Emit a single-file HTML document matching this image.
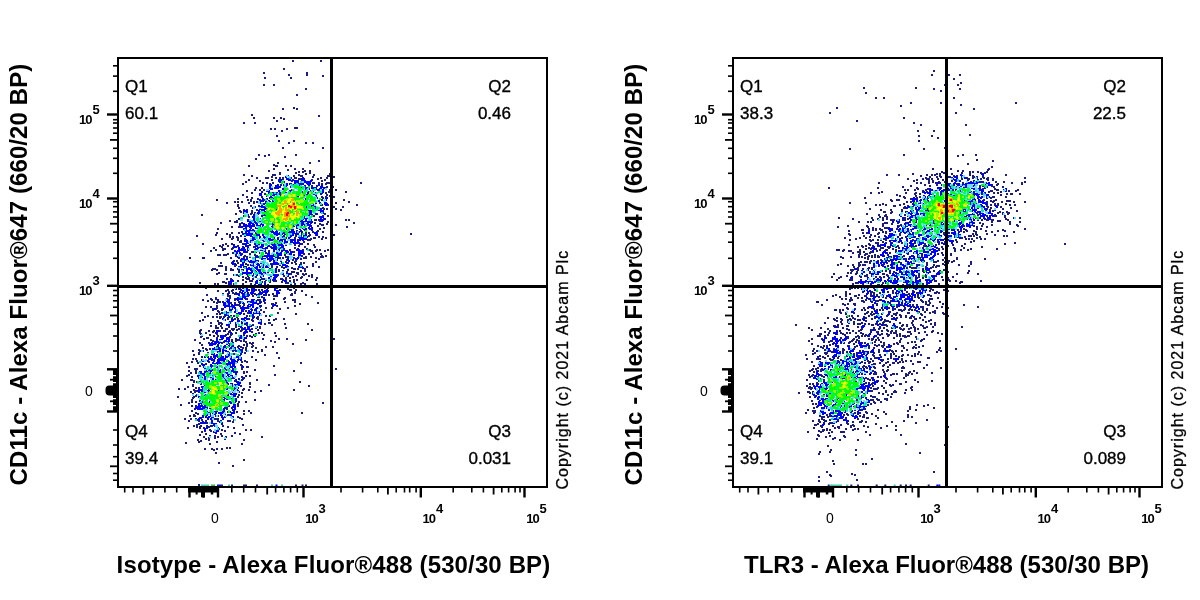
<!DOCTYPE html>
<html><head><meta charset="utf-8"><title>Flow cytometry</title>
<style>html,body{margin:0;padding:0;background:#fff;}svg{display:block;filter:blur(0.35px);}</style></head>
<body><svg width="1200" height="600" viewBox="0 0 1200 600">
<rect width="1200" height="600" fill="#fff"/>
<path fill="#1c1c7a" d="M292 60h2v2h-2zM320 60h2v2h-2zM283 68h2v2h-2zM263 72h2v2h-2zM306 72h2v2h-2zM288 74h2v2h-2zM306 74h2v2h-2zM322 75h2v2h-2zM264 77h2v2h-2zM290 77h2v2h-2zM263 84h2v2h-2zM273 84h2v2h-2zM305 88h2v2h-2zM296 94h2v2h-2zM293 107h2v2h-2zM282 108h2v2h-2zM296 108h2v2h-2zM251 114h2v2h-2zM318 115h2v2h-2zM253 117h2v2h-2zM273 117h2v2h-2zM280 117h2v2h-2zM283 118h2v2h-2zM276 120h2v2h-2zM243 122h2v2h-2zM254 122h2v2h-2zM294 127h2v2h-2zM296 127h2v2h-2zM270 128h2v2h-2zM274 128h2v2h-2zM286 128h2v2h-2zM281 130h2v2h-2zM276 135h2v2h-2zM278 140h2v2h-2zM293 140h2v2h-2zM288 142h2v2h-2zM305 142h2v2h-2zM312 142h2v2h-2zM282 147h2v2h-2zM322 147h2v2h-2zM258 154h2v2h-2zM268 154h2v2h-2zM295 154h2v2h-2zM264 155h2v2h-2zM284 156h2v2h-2zM255 158h2v2h-2zM318 160h2v2h-2zM277 162h2v2h-2zM309 162h2v2h-2zM273 164h2v2h-2zM248 165h2v2h-2zM275 165h2v2h-2zM276 165h2v2h-2zM285 165h2v2h-2zM290 165h2v2h-2zM273 168h2v2h-2zM294 168h2v2h-2zM302 168h2v2h-2zM287 169h2v2h-2zM268 170h2v2h-2zM304 170h2v2h-2zM309 170h2v2h-2zM298 171h2v2h-2zM302 171h2v2h-2zM279 172h2v2h-2zM295 172h2v2h-2zM309 172h2v2h-2zM279 173h2v2h-2zM305 173h2v2h-2zM329 173h2v2h-2zM331 173h2v2h-2zM243 174h2v2h-2zM272 174h2v2h-2zM274 174h2v2h-2zM298 174h2v2h-2zM313 174h2v2h-2zM251 175h2v2h-2zM293 175h2v2h-2zM300 175h2v2h-2zM301 175h2v2h-2zM327 175h2v2h-2zM329 175h2v2h-2zM271 176h2v2h-2zM312 176h2v2h-2zM333 176h2v2h-2zM256 177h2v2h-2zM265 177h2v2h-2zM267 177h2v2h-2zM275 177h2v2h-2zM279 177h2v2h-2zM282 177h2v2h-2zM294 177h2v2h-2zM295 177h2v2h-2zM320 177h2v2h-2zM326 177h2v2h-2zM282 178h2v2h-2zM298 178h2v2h-2zM300 178h2v2h-2zM317 178h2v2h-2zM248 179h2v2h-2zM271 179h2v2h-2zM311 179h2v2h-2zM324 179h2v2h-2zM259 180h2v2h-2zM278 180h2v2h-2zM291 180h2v2h-2zM321 180h2v2h-2zM245 181h2v2h-2zM262 182h2v2h-2zM266 182h2v2h-2zM272 182h2v2h-2zM312 182h2v2h-2zM313 182h2v2h-2zM318 182h2v2h-2zM326 182h2v2h-2zM328 182h2v2h-2zM360 182h2v2h-2zM242 183h2v2h-2zM269 183h2v2h-2zM318 183h2v2h-2zM321 183h2v2h-2zM325 183h2v2h-2zM331 183h2v2h-2zM280 184h2v2h-2zM311 185h2v2h-2zM316 185h2v2h-2zM326 186h2v2h-2zM332 186h2v2h-2zM255 187h2v2h-2zM261 187h2v2h-2zM274 187h2v2h-2zM325 187h2v2h-2zM254 189h2v2h-2zM259 189h2v2h-2zM263 189h2v2h-2zM329 189h2v2h-2zM335 189h2v2h-2zM246 190h2v2h-2zM329 190h2v2h-2zM328 191h2v2h-2zM345 191h2v2h-2zM251 192h2v2h-2zM321 192h2v2h-2zM325 192h2v2h-2zM331 192h2v2h-2zM264 193h2v2h-2zM242 194h2v2h-2zM326 194h2v2h-2zM329 195h2v2h-2zM246 196h2v2h-2zM261 196h2v2h-2zM321 196h2v2h-2zM325 196h2v2h-2zM333 196h2v2h-2zM251 197h2v2h-2zM322 197h2v2h-2zM330 197h2v2h-2zM237 198h2v2h-2zM257 198h2v2h-2zM266 198h2v2h-2zM216 199h2v2h-2zM247 199h2v2h-2zM250 199h2v2h-2zM321 199h2v2h-2zM343 199h2v2h-2zM250 200h2v2h-2zM262 200h2v2h-2zM234 201h2v2h-2zM237 201h2v2h-2zM241 201h2v2h-2zM253 201h2v2h-2zM256 201h2v2h-2zM348 201h2v2h-2zM226 202h2v2h-2zM248 202h2v2h-2zM253 202h2v2h-2zM331 202h2v2h-2zM335 202h2v2h-2zM262 203h2v2h-2zM237 204h2v2h-2zM320 204h2v2h-2zM321 204h2v2h-2zM327 204h2v2h-2zM356 204h2v2h-2zM237 205h2v2h-2zM250 205h2v2h-2zM258 205h2v2h-2zM254 206h2v2h-2zM330 206h2v2h-2zM333 206h2v2h-2zM342 206h2v2h-2zM238 207h2v2h-2zM322 207h2v2h-2zM323 208h2v2h-2zM326 208h2v2h-2zM331 208h2v2h-2zM335 208h2v2h-2zM243 209h2v2h-2zM246 209h2v2h-2zM256 209h2v2h-2zM340 209h2v2h-2zM239 210h2v2h-2zM251 210h2v2h-2zM240 211h2v2h-2zM251 212h2v2h-2zM254 212h2v2h-2zM235 213h2v2h-2zM250 213h2v2h-2zM316 213h2v2h-2zM324 213h2v2h-2zM201 214h2v2h-2zM331 214h2v2h-2zM313 215h2v2h-2zM322 215h2v2h-2zM327 215h2v2h-2zM248 216h2v2h-2zM319 216h2v2h-2zM238 218h2v2h-2zM324 218h2v2h-2zM314 219h2v2h-2zM315 219h2v2h-2zM318 219h2v2h-2zM345 219h2v2h-2zM348 219h2v2h-2zM229 220h2v2h-2zM236 220h2v2h-2zM319 220h2v2h-2zM234 221h2v2h-2zM236 221h2v2h-2zM327 221h2v2h-2zM220 222h2v2h-2zM241 222h2v2h-2zM310 222h2v2h-2zM314 222h2v2h-2zM353 222h2v2h-2zM239 223h2v2h-2zM319 223h2v2h-2zM326 223h2v2h-2zM321 224h2v2h-2zM322 224h2v2h-2zM335 224h2v2h-2zM317 225h2v2h-2zM231 226h2v2h-2zM238 226h2v2h-2zM239 226h2v2h-2zM346 226h2v2h-2zM296 227h2v2h-2zM323 227h2v2h-2zM217 228h2v2h-2zM319 228h2v2h-2zM296 230h2v2h-2zM300 230h2v2h-2zM317 230h2v2h-2zM241 231h2v2h-2zM312 231h2v2h-2zM316 231h2v2h-2zM322 231h2v2h-2zM216 232h2v2h-2zM231 232h2v2h-2zM238 232h2v2h-2zM305 232h2v2h-2zM308 232h2v2h-2zM226 233h2v2h-2zM410 233h2v2h-2zM215 234h2v2h-2zM229 234h2v2h-2zM309 234h2v2h-2zM315 234h2v2h-2zM333 234h2v2h-2zM196 235h2v2h-2zM240 235h2v2h-2zM295 235h2v2h-2zM308 235h2v2h-2zM229 236h2v2h-2zM232 236h2v2h-2zM236 236h2v2h-2zM318 236h2v2h-2zM322 236h2v2h-2zM232 237h2v2h-2zM237 237h2v2h-2zM277 237h2v2h-2zM294 237h2v2h-2zM313 237h2v2h-2zM314 237h2v2h-2zM325 237h2v2h-2zM221 238h2v2h-2zM231 238h2v2h-2zM244 238h2v2h-2zM294 238h2v2h-2zM310 238h2v2h-2zM321 238h2v2h-2zM237 239h2v2h-2zM297 239h2v2h-2zM307 239h2v2h-2zM309 239h2v2h-2zM240 240h2v2h-2zM239 241h2v2h-2zM240 241h2v2h-2zM303 241h2v2h-2zM298 242h2v2h-2zM202 243h2v2h-2zM225 243h2v2h-2zM231 243h2v2h-2zM242 243h2v2h-2zM301 243h2v2h-2zM307 243h2v2h-2zM222 244h2v2h-2zM249 244h2v2h-2zM285 244h2v2h-2zM294 244h2v2h-2zM313 244h2v2h-2zM219 245h2v2h-2zM227 245h2v2h-2zM237 245h2v2h-2zM298 245h2v2h-2zM221 246h2v2h-2zM242 246h2v2h-2zM253 246h2v2h-2zM254 246h2v2h-2zM270 246h2v2h-2zM304 246h2v2h-2zM314 246h2v2h-2zM213 247h2v2h-2zM232 247h2v2h-2zM294 247h2v2h-2zM222 248h2v2h-2zM224 248h2v2h-2zM231 248h2v2h-2zM297 248h2v2h-2zM306 248h2v2h-2zM215 249h2v2h-2zM222 249h2v2h-2zM289 249h2v2h-2zM302 249h2v2h-2zM309 249h2v2h-2zM316 249h2v2h-2zM319 249h2v2h-2zM327 249h2v2h-2zM210 250h2v2h-2zM268 250h2v2h-2zM310 250h2v2h-2zM311 250h2v2h-2zM315 250h2v2h-2zM324 250h2v2h-2zM246 251h2v2h-2zM251 251h2v2h-2zM293 251h2v2h-2zM232 252h2v2h-2zM265 252h2v2h-2zM312 252h2v2h-2zM227 253h2v2h-2zM241 253h2v2h-2zM249 253h2v2h-2zM303 253h2v2h-2zM308 253h2v2h-2zM320 253h2v2h-2zM217 254h2v2h-2zM219 254h2v2h-2zM223 254h2v2h-2zM225 254h2v2h-2zM249 254h2v2h-2zM254 254h2v2h-2zM284 254h2v2h-2zM293 254h2v2h-2zM235 255h2v2h-2zM244 255h2v2h-2zM256 255h2v2h-2zM321 255h2v2h-2zM325 255h2v2h-2zM243 256h2v2h-2zM246 256h2v2h-2zM249 256h2v2h-2zM285 256h2v2h-2zM287 256h2v2h-2zM305 256h2v2h-2zM310 256h2v2h-2zM320 256h2v2h-2zM322 256h2v2h-2zM189 257h2v2h-2zM202 257h2v2h-2zM203 257h2v2h-2zM230 257h2v2h-2zM238 257h2v2h-2zM279 257h2v2h-2zM282 257h2v2h-2zM293 257h2v2h-2zM303 257h2v2h-2zM305 257h2v2h-2zM315 257h2v2h-2zM296 258h2v2h-2zM300 258h2v2h-2zM318 258h2v2h-2zM286 259h2v2h-2zM292 259h2v2h-2zM233 260h2v2h-2zM236 260h2v2h-2zM257 260h2v2h-2zM269 260h2v2h-2zM280 260h2v2h-2zM295 260h2v2h-2zM285 261h2v2h-2zM294 261h2v2h-2zM315 261h2v2h-2zM220 262h2v2h-2zM231 262h2v2h-2zM237 262h2v2h-2zM287 262h2v2h-2zM291 262h2v2h-2zM300 262h2v2h-2zM303 262h2v2h-2zM245 263h2v2h-2zM270 263h2v2h-2zM295 263h2v2h-2zM300 263h2v2h-2zM312 263h2v2h-2zM235 264h2v2h-2zM247 264h2v2h-2zM218 265h2v2h-2zM220 265h2v2h-2zM221 265h2v2h-2zM234 265h2v2h-2zM312 265h2v2h-2zM225 266h2v2h-2zM243 266h2v2h-2zM271 266h2v2h-2zM276 266h2v2h-2zM281 266h2v2h-2zM306 266h2v2h-2zM318 266h2v2h-2zM225 267h2v2h-2zM283 267h2v2h-2zM291 267h2v2h-2zM212 268h2v2h-2zM214 268h2v2h-2zM230 268h2v2h-2zM237 268h2v2h-2zM293 268h2v2h-2zM294 268h2v2h-2zM297 268h2v2h-2zM304 268h2v2h-2zM211 269h2v2h-2zM216 269h2v2h-2zM225 269h2v2h-2zM230 269h2v2h-2zM232 269h2v2h-2zM238 269h2v2h-2zM241 269h2v2h-2zM242 269h2v2h-2zM278 269h2v2h-2zM287 269h2v2h-2zM278 270h2v2h-2zM282 270h2v2h-2zM300 270h2v2h-2zM304 270h2v2h-2zM238 271h2v2h-2zM286 271h2v2h-2zM291 271h2v2h-2zM293 271h2v2h-2zM218 272h2v2h-2zM296 272h2v2h-2zM297 272h2v2h-2zM216 273h2v2h-2zM224 273h2v2h-2zM225 273h2v2h-2zM290 273h2v2h-2zM297 273h2v2h-2zM302 273h2v2h-2zM305 273h2v2h-2zM233 274h2v2h-2zM236 274h2v2h-2zM277 274h2v2h-2zM303 274h2v2h-2zM311 274h2v2h-2zM238 275h2v2h-2zM283 275h2v2h-2zM295 275h2v2h-2zM308 275h2v2h-2zM242 276h2v2h-2zM255 276h2v2h-2zM292 276h2v2h-2zM301 276h2v2h-2zM311 276h2v2h-2zM245 277h2v2h-2zM248 277h2v2h-2zM285 277h2v2h-2zM289 277h2v2h-2zM300 277h2v2h-2zM316 277h2v2h-2zM226 278h2v2h-2zM230 278h2v2h-2zM246 278h2v2h-2zM248 278h2v2h-2zM252 278h2v2h-2zM261 278h2v2h-2zM262 278h2v2h-2zM264 278h2v2h-2zM280 278h2v2h-2zM281 278h2v2h-2zM231 279h2v2h-2zM242 279h2v2h-2zM265 279h2v2h-2zM285 279h2v2h-2zM293 279h2v2h-2zM296 279h2v2h-2zM306 279h2v2h-2zM315 279h2v2h-2zM237 280h2v2h-2zM249 280h2v2h-2zM251 280h2v2h-2zM273 280h2v2h-2zM275 280h2v2h-2zM289 280h2v2h-2zM222 281h2v2h-2zM223 281h2v2h-2zM228 281h2v2h-2zM245 281h2v2h-2zM255 281h2v2h-2zM264 281h2v2h-2zM269 281h2v2h-2zM281 281h2v2h-2zM293 281h2v2h-2zM199 282h2v2h-2zM225 282h2v2h-2zM285 282h2v2h-2zM287 282h2v2h-2zM302 282h2v2h-2zM214 283h2v2h-2zM217 283h2v2h-2zM242 283h2v2h-2zM250 283h2v2h-2zM290 283h2v2h-2zM294 283h2v2h-2zM300 283h2v2h-2zM304 283h2v2h-2zM316 283h2v2h-2zM230 284h2v2h-2zM264 284h2v2h-2zM267 284h2v2h-2zM316 284h2v2h-2zM216 285h2v2h-2zM227 285h2v2h-2zM247 285h2v2h-2zM272 285h2v2h-2zM279 285h2v2h-2zM289 285h2v2h-2zM293 285h2v2h-2zM308 285h2v2h-2zM313 285h2v2h-2zM220 286h2v2h-2zM243 286h2v2h-2zM270 286h2v2h-2zM289 286h2v2h-2zM205 287h2v2h-2zM264 287h2v2h-2zM267 287h2v2h-2zM293 287h2v2h-2zM235 288h2v2h-2zM238 288h2v2h-2zM239 288h2v2h-2zM287 288h2v2h-2zM227 289h2v2h-2zM232 289h2v2h-2zM248 289h2v2h-2zM255 289h2v2h-2zM258 289h2v2h-2zM261 289h2v2h-2zM279 289h2v2h-2zM289 289h2v2h-2zM290 289h2v2h-2zM295 289h2v2h-2zM217 290h2v2h-2zM225 290h2v2h-2zM231 290h2v2h-2zM267 290h2v2h-2zM301 290h2v2h-2zM228 291h2v2h-2zM239 291h2v2h-2zM294 291h2v2h-2zM228 292h2v2h-2zM232 292h2v2h-2zM235 292h2v2h-2zM294 292h2v2h-2zM222 293h2v2h-2zM234 293h2v2h-2zM238 293h2v2h-2zM254 293h2v2h-2zM272 293h2v2h-2zM291 293h2v2h-2zM206 294h2v2h-2zM265 294h2v2h-2zM268 294h2v2h-2zM290 294h2v2h-2zM291 294h2v2h-2zM305 294h2v2h-2zM227 295h2v2h-2zM229 295h2v2h-2zM252 295h2v2h-2zM273 295h2v2h-2zM275 295h2v2h-2zM276 295h2v2h-2zM261 296h2v2h-2zM311 296h2v2h-2zM215 297h2v2h-2zM229 297h2v2h-2zM284 297h2v2h-2zM210 298h2v2h-2zM215 298h2v2h-2zM226 298h2v2h-2zM234 298h2v2h-2zM245 298h2v2h-2zM246 298h2v2h-2zM273 298h2v2h-2zM283 298h2v2h-2zM202 299h2v2h-2zM211 299h2v2h-2zM234 299h2v2h-2zM257 299h2v2h-2zM259 299h2v2h-2zM292 299h2v2h-2zM294 299h2v2h-2zM207 300h2v2h-2zM213 301h2v2h-2zM217 301h2v2h-2zM219 301h2v2h-2zM222 301h2v2h-2zM238 301h2v2h-2zM260 301h2v2h-2zM284 301h2v2h-2zM294 301h2v2h-2zM216 302h2v2h-2zM230 302h2v2h-2zM234 302h2v2h-2zM259 302h2v2h-2zM264 302h2v2h-2zM275 302h2v2h-2zM317 302h2v2h-2zM243 303h2v2h-2zM271 303h2v2h-2zM272 303h2v2h-2zM299 303h2v2h-2zM236 304h2v2h-2zM238 304h2v2h-2zM243 304h2v2h-2zM216 305h2v2h-2zM239 305h2v2h-2zM260 305h2v2h-2zM276 305h2v2h-2zM294 305h2v2h-2zM205 306h2v2h-2zM210 306h2v2h-2zM259 306h2v2h-2zM216 307h2v2h-2zM265 307h2v2h-2zM271 307h2v2h-2zM287 307h2v2h-2zM212 308h2v2h-2zM215 308h2v2h-2zM221 308h2v2h-2zM222 308h2v2h-2zM255 308h2v2h-2zM279 308h2v2h-2zM212 309h2v2h-2zM221 309h2v2h-2zM251 309h2v2h-2zM260 309h2v2h-2zM217 310h2v2h-2zM245 310h2v2h-2zM218 311h2v2h-2zM263 311h2v2h-2zM201 312h2v2h-2zM221 312h2v2h-2zM247 312h2v2h-2zM277 312h2v2h-2zM216 313h2v2h-2zM219 313h2v2h-2zM243 313h2v2h-2zM295 313h2v2h-2zM207 315h2v2h-2zM224 315h2v2h-2zM230 315h2v2h-2zM233 315h2v2h-2zM246 315h2v2h-2zM249 315h2v2h-2zM265 315h2v2h-2zM269 315h2v2h-2zM204 316h2v2h-2zM212 316h2v2h-2zM216 316h2v2h-2zM219 316h2v2h-2zM220 316h2v2h-2zM223 316h2v2h-2zM253 316h2v2h-2zM257 316h2v2h-2zM219 317h2v2h-2zM227 317h2v2h-2zM256 317h2v2h-2zM227 318h2v2h-2zM234 318h2v2h-2zM237 318h2v2h-2zM248 318h2v2h-2zM257 318h2v2h-2zM275 318h2v2h-2zM283 318h2v2h-2zM202 319h2v2h-2zM224 319h2v2h-2zM251 319h2v2h-2zM260 319h2v2h-2zM268 319h2v2h-2zM273 319h2v2h-2zM199 320h2v2h-2zM217 320h2v2h-2zM252 320h2v2h-2zM210 322h2v2h-2zM218 322h2v2h-2zM220 322h2v2h-2zM268 322h2v2h-2zM269 322h2v2h-2zM218 323h2v2h-2zM221 323h2v2h-2zM241 323h2v2h-2zM244 323h2v2h-2zM260 323h2v2h-2zM264 323h2v2h-2zM284 323h2v2h-2zM307 323h2v2h-2zM246 324h2v2h-2zM252 324h2v2h-2zM271 324h2v2h-2zM210 325h2v2h-2zM215 325h2v2h-2zM220 325h2v2h-2zM228 325h2v2h-2zM235 325h2v2h-2zM238 325h2v2h-2zM228 326h2v2h-2zM235 326h2v2h-2zM256 326h2v2h-2zM259 326h2v2h-2zM215 327h2v2h-2zM217 327h2v2h-2zM221 327h2v2h-2zM241 327h2v2h-2zM244 327h2v2h-2zM255 327h2v2h-2zM259 327h2v2h-2zM285 327h2v2h-2zM225 328h2v2h-2zM226 328h2v2h-2zM231 328h2v2h-2zM233 328h2v2h-2zM238 328h2v2h-2zM251 328h2v2h-2zM200 329h2v2h-2zM232 329h2v2h-2zM236 329h2v2h-2zM241 329h2v2h-2zM257 329h2v2h-2zM311 329h2v2h-2zM199 330h2v2h-2zM208 330h2v2h-2zM213 330h2v2h-2zM216 330h2v2h-2zM219 330h2v2h-2zM223 330h2v2h-2zM224 330h2v2h-2zM229 330h2v2h-2zM240 330h2v2h-2zM212 331h2v2h-2zM228 331h2v2h-2zM251 331h2v2h-2zM199 332h2v2h-2zM205 332h2v2h-2zM235 332h2v2h-2zM258 332h2v2h-2zM261 332h2v2h-2zM274 332h2v2h-2zM200 333h2v2h-2zM216 333h2v2h-2zM227 333h2v2h-2zM231 333h2v2h-2zM209 334h2v2h-2zM225 334h2v2h-2zM230 334h2v2h-2zM243 334h2v2h-2zM263 334h2v2h-2zM201 335h2v2h-2zM213 335h2v2h-2zM217 335h2v2h-2zM246 335h2v2h-2zM249 335h2v2h-2zM275 335h2v2h-2zM200 336h2v2h-2zM229 336h2v2h-2zM251 336h2v2h-2zM206 337h2v2h-2zM207 337h2v2h-2zM216 337h2v2h-2zM203 338h2v2h-2zM216 338h2v2h-2zM235 338h2v2h-2zM262 338h2v2h-2zM278 338h2v2h-2zM286 338h2v2h-2zM333 338h2v2h-2zM194 339h2v2h-2zM210 339h2v2h-2zM231 339h2v2h-2zM236 339h2v2h-2zM238 339h2v2h-2zM305 339h2v2h-2zM212 340h2v2h-2zM235 340h2v2h-2zM240 340h2v2h-2zM243 340h2v2h-2zM270 340h2v2h-2zM223 341h2v2h-2zM245 341h2v2h-2zM274 341h2v2h-2zM199 342h2v2h-2zM208 342h2v2h-2zM221 342h2v2h-2zM249 342h2v2h-2zM252 342h2v2h-2zM246 343h2v2h-2zM251 343h2v2h-2zM292 343h2v2h-2zM201 344h2v2h-2zM243 344h2v2h-2zM238 345h2v2h-2zM246 345h2v2h-2zM252 345h2v2h-2zM237 346h2v2h-2zM240 346h2v2h-2zM251 346h2v2h-2zM265 346h2v2h-2zM272 346h2v2h-2zM202 347h2v2h-2zM242 347h2v2h-2zM245 347h2v2h-2zM255 347h2v2h-2zM205 348h2v2h-2zM209 348h2v2h-2zM198 349h2v2h-2zM206 349h2v2h-2zM245 349h2v2h-2zM261 349h2v2h-2zM192 350h2v2h-2zM199 350h2v2h-2zM202 350h2v2h-2zM232 350h2v2h-2zM246 350h2v2h-2zM252 350h2v2h-2zM261 350h2v2h-2zM257 351h2v2h-2zM198 352h2v2h-2zM207 352h2v2h-2zM222 352h2v2h-2zM244 352h2v2h-2zM276 352h2v2h-2zM198 353h2v2h-2zM233 353h2v2h-2zM234 353h2v2h-2zM193 354h2v2h-2zM264 354h2v2h-2zM225 355h2v2h-2zM201 356h2v2h-2zM210 356h2v2h-2zM251 356h2v2h-2zM278 357h2v2h-2zM192 358h2v2h-2zM195 358h2v2h-2zM237 359h2v2h-2zM255 359h2v2h-2zM196 360h2v2h-2zM227 360h2v2h-2zM244 360h2v2h-2zM191 361h2v2h-2zM208 361h2v2h-2zM241 361h2v2h-2zM246 361h2v2h-2zM186 362h2v2h-2zM197 362h2v2h-2zM300 362h2v2h-2zM205 363h2v2h-2zM240 364h2v2h-2zM199 365h2v2h-2zM241 365h2v2h-2zM273 365h2v2h-2zM188 366h2v2h-2zM246 366h2v2h-2zM247 366h2v2h-2zM241 367h2v2h-2zM194 368h2v2h-2zM196 368h2v2h-2zM241 368h2v2h-2zM335 368h2v2h-2zM195 369h2v2h-2zM254 369h2v2h-2zM188 370h2v2h-2zM293 370h2v2h-2zM195 371h2v2h-2zM236 371h2v2h-2zM243 371h2v2h-2zM246 371h2v2h-2zM190 372h2v2h-2zM195 372h2v2h-2zM243 372h2v2h-2zM188 374h2v2h-2zM274 374h2v2h-2zM186 375h2v2h-2zM245 375h2v2h-2zM249 375h2v2h-2zM191 376h2v2h-2zM241 376h2v2h-2zM238 378h2v2h-2zM242 378h2v2h-2zM181 379h2v2h-2zM190 379h2v2h-2zM191 379h2v2h-2zM241 379h2v2h-2zM256 379h2v2h-2zM193 380h2v2h-2zM234 380h2v2h-2zM193 381h2v2h-2zM196 381h2v2h-2zM299 381h2v2h-2zM249 382h2v2h-2zM230 383h2v2h-2zM249 383h2v2h-2zM192 384h2v2h-2zM268 384h2v2h-2zM192 385h2v2h-2zM240 385h2v2h-2zM308 385h2v2h-2zM187 386h2v2h-2zM249 386h2v2h-2zM195 387h2v2h-2zM198 387h2v2h-2zM178 388h2v2h-2zM184 388h2v2h-2zM243 388h2v2h-2zM193 389h2v2h-2zM242 389h2v2h-2zM248 389h2v2h-2zM293 389h2v2h-2zM195 390h2v2h-2zM197 390h2v2h-2zM260 390h2v2h-2zM190 391h2v2h-2zM194 391h2v2h-2zM238 391h2v2h-2zM254 391h2v2h-2zM241 392h2v2h-2zM192 393h2v2h-2zM196 394h2v2h-2zM238 394h2v2h-2zM195 395h2v2h-2zM177 396h2v2h-2zM193 396h2v2h-2zM237 396h2v2h-2zM241 396h2v2h-2zM192 397h2v2h-2zM191 399h2v2h-2zM254 399h2v2h-2zM191 401h2v2h-2zM195 401h2v2h-2zM238 401h2v2h-2zM245 401h2v2h-2zM188 402h2v2h-2zM322 402h2v2h-2zM237 403h2v2h-2zM180 404h2v2h-2zM191 405h2v2h-2zM195 405h2v2h-2zM237 405h2v2h-2zM231 407h2v2h-2zM194 408h2v2h-2zM226 408h2v2h-2zM191 410h2v2h-2zM243 410h2v2h-2zM248 410h2v2h-2zM227 411h2v2h-2zM236 411h2v2h-2zM195 412h2v2h-2zM250 412h2v2h-2zM301 412h2v2h-2zM197 413h2v2h-2zM243 413h2v2h-2zM193 414h2v2h-2zM227 414h2v2h-2zM228 414h2v2h-2zM189 415h2v2h-2zM193 415h2v2h-2zM194 415h2v2h-2zM215 415h2v2h-2zM217 415h2v2h-2zM202 416h2v2h-2zM224 416h2v2h-2zM237 416h2v2h-2zM199 417h2v2h-2zM207 417h2v2h-2zM239 417h2v2h-2zM184 418h2v2h-2zM190 418h2v2h-2zM195 418h2v2h-2zM214 418h2v2h-2zM216 418h2v2h-2zM217 418h2v2h-2zM241 418h2v2h-2zM201 419h2v2h-2zM233 419h2v2h-2zM188 420h2v2h-2zM198 420h2v2h-2zM205 420h2v2h-2zM217 420h2v2h-2zM227 420h2v2h-2zM229 420h2v2h-2zM232 421h2v2h-2zM202 422h2v2h-2zM206 422h2v2h-2zM198 423h2v2h-2zM196 424h2v2h-2zM242 424h2v2h-2zM193 425h2v2h-2zM200 425h2v2h-2zM206 425h2v2h-2zM210 425h2v2h-2zM211 425h2v2h-2zM222 425h2v2h-2zM196 426h2v2h-2zM199 426h2v2h-2zM208 426h2v2h-2zM227 426h2v2h-2zM187 427h2v2h-2zM199 427h2v2h-2zM203 427h2v2h-2zM233 427h2v2h-2zM209 429h2v2h-2zM221 429h2v2h-2zM245 429h2v2h-2zM250 429h2v2h-2zM204 430h2v2h-2zM210 430h2v2h-2zM224 430h2v2h-2zM201 431h2v2h-2zM234 432h2v2h-2zM205 433h2v2h-2zM220 433h2v2h-2zM239 433h2v2h-2zM199 434h2v2h-2zM209 435h2v2h-2zM214 435h2v2h-2zM221 435h2v2h-2zM231 435h2v2h-2zM203 436h2v2h-2zM217 436h2v2h-2zM225 436h2v2h-2zM261 436h2v2h-2zM208 437h2v2h-2zM214 437h2v2h-2zM205 438h2v2h-2zM224 438h2v2h-2zM197 439h2v2h-2zM208 439h2v2h-2zM243 439h2v2h-2zM200 440h2v2h-2zM198 441h2v2h-2zM216 441h2v2h-2zM185 442h2v2h-2zM209 443h2v2h-2zM241 443h2v2h-2zM226 447h2v2h-2zM229 447h2v2h-2zM204 448h2v2h-2zM211 448h2v2h-2zM216 448h2v2h-2zM221 448h2v2h-2zM213 449h2v2h-2zM215 452h2v2h-2zM243 459h2v2h-2zM218 462h2v2h-2zM232 465h2v2h-2zM198 484h2v2h-2zM933 70h2v2h-2zM931 74h2v2h-2zM948 74h2v2h-2zM959 74h2v2h-2zM953 78h2v2h-2zM960 82h2v2h-2zM944 84h2v2h-2zM957 84h2v2h-2zM863 87h2v2h-2zM915 87h2v2h-2zM933 88h2v2h-2zM959 88h2v2h-2zM940 90h2v2h-2zM865 92h2v2h-2zM875 97h2v2h-2zM883 97h2v2h-2zM953 97h2v2h-2zM910 102h2v2h-2zM940 102h2v2h-2zM1015 102h2v2h-2zM960 104h2v2h-2zM900 105h2v2h-2zM836 107h2v2h-2zM973 108h2v2h-2zM829 112h2v2h-2zM955 112h2v2h-2zM903 117h2v2h-2zM856 120h2v2h-2zM913 122h2v2h-2zM920 124h2v2h-2zM965 124h2v2h-2zM917 130h2v2h-2zM933 130h2v2h-2zM969 134h2v2h-2zM918 135h2v2h-2zM931 135h2v2h-2zM937 137h2v2h-2zM918 140h2v2h-2zM944 147h2v2h-2zM849 148h2v2h-2zM923 148h2v2h-2zM903 154h2v2h-2zM962 154h2v2h-2zM975 154h2v2h-2zM957 155h2v2h-2zM976 159h2v2h-2zM992 160h2v2h-2zM967 163h2v2h-2zM991 166h2v2h-2zM932 168h2v2h-2zM950 168h2v2h-2zM988 168h2v2h-2zM987 169h2v2h-2zM957 170h2v2h-2zM962 170h2v2h-2zM941 171h2v2h-2zM969 171h2v2h-2zM972 171h2v2h-2zM977 171h2v2h-2zM986 171h2v2h-2zM943 172h2v2h-2zM961 172h2v2h-2zM980 172h2v2h-2zM984 172h2v2h-2zM912 173h2v2h-2zM936 173h2v2h-2zM939 173h2v2h-2zM951 173h2v2h-2zM969 173h2v2h-2zM981 173h2v2h-2zM886 174h2v2h-2zM898 174h2v2h-2zM926 174h2v2h-2zM931 174h2v2h-2zM934 174h2v2h-2zM969 174h2v2h-2zM1005 174h2v2h-2zM920 175h2v2h-2zM939 175h2v2h-2zM953 175h2v2h-2zM956 175h2v2h-2zM972 175h2v2h-2zM929 176h2v2h-2zM936 176h2v2h-2zM940 176h2v2h-2zM948 176h2v2h-2zM949 176h2v2h-2zM973 176h2v2h-2zM976 176h2v2h-2zM982 176h2v2h-2zM925 177h2v2h-2zM966 177h2v2h-2zM972 177h2v2h-2zM976 177h2v2h-2zM983 177h2v2h-2zM987 177h2v2h-2zM1024 177h2v2h-2zM907 178h2v2h-2zM922 178h2v2h-2zM926 178h2v2h-2zM928 178h2v2h-2zM931 178h2v2h-2zM937 178h2v2h-2zM961 178h2v2h-2zM968 178h2v2h-2zM980 178h2v2h-2zM986 178h2v2h-2zM992 178h2v2h-2zM916 179h2v2h-2zM942 179h2v2h-2zM967 179h2v2h-2zM987 179h2v2h-2zM992 179h2v2h-2zM913 180h2v2h-2zM928 180h2v2h-2zM932 180h2v2h-2zM951 180h2v2h-2zM932 181h2v2h-2zM938 181h2v2h-2zM944 181h2v2h-2zM970 181h2v2h-2zM981 181h2v2h-2zM982 181h2v2h-2zM995 181h2v2h-2zM1003 181h2v2h-2zM1024 181h2v2h-2zM878 182h2v2h-2zM916 182h2v2h-2zM920 182h2v2h-2zM928 182h2v2h-2zM935 182h2v2h-2zM939 182h2v2h-2zM962 182h2v2h-2zM1011 182h2v2h-2zM1021 182h2v2h-2zM956 183h2v2h-2zM997 183h2v2h-2zM1021 183h2v2h-2zM924 184h2v2h-2zM936 184h2v2h-2zM991 184h2v2h-2zM996 184h2v2h-2zM910 185h2v2h-2zM929 185h2v2h-2zM979 185h2v2h-2zM991 185h2v2h-2zM902 186h2v2h-2zM993 186h2v2h-2zM1002 186h2v2h-2zM828 187h2v2h-2zM877 187h2v2h-2zM916 187h2v2h-2zM940 187h2v2h-2zM917 188h2v2h-2zM927 188h2v2h-2zM982 188h2v2h-2zM994 188h2v2h-2zM904 189h2v2h-2zM907 189h2v2h-2zM914 189h2v2h-2zM925 189h2v2h-2zM930 189h2v2h-2zM996 189h2v2h-2zM997 189h2v2h-2zM1017 189h2v2h-2zM922 190h2v2h-2zM990 190h2v2h-2zM991 190h2v2h-2zM1008 190h2v2h-2zM1015 190h2v2h-2zM881 191h2v2h-2zM922 191h2v2h-2zM926 191h2v2h-2zM988 191h2v2h-2zM1000 191h2v2h-2zM870 192h2v2h-2zM878 192h2v2h-2zM905 192h2v2h-2zM915 192h2v2h-2zM993 192h2v2h-2zM997 192h2v2h-2zM914 193h2v2h-2zM919 193h2v2h-2zM1006 193h2v2h-2zM1010 193h2v2h-2zM1011 193h2v2h-2zM1019 193h2v2h-2zM896 194h2v2h-2zM1000 194h2v2h-2zM899 195h2v2h-2zM915 195h2v2h-2zM903 196h2v2h-2zM919 196h2v2h-2zM992 196h2v2h-2zM993 196h2v2h-2zM1005 196h2v2h-2zM864 197h2v2h-2zM904 197h2v2h-2zM916 197h2v2h-2zM977 197h2v2h-2zM986 197h2v2h-2zM990 197h2v2h-2zM910 198h2v2h-2zM890 199h2v2h-2zM896 199h2v2h-2zM898 199h2v2h-2zM983 199h2v2h-2zM995 199h2v2h-2zM891 200h2v2h-2zM979 200h2v2h-2zM990 200h2v2h-2zM993 200h2v2h-2zM1006 200h2v2h-2zM1007 200h2v2h-2zM1009 200h2v2h-2zM906 201h2v2h-2zM910 201h2v2h-2zM986 201h2v2h-2zM992 201h2v2h-2zM1001 201h2v2h-2zM1013 201h2v2h-2zM1024 201h2v2h-2zM849 202h2v2h-2zM865 202h2v2h-2zM882 203h2v2h-2zM903 203h2v2h-2zM994 203h2v2h-2zM997 203h2v2h-2zM1005 203h2v2h-2zM875 204h2v2h-2zM879 204h2v2h-2zM885 204h2v2h-2zM899 204h2v2h-2zM990 204h2v2h-2zM994 204h2v2h-2zM997 204h2v2h-2zM1009 204h2v2h-2zM1014 204h2v2h-2zM893 205h2v2h-2zM894 205h2v2h-2zM907 205h2v2h-2zM986 205h2v2h-2zM904 206h2v2h-2zM987 206h2v2h-2zM1000 206h2v2h-2zM903 207h2v2h-2zM904 207h2v2h-2zM990 207h2v2h-2zM1010 207h2v2h-2zM869 208h2v2h-2zM915 208h2v2h-2zM986 208h2v2h-2zM1002 208h2v2h-2zM880 209h2v2h-2zM890 209h2v2h-2zM901 209h2v2h-2zM989 209h2v2h-2zM994 209h2v2h-2zM992 210h2v2h-2zM1016 210h2v2h-2zM883 211h2v2h-2zM884 211h2v2h-2zM891 211h2v2h-2zM901 211h2v2h-2zM905 211h2v2h-2zM906 211h2v2h-2zM999 211h2v2h-2zM1006 211h2v2h-2zM890 212h2v2h-2zM976 212h2v2h-2zM997 212h2v2h-2zM1002 212h2v2h-2zM1008 212h2v2h-2zM866 213h2v2h-2zM1002 213h2v2h-2zM1007 213h2v2h-2zM878 214h2v2h-2zM885 214h2v2h-2zM904 214h2v2h-2zM977 214h2v2h-2zM994 214h2v2h-2zM884 215h2v2h-2zM907 215h2v2h-2zM986 215h2v2h-2zM994 215h2v2h-2zM995 215h2v2h-2zM1004 215h2v2h-2zM879 216h2v2h-2zM886 216h2v2h-2zM1004 216h2v2h-2zM838 217h2v2h-2zM871 217h2v2h-2zM882 217h2v2h-2zM904 217h2v2h-2zM1013 217h2v2h-2zM1019 217h2v2h-2zM852 218h2v2h-2zM877 218h2v2h-2zM886 218h2v2h-2zM907 218h2v2h-2zM984 218h2v2h-2zM1005 218h2v2h-2zM872 219h2v2h-2zM882 219h2v2h-2zM890 219h2v2h-2zM892 219h2v2h-2zM893 219h2v2h-2zM898 219h2v2h-2zM902 219h2v2h-2zM904 219h2v2h-2zM981 219h2v2h-2zM986 219h2v2h-2zM987 219h2v2h-2zM991 219h2v2h-2zM992 219h2v2h-2zM1007 219h2v2h-2zM997 220h2v2h-2zM999 220h2v2h-2zM858 221h2v2h-2zM867 221h2v2h-2zM870 221h2v2h-2zM909 221h2v2h-2zM991 221h2v2h-2zM1009 221h2v2h-2zM1019 221h2v2h-2zM884 222h2v2h-2zM886 222h2v2h-2zM897 222h2v2h-2zM905 222h2v2h-2zM973 222h2v2h-2zM979 222h2v2h-2zM882 223h2v2h-2zM891 223h2v2h-2zM982 223h2v2h-2zM1009 223h2v2h-2zM882 224h2v2h-2zM900 224h2v2h-2zM991 224h2v2h-2zM1016 224h2v2h-2zM847 225h2v2h-2zM866 225h2v2h-2zM882 225h2v2h-2zM897 225h2v2h-2zM898 225h2v2h-2zM963 225h2v2h-2zM973 225h2v2h-2zM981 225h2v2h-2zM1017 225h2v2h-2zM837 226h2v2h-2zM867 226h2v2h-2zM976 226h2v2h-2zM986 226h2v2h-2zM872 227h2v2h-2zM884 227h2v2h-2zM886 227h2v2h-2zM888 227h2v2h-2zM868 228h2v2h-2zM875 228h2v2h-2zM879 228h2v2h-2zM891 228h2v2h-2zM896 228h2v2h-2zM963 228h2v2h-2zM976 228h2v2h-2zM980 228h2v2h-2zM1024 228h2v2h-2zM861 229h2v2h-2zM862 229h2v2h-2zM872 229h2v2h-2zM875 229h2v2h-2zM880 229h2v2h-2zM881 229h2v2h-2zM910 229h2v2h-2zM957 229h2v2h-2zM965 229h2v2h-2zM1002 229h2v2h-2zM848 230h2v2h-2zM960 230h2v2h-2zM966 230h2v2h-2zM973 230h2v2h-2zM985 230h2v2h-2zM997 230h2v2h-2zM1004 230h2v2h-2zM868 231h2v2h-2zM882 231h2v2h-2zM885 231h2v2h-2zM894 231h2v2h-2zM963 231h2v2h-2zM975 231h2v2h-2zM991 231h2v2h-2zM1013 231h2v2h-2zM862 232h2v2h-2zM866 232h2v2h-2zM878 232h2v2h-2zM885 232h2v2h-2zM904 232h2v2h-2zM943 232h2v2h-2zM948 232h2v2h-2zM951 232h2v2h-2zM848 233h2v2h-2zM877 233h2v2h-2zM899 233h2v2h-2zM943 233h2v2h-2zM972 233h2v2h-2zM975 233h2v2h-2zM986 233h2v2h-2zM849 234h2v2h-2zM870 234h2v2h-2zM899 234h2v2h-2zM976 234h2v2h-2zM994 234h2v2h-2zM863 235h2v2h-2zM874 235h2v2h-2zM884 235h2v2h-2zM918 235h2v2h-2zM968 235h2v2h-2zM970 235h2v2h-2zM973 235h2v2h-2zM1003 235h2v2h-2zM1006 235h2v2h-2zM869 236h2v2h-2zM878 236h2v2h-2zM905 236h2v2h-2zM914 236h2v2h-2zM964 236h2v2h-2zM979 236h2v2h-2zM844 237h2v2h-2zM859 237h2v2h-2zM865 237h2v2h-2zM901 237h2v2h-2zM961 237h2v2h-2zM976 237h2v2h-2zM855 238h2v2h-2zM883 238h2v2h-2zM944 238h2v2h-2zM965 238h2v2h-2zM968 238h2v2h-2zM971 238h2v2h-2zM980 238h2v2h-2zM984 238h2v2h-2zM849 239h2v2h-2zM869 239h2v2h-2zM872 239h2v2h-2zM877 239h2v2h-2zM880 239h2v2h-2zM885 239h2v2h-2zM912 239h2v2h-2zM955 239h2v2h-2zM870 240h2v2h-2zM952 240h2v2h-2zM973 240h2v2h-2zM882 241h2v2h-2zM898 241h2v2h-2zM937 241h2v2h-2zM944 241h2v2h-2zM956 241h2v2h-2zM970 241h2v2h-2zM875 242h2v2h-2zM877 242h2v2h-2zM885 242h2v2h-2zM890 242h2v2h-2zM901 242h2v2h-2zM914 242h2v2h-2zM941 242h2v2h-2zM944 242h2v2h-2zM1014 242h2v2h-2zM868 243h2v2h-2zM924 243h2v2h-2zM938 243h2v2h-2zM964 243h2v2h-2zM1004 243h2v2h-2zM1064 243h2v2h-2zM848 244h2v2h-2zM869 244h2v2h-2zM880 244h2v2h-2zM935 244h2v2h-2zM952 244h2v2h-2zM861 245h2v2h-2zM865 245h2v2h-2zM872 245h2v2h-2zM877 245h2v2h-2zM897 245h2v2h-2zM909 245h2v2h-2zM915 245h2v2h-2zM923 245h2v2h-2zM947 245h2v2h-2zM961 245h2v2h-2zM857 246h2v2h-2zM862 246h2v2h-2zM887 246h2v2h-2zM889 246h2v2h-2zM941 246h2v2h-2zM945 246h2v2h-2zM981 246h2v2h-2zM868 247h2v2h-2zM880 247h2v2h-2zM882 247h2v2h-2zM888 247h2v2h-2zM898 247h2v2h-2zM922 247h2v2h-2zM953 247h2v2h-2zM963 247h2v2h-2zM865 248h2v2h-2zM870 248h2v2h-2zM875 248h2v2h-2zM892 248h2v2h-2zM938 248h2v2h-2zM942 248h2v2h-2zM946 248h2v2h-2zM954 248h2v2h-2zM970 248h2v2h-2zM996 248h2v2h-2zM836 249h2v2h-2zM838 249h2v2h-2zM843 249h2v2h-2zM859 249h2v2h-2zM879 249h2v2h-2zM885 249h2v2h-2zM886 249h2v2h-2zM895 249h2v2h-2zM938 249h2v2h-2zM945 249h2v2h-2zM960 249h2v2h-2zM967 249h2v2h-2zM842 250h2v2h-2zM848 250h2v2h-2zM850 250h2v2h-2zM876 250h2v2h-2zM954 250h2v2h-2zM857 251h2v2h-2zM859 251h2v2h-2zM863 251h2v2h-2zM870 251h2v2h-2zM872 251h2v2h-2zM895 251h2v2h-2zM852 252h2v2h-2zM869 252h2v2h-2zM886 252h2v2h-2zM889 252h2v2h-2zM906 252h2v2h-2zM913 252h2v2h-2zM941 252h2v2h-2zM859 253h2v2h-2zM865 253h2v2h-2zM866 253h2v2h-2zM907 253h2v2h-2zM937 253h2v2h-2zM950 253h2v2h-2zM858 254h2v2h-2zM864 254h2v2h-2zM874 254h2v2h-2zM921 254h2v2h-2zM942 254h2v2h-2zM950 254h2v2h-2zM868 255h2v2h-2zM871 255h2v2h-2zM877 255h2v2h-2zM883 255h2v2h-2zM893 255h2v2h-2zM903 255h2v2h-2zM912 255h2v2h-2zM840 256h2v2h-2zM850 256h2v2h-2zM858 256h2v2h-2zM861 256h2v2h-2zM867 256h2v2h-2zM871 256h2v2h-2zM874 256h2v2h-2zM877 256h2v2h-2zM878 256h2v2h-2zM890 256h2v2h-2zM921 256h2v2h-2zM842 257h2v2h-2zM864 257h2v2h-2zM944 257h2v2h-2zM946 257h2v2h-2zM956 257h2v2h-2zM867 258h2v2h-2zM904 258h2v2h-2zM905 258h2v2h-2zM908 258h2v2h-2zM945 258h2v2h-2zM956 258h2v2h-2zM984 258h2v2h-2zM880 259h2v2h-2zM942 259h2v2h-2zM870 260h2v2h-2zM873 260h2v2h-2zM877 260h2v2h-2zM888 260h2v2h-2zM923 260h2v2h-2zM937 260h2v2h-2zM948 260h2v2h-2zM953 260h2v2h-2zM860 261h2v2h-2zM864 261h2v2h-2zM866 261h2v2h-2zM869 261h2v2h-2zM898 261h2v2h-2zM933 261h2v2h-2zM935 261h2v2h-2zM944 261h2v2h-2zM951 261h2v2h-2zM970 261h2v2h-2zM858 262h2v2h-2zM869 262h2v2h-2zM886 262h2v2h-2zM900 262h2v2h-2zM926 262h2v2h-2zM947 262h2v2h-2zM840 263h2v2h-2zM942 263h2v2h-2zM970 263h2v2h-2zM837 264h2v2h-2zM852 264h2v2h-2zM858 264h2v2h-2zM859 264h2v2h-2zM862 264h2v2h-2zM864 264h2v2h-2zM890 264h2v2h-2zM916 264h2v2h-2zM918 264h2v2h-2zM926 264h2v2h-2zM933 264h2v2h-2zM944 264h2v2h-2zM946 264h2v2h-2zM958 264h2v2h-2zM847 265h2v2h-2zM858 265h2v2h-2zM874 265h2v2h-2zM878 265h2v2h-2zM882 265h2v2h-2zM887 265h2v2h-2zM936 265h2v2h-2zM938 265h2v2h-2zM946 265h2v2h-2zM968 265h2v2h-2zM853 266h2v2h-2zM909 266h2v2h-2zM925 266h2v2h-2zM932 266h2v2h-2zM935 266h2v2h-2zM857 267h2v2h-2zM868 267h2v2h-2zM871 267h2v2h-2zM893 267h2v2h-2zM906 267h2v2h-2zM911 267h2v2h-2zM913 267h2v2h-2zM915 267h2v2h-2zM930 267h2v2h-2zM854 268h2v2h-2zM862 268h2v2h-2zM867 268h2v2h-2zM871 268h2v2h-2zM922 268h2v2h-2zM850 269h2v2h-2zM852 269h2v2h-2zM857 269h2v2h-2zM943 269h2v2h-2zM851 270h2v2h-2zM881 270h2v2h-2zM885 270h2v2h-2zM922 270h2v2h-2zM933 270h2v2h-2zM968 270h2v2h-2zM856 271h2v2h-2zM869 271h2v2h-2zM889 271h2v2h-2zM893 271h2v2h-2zM923 271h2v2h-2zM929 271h2v2h-2zM947 271h2v2h-2zM847 272h2v2h-2zM850 272h2v2h-2zM856 272h2v2h-2zM869 272h2v2h-2zM889 272h2v2h-2zM967 272h2v2h-2zM833 273h2v2h-2zM855 273h2v2h-2zM882 273h2v2h-2zM883 273h2v2h-2zM918 273h2v2h-2zM956 273h2v2h-2zM977 273h2v2h-2zM866 274h2v2h-2zM886 274h2v2h-2zM918 274h2v2h-2zM846 275h2v2h-2zM859 275h2v2h-2zM864 275h2v2h-2zM866 275h2v2h-2zM871 275h2v2h-2zM887 275h2v2h-2zM915 275h2v2h-2zM935 275h2v2h-2zM831 276h2v2h-2zM840 276h2v2h-2zM851 276h2v2h-2zM860 276h2v2h-2zM875 276h2v2h-2zM879 276h2v2h-2zM883 276h2v2h-2zM900 276h2v2h-2zM918 276h2v2h-2zM925 276h2v2h-2zM941 276h2v2h-2zM952 276h2v2h-2zM838 277h2v2h-2zM880 277h2v2h-2zM922 277h2v2h-2zM947 277h2v2h-2zM873 278h2v2h-2zM894 278h2v2h-2zM836 279h2v2h-2zM849 279h2v2h-2zM851 279h2v2h-2zM860 279h2v2h-2zM887 279h2v2h-2zM919 279h2v2h-2zM925 279h2v2h-2zM942 279h2v2h-2zM948 279h2v2h-2zM934 280h2v2h-2zM935 280h2v2h-2zM949 280h2v2h-2zM955 280h2v2h-2zM980 280h2v2h-2zM903 281h2v2h-2zM960 281h2v2h-2zM961 281h2v2h-2zM855 282h2v2h-2zM857 282h2v2h-2zM882 282h2v2h-2zM926 282h2v2h-2zM959 282h2v2h-2zM852 283h2v2h-2zM922 283h2v2h-2zM938 283h2v2h-2zM862 284h2v2h-2zM877 284h2v2h-2zM878 284h2v2h-2zM881 284h2v2h-2zM902 284h2v2h-2zM947 284h2v2h-2zM847 285h2v2h-2zM864 285h2v2h-2zM867 285h2v2h-2zM870 285h2v2h-2zM874 285h2v2h-2zM880 285h2v2h-2zM839 286h2v2h-2zM843 286h2v2h-2zM854 286h2v2h-2zM857 286h2v2h-2zM943 286h2v2h-2zM851 287h2v2h-2zM854 287h2v2h-2zM857 287h2v2h-2zM873 287h2v2h-2zM890 287h2v2h-2zM906 287h2v2h-2zM909 287h2v2h-2zM929 287h2v2h-2zM849 288h2v2h-2zM930 288h2v2h-2zM904 289h2v2h-2zM932 289h2v2h-2zM943 289h2v2h-2zM892 290h2v2h-2zM912 290h2v2h-2zM929 290h2v2h-2zM947 290h2v2h-2zM845 291h2v2h-2zM862 291h2v2h-2zM871 291h2v2h-2zM887 291h2v2h-2zM906 291h2v2h-2zM913 291h2v2h-2zM936 291h2v2h-2zM867 292h2v2h-2zM870 292h2v2h-2zM873 292h2v2h-2zM879 292h2v2h-2zM892 292h2v2h-2zM916 292h2v2h-2zM934 292h2v2h-2zM935 292h2v2h-2zM938 292h2v2h-2zM845 293h2v2h-2zM849 293h2v2h-2zM908 293h2v2h-2zM835 294h2v2h-2zM858 294h2v2h-2zM870 294h2v2h-2zM873 294h2v2h-2zM876 294h2v2h-2zM889 294h2v2h-2zM906 294h2v2h-2zM917 294h2v2h-2zM927 294h2v2h-2zM928 294h2v2h-2zM832 295h2v2h-2zM845 295h2v2h-2zM854 295h2v2h-2zM855 295h2v2h-2zM864 295h2v2h-2zM865 295h2v2h-2zM870 295h2v2h-2zM876 295h2v2h-2zM886 295h2v2h-2zM923 295h2v2h-2zM930 295h2v2h-2zM839 296h2v2h-2zM878 296h2v2h-2zM882 296h2v2h-2zM893 296h2v2h-2zM914 296h2v2h-2zM917 296h2v2h-2zM850 297h2v2h-2zM857 297h2v2h-2zM861 297h2v2h-2zM885 297h2v2h-2zM890 297h2v2h-2zM918 297h2v2h-2zM937 297h2v2h-2zM841 298h2v2h-2zM845 298h2v2h-2zM868 298h2v2h-2zM869 298h2v2h-2zM929 298h2v2h-2zM931 298h2v2h-2zM945 298h2v2h-2zM826 299h2v2h-2zM849 299h2v2h-2zM851 299h2v2h-2zM865 299h2v2h-2zM879 299h2v2h-2zM880 299h2v2h-2zM904 299h2v2h-2zM920 299h2v2h-2zM849 300h2v2h-2zM861 300h2v2h-2zM862 300h2v2h-2zM875 300h2v2h-2zM877 300h2v2h-2zM890 300h2v2h-2zM913 300h2v2h-2zM921 300h2v2h-2zM928 300h2v2h-2zM816 301h2v2h-2zM817 301h2v2h-2zM863 301h2v2h-2zM871 301h2v2h-2zM887 301h2v2h-2zM898 301h2v2h-2zM901 301h2v2h-2zM922 301h2v2h-2zM925 301h2v2h-2zM939 301h2v2h-2zM929 302h2v2h-2zM842 303h2v2h-2zM847 303h2v2h-2zM853 303h2v2h-2zM854 303h2v2h-2zM876 303h2v2h-2zM925 303h2v2h-2zM942 303h2v2h-2zM821 304h2v2h-2zM844 304h2v2h-2zM854 304h2v2h-2zM872 304h2v2h-2zM876 304h2v2h-2zM890 304h2v2h-2zM896 304h2v2h-2zM901 304h2v2h-2zM904 304h2v2h-2zM912 304h2v2h-2zM916 304h2v2h-2zM927 304h2v2h-2zM928 304h2v2h-2zM945 304h2v2h-2zM963 304h2v2h-2zM907 305h2v2h-2zM912 305h2v2h-2zM932 305h2v2h-2zM868 306h2v2h-2zM896 306h2v2h-2zM913 306h2v2h-2zM920 306h2v2h-2zM922 306h2v2h-2zM941 306h2v2h-2zM977 306h2v2h-2zM846 307h2v2h-2zM863 307h2v2h-2zM867 307h2v2h-2zM871 307h2v2h-2zM888 307h2v2h-2zM904 307h2v2h-2zM936 307h2v2h-2zM947 307h2v2h-2zM847 308h2v2h-2zM854 308h2v2h-2zM873 308h2v2h-2zM894 308h2v2h-2zM904 308h2v2h-2zM909 308h2v2h-2zM922 308h2v2h-2zM926 308h2v2h-2zM834 309h2v2h-2zM835 309h2v2h-2zM839 309h2v2h-2zM842 309h2v2h-2zM861 309h2v2h-2zM864 309h2v2h-2zM876 309h2v2h-2zM879 309h2v2h-2zM882 309h2v2h-2zM892 309h2v2h-2zM898 309h2v2h-2zM900 309h2v2h-2zM903 309h2v2h-2zM908 309h2v2h-2zM911 309h2v2h-2zM914 309h2v2h-2zM922 309h2v2h-2zM926 309h2v2h-2zM901 310h2v2h-2zM934 310h2v2h-2zM839 311h2v2h-2zM867 311h2v2h-2zM871 311h2v2h-2zM888 311h2v2h-2zM889 311h2v2h-2zM918 311h2v2h-2zM924 311h2v2h-2zM932 311h2v2h-2zM840 312h2v2h-2zM845 312h2v2h-2zM853 312h2v2h-2zM866 312h2v2h-2zM896 312h2v2h-2zM907 312h2v2h-2zM908 312h2v2h-2zM929 312h2v2h-2zM934 312h2v2h-2zM942 312h2v2h-2zM845 313h2v2h-2zM864 313h2v2h-2zM870 313h2v2h-2zM873 313h2v2h-2zM881 313h2v2h-2zM893 313h2v2h-2zM894 313h2v2h-2zM920 313h2v2h-2zM943 313h2v2h-2zM871 314h2v2h-2zM887 314h2v2h-2zM895 314h2v2h-2zM899 314h2v2h-2zM921 314h2v2h-2zM848 315h2v2h-2zM851 315h2v2h-2zM857 315h2v2h-2zM868 315h2v2h-2zM886 315h2v2h-2zM891 315h2v2h-2zM900 315h2v2h-2zM905 315h2v2h-2zM947 315h2v2h-2zM846 316h2v2h-2zM863 316h2v2h-2zM874 316h2v2h-2zM900 316h2v2h-2zM905 316h2v2h-2zM910 316h2v2h-2zM913 316h2v2h-2zM924 316h2v2h-2zM827 317h2v2h-2zM836 317h2v2h-2zM852 317h2v2h-2zM865 317h2v2h-2zM874 317h2v2h-2zM896 317h2v2h-2zM909 317h2v2h-2zM910 317h2v2h-2zM919 317h2v2h-2zM833 318h2v2h-2zM840 318h2v2h-2zM849 318h2v2h-2zM854 318h2v2h-2zM862 318h2v2h-2zM871 318h2v2h-2zM881 318h2v2h-2zM891 318h2v2h-2zM892 318h2v2h-2zM914 318h2v2h-2zM915 318h2v2h-2zM834 319h2v2h-2zM841 319h2v2h-2zM847 319h2v2h-2zM850 319h2v2h-2zM857 319h2v2h-2zM858 319h2v2h-2zM859 319h2v2h-2zM884 319h2v2h-2zM895 319h2v2h-2zM922 319h2v2h-2zM930 319h2v2h-2zM836 320h2v2h-2zM865 320h2v2h-2zM885 320h2v2h-2zM887 320h2v2h-2zM912 320h2v2h-2zM928 320h2v2h-2zM840 321h2v2h-2zM847 321h2v2h-2zM853 321h2v2h-2zM883 321h2v2h-2zM889 321h2v2h-2zM925 321h2v2h-2zM824 322h2v2h-2zM848 322h2v2h-2zM861 322h2v2h-2zM882 322h2v2h-2zM899 322h2v2h-2zM911 322h2v2h-2zM934 322h2v2h-2zM841 323h2v2h-2zM853 323h2v2h-2zM857 323h2v2h-2zM859 323h2v2h-2zM864 323h2v2h-2zM868 323h2v2h-2zM875 323h2v2h-2zM876 323h2v2h-2zM879 323h2v2h-2zM893 323h2v2h-2zM930 323h2v2h-2zM795 324h2v2h-2zM837 324h2v2h-2zM871 324h2v2h-2zM872 324h2v2h-2zM883 324h2v2h-2zM885 324h2v2h-2zM902 324h2v2h-2zM906 324h2v2h-2zM912 324h2v2h-2zM920 324h2v2h-2zM934 324h2v2h-2zM833 325h2v2h-2zM834 325h2v2h-2zM846 325h2v2h-2zM847 325h2v2h-2zM886 325h2v2h-2zM901 325h2v2h-2zM906 325h2v2h-2zM922 325h2v2h-2zM834 326h2v2h-2zM837 326h2v2h-2zM857 326h2v2h-2zM896 326h2v2h-2zM913 326h2v2h-2zM926 326h2v2h-2zM932 326h2v2h-2zM961 326h2v2h-2zM808 327h2v2h-2zM820 327h2v2h-2zM842 327h2v2h-2zM873 327h2v2h-2zM879 327h2v2h-2zM883 327h2v2h-2zM891 327h2v2h-2zM899 327h2v2h-2zM910 327h2v2h-2zM914 327h2v2h-2zM923 327h2v2h-2zM924 327h2v2h-2zM827 328h2v2h-2zM846 328h2v2h-2zM861 328h2v2h-2zM878 328h2v2h-2zM900 328h2v2h-2zM903 328h2v2h-2zM908 328h2v2h-2zM914 328h2v2h-2zM917 328h2v2h-2zM811 329h2v2h-2zM848 329h2v2h-2zM860 329h2v2h-2zM870 329h2v2h-2zM874 329h2v2h-2zM886 329h2v2h-2zM902 329h2v2h-2zM829 330h2v2h-2zM836 330h2v2h-2zM839 330h2v2h-2zM852 330h2v2h-2zM858 330h2v2h-2zM881 330h2v2h-2zM887 330h2v2h-2zM891 330h2v2h-2zM895 330h2v2h-2zM914 330h2v2h-2zM932 330h2v2h-2zM824 331h2v2h-2zM870 331h2v2h-2zM876 331h2v2h-2zM877 331h2v2h-2zM890 331h2v2h-2zM907 331h2v2h-2zM909 331h2v2h-2zM924 331h2v2h-2zM931 331h2v2h-2zM828 332h2v2h-2zM833 332h2v2h-2zM840 332h2v2h-2zM846 332h2v2h-2zM849 332h2v2h-2zM855 332h2v2h-2zM860 332h2v2h-2zM890 332h2v2h-2zM893 332h2v2h-2zM895 332h2v2h-2zM918 332h2v2h-2zM937 332h2v2h-2zM819 333h2v2h-2zM820 333h2v2h-2zM836 333h2v2h-2zM842 333h2v2h-2zM862 333h2v2h-2zM881 333h2v2h-2zM886 333h2v2h-2zM899 333h2v2h-2zM910 333h2v2h-2zM941 333h2v2h-2zM827 334h2v2h-2zM844 334h2v2h-2zM865 334h2v2h-2zM868 334h2v2h-2zM879 334h2v2h-2zM888 334h2v2h-2zM896 334h2v2h-2zM926 334h2v2h-2zM817 335h2v2h-2zM819 335h2v2h-2zM824 335h2v2h-2zM857 335h2v2h-2zM861 335h2v2h-2zM864 335h2v2h-2zM868 335h2v2h-2zM874 335h2v2h-2zM887 335h2v2h-2zM896 335h2v2h-2zM899 335h2v2h-2zM902 335h2v2h-2zM904 335h2v2h-2zM907 335h2v2h-2zM908 335h2v2h-2zM847 336h2v2h-2zM855 336h2v2h-2zM858 336h2v2h-2zM904 336h2v2h-2zM905 336h2v2h-2zM915 336h2v2h-2zM945 336h2v2h-2zM825 337h2v2h-2zM832 337h2v2h-2zM840 337h2v2h-2zM847 337h2v2h-2zM858 337h2v2h-2zM877 337h2v2h-2zM882 337h2v2h-2zM893 337h2v2h-2zM811 338h2v2h-2zM821 338h2v2h-2zM853 338h2v2h-2zM868 338h2v2h-2zM871 338h2v2h-2zM872 338h2v2h-2zM900 338h2v2h-2zM916 338h2v2h-2zM923 338h2v2h-2zM852 339h2v2h-2zM856 339h2v2h-2zM871 339h2v2h-2zM875 339h2v2h-2zM878 339h2v2h-2zM921 339h2v2h-2zM808 340h2v2h-2zM830 340h2v2h-2zM831 340h2v2h-2zM851 340h2v2h-2zM858 340h2v2h-2zM899 340h2v2h-2zM920 340h2v2h-2zM939 340h2v2h-2zM823 341h2v2h-2zM828 341h2v2h-2zM849 341h2v2h-2zM855 341h2v2h-2zM874 341h2v2h-2zM880 341h2v2h-2zM899 341h2v2h-2zM911 341h2v2h-2zM914 341h2v2h-2zM840 342h2v2h-2zM843 342h2v2h-2zM848 342h2v2h-2zM861 342h2v2h-2zM864 342h2v2h-2zM871 342h2v2h-2zM883 342h2v2h-2zM896 342h2v2h-2zM907 342h2v2h-2zM811 343h2v2h-2zM832 343h2v2h-2zM853 343h2v2h-2zM867 343h2v2h-2zM893 343h2v2h-2zM897 343h2v2h-2zM829 344h2v2h-2zM874 344h2v2h-2zM878 344h2v2h-2zM883 344h2v2h-2zM915 344h2v2h-2zM817 345h2v2h-2zM823 345h2v2h-2zM826 345h2v2h-2zM847 345h2v2h-2zM848 345h2v2h-2zM856 345h2v2h-2zM868 345h2v2h-2zM876 345h2v2h-2zM881 345h2v2h-2zM890 345h2v2h-2zM901 345h2v2h-2zM902 345h2v2h-2zM922 345h2v2h-2zM820 346h2v2h-2zM854 346h2v2h-2zM882 346h2v2h-2zM886 346h2v2h-2zM889 346h2v2h-2zM913 346h2v2h-2zM918 346h2v2h-2zM822 347h2v2h-2zM868 347h2v2h-2zM873 347h2v2h-2zM903 347h2v2h-2zM912 347h2v2h-2zM915 347h2v2h-2zM939 347h2v2h-2zM813 348h2v2h-2zM833 348h2v2h-2zM842 348h2v2h-2zM853 348h2v2h-2zM955 348h2v2h-2zM824 349h2v2h-2zM843 349h2v2h-2zM878 349h2v2h-2zM889 349h2v2h-2zM906 349h2v2h-2zM938 349h2v2h-2zM812 350h2v2h-2zM816 350h2v2h-2zM829 350h2v2h-2zM842 350h2v2h-2zM859 350h2v2h-2zM862 350h2v2h-2zM883 350h2v2h-2zM888 350h2v2h-2zM891 350h2v2h-2zM895 350h2v2h-2zM901 350h2v2h-2zM940 350h2v2h-2zM831 351h2v2h-2zM839 351h2v2h-2zM846 351h2v2h-2zM870 351h2v2h-2zM878 351h2v2h-2zM892 351h2v2h-2zM918 351h2v2h-2zM936 351h2v2h-2zM814 352h2v2h-2zM824 352h2v2h-2zM826 352h2v2h-2zM842 352h2v2h-2zM856 352h2v2h-2zM873 352h2v2h-2zM812 353h2v2h-2zM825 353h2v2h-2zM853 353h2v2h-2zM890 353h2v2h-2zM893 353h2v2h-2zM914 353h2v2h-2zM917 353h2v2h-2zM805 354h2v2h-2zM872 354h2v2h-2zM879 354h2v2h-2zM884 354h2v2h-2zM902 354h2v2h-2zM907 354h2v2h-2zM920 354h2v2h-2zM819 355h2v2h-2zM827 355h2v2h-2zM838 355h2v2h-2zM856 355h2v2h-2zM873 355h2v2h-2zM890 355h2v2h-2zM895 355h2v2h-2zM901 355h2v2h-2zM911 355h2v2h-2zM914 355h2v2h-2zM822 356h2v2h-2zM832 356h2v2h-2zM880 356h2v2h-2zM898 356h2v2h-2zM824 357h2v2h-2zM837 357h2v2h-2zM874 357h2v2h-2zM876 357h2v2h-2zM890 357h2v2h-2zM927 357h2v2h-2zM928 357h2v2h-2zM806 358h2v2h-2zM816 358h2v2h-2zM817 358h2v2h-2zM819 358h2v2h-2zM829 358h2v2h-2zM857 358h2v2h-2zM870 358h2v2h-2zM887 358h2v2h-2zM893 358h2v2h-2zM901 358h2v2h-2zM830 359h2v2h-2zM840 359h2v2h-2zM882 359h2v2h-2zM901 359h2v2h-2zM867 360h2v2h-2zM872 360h2v2h-2zM881 360h2v2h-2zM905 360h2v2h-2zM910 360h2v2h-2zM811 361h2v2h-2zM861 361h2v2h-2zM869 361h2v2h-2zM887 361h2v2h-2zM899 361h2v2h-2zM902 361h2v2h-2zM917 361h2v2h-2zM919 361h2v2h-2zM864 362h2v2h-2zM868 362h2v2h-2zM879 362h2v2h-2zM885 362h2v2h-2zM892 362h2v2h-2zM893 362h2v2h-2zM897 362h2v2h-2zM873 363h2v2h-2zM874 363h2v2h-2zM912 363h2v2h-2zM883 364h2v2h-2zM889 364h2v2h-2zM926 364h2v2h-2zM813 365h2v2h-2zM824 365h2v2h-2zM863 365h2v2h-2zM882 365h2v2h-2zM862 366h2v2h-2zM865 366h2v2h-2zM873 366h2v2h-2zM887 366h2v2h-2zM902 366h2v2h-2zM817 367h2v2h-2zM866 367h2v2h-2zM874 367h2v2h-2zM901 367h2v2h-2zM903 367h2v2h-2zM923 367h2v2h-2zM940 367h2v2h-2zM812 368h2v2h-2zM815 368h2v2h-2zM821 368h2v2h-2zM811 369h2v2h-2zM820 369h2v2h-2zM882 369h2v2h-2zM887 369h2v2h-2zM809 370h2v2h-2zM816 370h2v2h-2zM817 370h2v2h-2zM820 370h2v2h-2zM872 370h2v2h-2zM886 370h2v2h-2zM901 370h2v2h-2zM913 370h2v2h-2zM813 371h2v2h-2zM883 371h2v2h-2zM909 371h2v2h-2zM875 372h2v2h-2zM908 372h2v2h-2zM916 372h2v2h-2zM931 372h2v2h-2zM861 373h2v2h-2zM869 373h2v2h-2zM873 373h2v2h-2zM875 373h2v2h-2zM884 373h2v2h-2zM892 373h2v2h-2zM893 373h2v2h-2zM896 373h2v2h-2zM905 373h2v2h-2zM911 373h2v2h-2zM808 374h2v2h-2zM812 374h2v2h-2zM820 374h2v2h-2zM884 374h2v2h-2zM890 374h2v2h-2zM907 374h2v2h-2zM811 375h2v2h-2zM821 375h2v2h-2zM905 375h2v2h-2zM809 376h2v2h-2zM823 376h2v2h-2zM877 376h2v2h-2zM880 376h2v2h-2zM865 377h2v2h-2zM872 377h2v2h-2zM885 377h2v2h-2zM903 377h2v2h-2zM867 378h2v2h-2zM886 378h2v2h-2zM806 379h2v2h-2zM823 379h2v2h-2zM869 379h2v2h-2zM914 379h2v2h-2zM876 380h2v2h-2zM877 380h2v2h-2zM883 380h2v2h-2zM895 380h2v2h-2zM931 380h2v2h-2zM905 381h2v2h-2zM917 381h2v2h-2zM816 382h2v2h-2zM865 382h2v2h-2zM868 382h2v2h-2zM872 382h2v2h-2zM885 382h2v2h-2zM809 383h2v2h-2zM812 383h2v2h-2zM817 383h2v2h-2zM871 383h2v2h-2zM899 383h2v2h-2zM900 383h2v2h-2zM889 384h2v2h-2zM892 384h2v2h-2zM806 385h2v2h-2zM872 385h2v2h-2zM881 385h2v2h-2zM890 385h2v2h-2zM809 386h2v2h-2zM911 386h2v2h-2zM808 387h2v2h-2zM811 387h2v2h-2zM870 387h2v2h-2zM877 387h2v2h-2zM883 387h2v2h-2zM910 387h2v2h-2zM810 388h2v2h-2zM873 388h2v2h-2zM875 388h2v2h-2zM876 388h2v2h-2zM905 389h2v2h-2zM911 389h2v2h-2zM870 390h2v2h-2zM871 390h2v2h-2zM885 390h2v2h-2zM894 390h2v2h-2zM807 391h2v2h-2zM808 391h2v2h-2zM812 391h2v2h-2zM885 391h2v2h-2zM893 391h2v2h-2zM895 391h2v2h-2zM798 392h2v2h-2zM809 392h2v2h-2zM816 392h2v2h-2zM878 392h2v2h-2zM904 392h2v2h-2zM812 393h2v2h-2zM882 393h2v2h-2zM891 393h2v2h-2zM887 394h2v2h-2zM870 395h2v2h-2zM809 396h2v2h-2zM814 396h2v2h-2zM872 396h2v2h-2zM874 396h2v2h-2zM890 396h2v2h-2zM876 398h2v2h-2zM884 398h2v2h-2zM886 398h2v2h-2zM870 399h2v2h-2zM872 399h2v2h-2zM877 399h2v2h-2zM878 399h2v2h-2zM886 399h2v2h-2zM811 400h2v2h-2zM873 401h2v2h-2zM880 401h2v2h-2zM874 402h2v2h-2zM812 403h2v2h-2zM815 403h2v2h-2zM870 403h2v2h-2zM867 404h2v2h-2zM916 404h2v2h-2zM927 404h2v2h-2zM923 405h2v2h-2zM816 406h2v2h-2zM909 406h2v2h-2zM813 407h2v2h-2zM933 407h2v2h-2zM864 408h2v2h-2zM909 408h2v2h-2zM807 409h2v2h-2zM854 409h2v2h-2zM861 409h2v2h-2zM877 409h2v2h-2zM915 409h2v2h-2zM812 410h2v2h-2zM814 410h2v2h-2zM907 410h2v2h-2zM814 411h2v2h-2zM865 411h2v2h-2zM883 411h2v2h-2zM805 412h2v2h-2zM813 412h2v2h-2zM823 412h2v2h-2zM854 412h2v2h-2zM859 412h2v2h-2zM866 412h2v2h-2zM846 413h2v2h-2zM871 413h2v2h-2zM885 413h2v2h-2zM826 414h2v2h-2zM843 414h2v2h-2zM847 414h2v2h-2zM863 414h2v2h-2zM907 414h2v2h-2zM819 415h2v2h-2zM829 415h2v2h-2zM859 415h2v2h-2zM875 415h2v2h-2zM821 416h2v2h-2zM823 416h2v2h-2zM827 416h2v2h-2zM862 416h2v2h-2zM863 416h2v2h-2zM907 416h2v2h-2zM911 416h2v2h-2zM845 417h2v2h-2zM866 417h2v2h-2zM867 417h2v2h-2zM877 417h2v2h-2zM821 418h2v2h-2zM857 418h2v2h-2zM818 419h2v2h-2zM823 419h2v2h-2zM829 419h2v2h-2zM926 419h2v2h-2zM812 420h2v2h-2zM818 420h2v2h-2zM824 420h2v2h-2zM825 420h2v2h-2zM837 420h2v2h-2zM847 420h2v2h-2zM861 420h2v2h-2zM903 420h2v2h-2zM819 421h2v2h-2zM852 421h2v2h-2zM859 421h2v2h-2zM860 421h2v2h-2zM865 421h2v2h-2zM891 421h2v2h-2zM829 422h2v2h-2zM831 422h2v2h-2zM846 422h2v2h-2zM915 422h2v2h-2zM817 423h2v2h-2zM823 423h2v2h-2zM828 423h2v2h-2zM847 423h2v2h-2zM875 423h2v2h-2zM814 424h2v2h-2zM815 424h2v2h-2zM840 424h2v2h-2zM852 424h2v2h-2zM820 425h2v2h-2zM832 425h2v2h-2zM850 425h2v2h-2zM853 425h2v2h-2zM863 425h2v2h-2zM886 425h2v2h-2zM895 425h2v2h-2zM821 426h2v2h-2zM837 426h2v2h-2zM838 426h2v2h-2zM850 426h2v2h-2zM867 426h2v2h-2zM947 426h2v2h-2zM813 427h2v2h-2zM834 427h2v2h-2zM838 427h2v2h-2zM880 427h2v2h-2zM826 428h2v2h-2zM845 428h2v2h-2zM854 428h2v2h-2zM857 428h2v2h-2zM822 429h2v2h-2zM823 429h2v2h-2zM826 429h2v2h-2zM829 429h2v2h-2zM852 429h2v2h-2zM895 429h2v2h-2zM818 430h2v2h-2zM822 430h2v2h-2zM807 431h2v2h-2zM820 431h2v2h-2zM831 431h2v2h-2zM840 431h2v2h-2zM841 431h2v2h-2zM843 431h2v2h-2zM865 431h2v2h-2zM828 432h2v2h-2zM817 434h2v2h-2zM869 434h2v2h-2zM900 434h2v2h-2zM818 435h2v2h-2zM829 435h2v2h-2zM843 435h2v2h-2zM825 436h2v2h-2zM844 436h2v2h-2zM834 437h2v2h-2zM816 438h2v2h-2zM832 438h2v2h-2zM839 439h2v2h-2zM857 439h2v2h-2zM905 443h2v2h-2zM944 444h2v2h-2zM827 445h2v2h-2zM830 449h2v2h-2zM855 449h2v2h-2zM819 451h2v2h-2zM829 451h2v2h-2zM919 452h2v2h-2zM818 453h2v2h-2zM855 454h2v2h-2zM871 458h2v2h-2zM832 460h2v2h-2zM833 463h2v2h-2zM862 463h2v2h-2zM865 463h2v2h-2zM826 471h2v2h-2zM933 471h2v2h-2zM851 473h2v2h-2zM829 474h2v2h-2zM854 474h2v2h-2zM830 475h2v2h-2zM818 476h2v2h-2zM856 479h2v2h-2zM818 480h2v2h-2z"/>
<path fill="#0000ff" d="M287 175h2v2h-2zM285 176h2v2h-2zM290 177h2v2h-2zM302 177h2v2h-2zM286 178h2v2h-2zM287 178h2v2h-2zM303 178h2v2h-2zM278 179h2v2h-2zM280 179h2v2h-2zM288 179h2v2h-2zM289 179h2v2h-2zM292 179h2v2h-2zM301 179h2v2h-2zM303 179h2v2h-2zM294 180h2v2h-2zM295 180h2v2h-2zM297 180h2v2h-2zM304 180h2v2h-2zM310 180h2v2h-2zM279 181h2v2h-2zM283 181h2v2h-2zM296 181h2v2h-2zM297 181h2v2h-2zM301 181h2v2h-2zM304 181h2v2h-2zM306 181h2v2h-2zM308 181h2v2h-2zM294 182h2v2h-2zM297 182h2v2h-2zM300 182h2v2h-2zM306 182h2v2h-2zM309 182h2v2h-2zM286 183h2v2h-2zM289 183h2v2h-2zM290 183h2v2h-2zM295 183h2v2h-2zM298 183h2v2h-2zM302 183h2v2h-2zM307 183h2v2h-2zM309 183h2v2h-2zM270 184h2v2h-2zM277 184h2v2h-2zM283 184h2v2h-2zM286 184h2v2h-2zM292 184h2v2h-2zM298 184h2v2h-2zM300 184h2v2h-2zM308 184h2v2h-2zM318 184h2v2h-2zM269 185h2v2h-2zM275 185h2v2h-2zM276 185h2v2h-2zM304 185h2v2h-2zM321 185h2v2h-2zM270 186h2v2h-2zM277 186h2v2h-2zM279 186h2v2h-2zM285 186h2v2h-2zM290 186h2v2h-2zM304 186h2v2h-2zM320 186h2v2h-2zM321 186h2v2h-2zM269 187h2v2h-2zM275 187h2v2h-2zM277 187h2v2h-2zM300 187h2v2h-2zM306 187h2v2h-2zM311 187h2v2h-2zM313 187h2v2h-2zM315 187h2v2h-2zM320 187h2v2h-2zM323 187h2v2h-2zM270 188h2v2h-2zM271 188h2v2h-2zM282 188h2v2h-2zM305 188h2v2h-2zM308 188h2v2h-2zM312 188h2v2h-2zM315 188h2v2h-2zM319 188h2v2h-2zM291 189h2v2h-2zM317 189h2v2h-2zM319 189h2v2h-2zM322 189h2v2h-2zM266 190h2v2h-2zM268 190h2v2h-2zM278 190h2v2h-2zM279 190h2v2h-2zM289 190h2v2h-2zM310 190h2v2h-2zM261 191h2v2h-2zM290 191h2v2h-2zM301 191h2v2h-2zM307 191h2v2h-2zM312 191h2v2h-2zM322 191h2v2h-2zM268 192h2v2h-2zM272 192h2v2h-2zM276 192h2v2h-2zM279 192h2v2h-2zM285 192h2v2h-2zM315 192h2v2h-2zM259 193h2v2h-2zM260 193h2v2h-2zM273 193h2v2h-2zM275 193h2v2h-2zM286 193h2v2h-2zM307 193h2v2h-2zM313 193h2v2h-2zM320 193h2v2h-2zM259 194h2v2h-2zM260 194h2v2h-2zM272 194h2v2h-2zM277 194h2v2h-2zM279 194h2v2h-2zM305 194h2v2h-2zM315 194h2v2h-2zM266 195h2v2h-2zM270 195h2v2h-2zM273 195h2v2h-2zM297 195h2v2h-2zM303 195h2v2h-2zM315 195h2v2h-2zM270 196h2v2h-2zM269 197h2v2h-2zM272 197h2v2h-2zM316 197h2v2h-2zM326 197h2v2h-2zM262 198h2v2h-2zM305 198h2v2h-2zM325 198h2v2h-2zM259 199h2v2h-2zM263 199h2v2h-2zM325 199h2v2h-2zM260 200h2v2h-2zM265 200h2v2h-2zM268 200h2v2h-2zM272 200h2v2h-2zM317 200h2v2h-2zM318 200h2v2h-2zM257 201h2v2h-2zM266 201h2v2h-2zM269 201h2v2h-2zM324 201h2v2h-2zM259 202h2v2h-2zM265 202h2v2h-2zM315 202h2v2h-2zM319 202h2v2h-2zM325 202h2v2h-2zM263 203h2v2h-2zM324 203h2v2h-2zM326 203h2v2h-2zM311 204h2v2h-2zM313 204h2v2h-2zM325 204h2v2h-2zM261 205h2v2h-2zM311 205h2v2h-2zM314 205h2v2h-2zM259 206h2v2h-2zM261 206h2v2h-2zM263 206h2v2h-2zM264 206h2v2h-2zM305 206h2v2h-2zM313 206h2v2h-2zM252 207h2v2h-2zM306 207h2v2h-2zM315 207h2v2h-2zM259 208h2v2h-2zM264 208h2v2h-2zM265 208h2v2h-2zM275 208h2v2h-2zM320 208h2v2h-2zM261 209h2v2h-2zM263 209h2v2h-2zM307 209h2v2h-2zM318 209h2v2h-2zM320 209h2v2h-2zM243 210h2v2h-2zM245 210h2v2h-2zM258 210h2v2h-2zM309 210h2v2h-2zM311 210h2v2h-2zM322 210h2v2h-2zM246 211h2v2h-2zM264 211h2v2h-2zM309 211h2v2h-2zM320 211h2v2h-2zM243 212h2v2h-2zM257 212h2v2h-2zM258 212h2v2h-2zM310 212h2v2h-2zM322 212h2v2h-2zM257 213h2v2h-2zM263 213h2v2h-2zM309 213h2v2h-2zM315 213h2v2h-2zM247 214h2v2h-2zM253 214h2v2h-2zM262 214h2v2h-2zM264 214h2v2h-2zM308 214h2v2h-2zM311 214h2v2h-2zM243 215h2v2h-2zM245 215h2v2h-2zM253 215h2v2h-2zM261 215h2v2h-2zM303 215h2v2h-2zM252 216h2v2h-2zM320 216h2v2h-2zM322 216h2v2h-2zM253 217h2v2h-2zM303 217h2v2h-2zM306 217h2v2h-2zM253 218h2v2h-2zM259 218h2v2h-2zM302 218h2v2h-2zM305 218h2v2h-2zM320 218h2v2h-2zM323 218h2v2h-2zM247 219h2v2h-2zM253 219h2v2h-2zM310 219h2v2h-2zM322 219h2v2h-2zM247 220h2v2h-2zM249 220h2v2h-2zM250 220h2v2h-2zM254 220h2v2h-2zM260 220h2v2h-2zM300 220h2v2h-2zM301 220h2v2h-2zM305 220h2v2h-2zM321 220h2v2h-2zM249 221h2v2h-2zM253 221h2v2h-2zM258 221h2v2h-2zM301 221h2v2h-2zM303 221h2v2h-2zM304 221h2v2h-2zM307 221h2v2h-2zM309 221h2v2h-2zM311 221h2v2h-2zM250 222h2v2h-2zM255 222h2v2h-2zM285 222h2v2h-2zM301 222h2v2h-2zM307 222h2v2h-2zM243 223h2v2h-2zM248 223h2v2h-2zM249 223h2v2h-2zM252 223h2v2h-2zM256 223h2v2h-2zM260 223h2v2h-2zM262 223h2v2h-2zM271 223h2v2h-2zM302 223h2v2h-2zM306 223h2v2h-2zM239 224h2v2h-2zM245 224h2v2h-2zM249 224h2v2h-2zM253 224h2v2h-2zM256 224h2v2h-2zM272 224h2v2h-2zM293 224h2v2h-2zM296 224h2v2h-2zM297 224h2v2h-2zM300 224h2v2h-2zM301 224h2v2h-2zM304 224h2v2h-2zM307 224h2v2h-2zM309 224h2v2h-2zM243 225h2v2h-2zM244 225h2v2h-2zM246 225h2v2h-2zM247 225h2v2h-2zM251 225h2v2h-2zM253 225h2v2h-2zM257 225h2v2h-2zM259 225h2v2h-2zM262 225h2v2h-2zM293 225h2v2h-2zM309 225h2v2h-2zM310 225h2v2h-2zM241 226h2v2h-2zM249 226h2v2h-2zM271 226h2v2h-2zM296 226h2v2h-2zM245 227h2v2h-2zM250 227h2v2h-2zM255 227h2v2h-2zM257 227h2v2h-2zM302 227h2v2h-2zM308 227h2v2h-2zM311 227h2v2h-2zM243 228h2v2h-2zM273 228h2v2h-2zM286 228h2v2h-2zM291 228h2v2h-2zM299 228h2v2h-2zM303 228h2v2h-2zM305 228h2v2h-2zM309 228h2v2h-2zM310 228h2v2h-2zM245 229h2v2h-2zM249 229h2v2h-2zM252 229h2v2h-2zM292 229h2v2h-2zM304 229h2v2h-2zM311 229h2v2h-2zM245 230h2v2h-2zM247 230h2v2h-2zM251 230h2v2h-2zM253 230h2v2h-2zM271 230h2v2h-2zM276 230h2v2h-2zM291 230h2v2h-2zM245 231h2v2h-2zM249 231h2v2h-2zM255 231h2v2h-2zM270 231h2v2h-2zM272 231h2v2h-2zM275 231h2v2h-2zM288 231h2v2h-2zM289 231h2v2h-2zM293 231h2v2h-2zM296 231h2v2h-2zM298 231h2v2h-2zM301 231h2v2h-2zM248 232h2v2h-2zM250 232h2v2h-2zM255 232h2v2h-2zM273 232h2v2h-2zM274 232h2v2h-2zM276 232h2v2h-2zM279 232h2v2h-2zM283 232h2v2h-2zM288 232h2v2h-2zM291 232h2v2h-2zM293 232h2v2h-2zM314 232h2v2h-2zM316 232h2v2h-2zM242 233h2v2h-2zM243 233h2v2h-2zM245 233h2v2h-2zM246 233h2v2h-2zM251 233h2v2h-2zM258 233h2v2h-2zM276 233h2v2h-2zM278 233h2v2h-2zM281 233h2v2h-2zM284 233h2v2h-2zM295 233h2v2h-2zM297 233h2v2h-2zM301 233h2v2h-2zM246 234h2v2h-2zM248 234h2v2h-2zM250 234h2v2h-2zM255 234h2v2h-2zM256 234h2v2h-2zM258 234h2v2h-2zM262 234h2v2h-2zM274 234h2v2h-2zM276 234h2v2h-2zM288 234h2v2h-2zM292 234h2v2h-2zM305 234h2v2h-2zM316 234h2v2h-2zM244 235h2v2h-2zM250 235h2v2h-2zM283 235h2v2h-2zM290 235h2v2h-2zM300 235h2v2h-2zM303 235h2v2h-2zM252 236h2v2h-2zM259 236h2v2h-2zM263 236h2v2h-2zM281 236h2v2h-2zM283 236h2v2h-2zM289 236h2v2h-2zM298 236h2v2h-2zM303 236h2v2h-2zM306 236h2v2h-2zM254 237h2v2h-2zM259 237h2v2h-2zM264 237h2v2h-2zM265 237h2v2h-2zM269 237h2v2h-2zM273 237h2v2h-2zM285 237h2v2h-2zM288 237h2v2h-2zM299 237h2v2h-2zM301 237h2v2h-2zM251 238h2v2h-2zM252 238h2v2h-2zM254 238h2v2h-2zM261 238h2v2h-2zM267 238h2v2h-2zM277 238h2v2h-2zM283 238h2v2h-2zM300 238h2v2h-2zM303 238h2v2h-2zM305 238h2v2h-2zM245 239h2v2h-2zM250 239h2v2h-2zM252 239h2v2h-2zM261 239h2v2h-2zM265 239h2v2h-2zM269 239h2v2h-2zM271 239h2v2h-2zM272 239h2v2h-2zM280 239h2v2h-2zM281 239h2v2h-2zM284 239h2v2h-2zM289 239h2v2h-2zM290 239h2v2h-2zM291 239h2v2h-2zM293 239h2v2h-2zM299 239h2v2h-2zM302 239h2v2h-2zM244 240h2v2h-2zM246 240h2v2h-2zM251 240h2v2h-2zM263 240h2v2h-2zM264 240h2v2h-2zM278 240h2v2h-2zM281 240h2v2h-2zM284 240h2v2h-2zM294 240h2v2h-2zM297 240h2v2h-2zM246 241h2v2h-2zM249 241h2v2h-2zM286 241h2v2h-2zM290 241h2v2h-2zM291 241h2v2h-2zM247 242h2v2h-2zM261 242h2v2h-2zM281 242h2v2h-2zM284 242h2v2h-2zM293 242h2v2h-2zM295 242h2v2h-2zM297 242h2v2h-2zM243 243h2v2h-2zM245 243h2v2h-2zM254 243h2v2h-2zM258 243h2v2h-2zM261 243h2v2h-2zM263 243h2v2h-2zM270 243h2v2h-2zM273 243h2v2h-2zM276 243h2v2h-2zM278 243h2v2h-2zM299 243h2v2h-2zM233 244h2v2h-2zM245 244h2v2h-2zM258 244h2v2h-2zM261 244h2v2h-2zM272 244h2v2h-2zM275 244h2v2h-2zM280 244h2v2h-2zM281 244h2v2h-2zM233 245h2v2h-2zM245 245h2v2h-2zM247 245h2v2h-2zM255 245h2v2h-2zM257 245h2v2h-2zM262 245h2v2h-2zM267 245h2v2h-2zM268 245h2v2h-2zM273 245h2v2h-2zM278 245h2v2h-2zM282 245h2v2h-2zM234 246h2v2h-2zM235 246h2v2h-2zM259 246h2v2h-2zM261 246h2v2h-2zM273 246h2v2h-2zM275 246h2v2h-2zM281 246h2v2h-2zM238 247h2v2h-2zM243 247h2v2h-2zM247 247h2v2h-2zM257 247h2v2h-2zM261 247h2v2h-2zM265 247h2v2h-2zM266 247h2v2h-2zM271 247h2v2h-2zM273 247h2v2h-2zM279 247h2v2h-2zM280 247h2v2h-2zM282 247h2v2h-2zM238 248h2v2h-2zM241 248h2v2h-2zM255 248h2v2h-2zM263 248h2v2h-2zM275 248h2v2h-2zM283 248h2v2h-2zM239 249h2v2h-2zM240 249h2v2h-2zM242 249h2v2h-2zM244 249h2v2h-2zM247 249h2v2h-2zM254 249h2v2h-2zM256 249h2v2h-2zM260 249h2v2h-2zM264 249h2v2h-2zM273 249h2v2h-2zM278 249h2v2h-2zM283 249h2v2h-2zM296 249h2v2h-2zM298 249h2v2h-2zM234 250h2v2h-2zM237 250h2v2h-2zM238 250h2v2h-2zM243 250h2v2h-2zM262 250h2v2h-2zM264 250h2v2h-2zM273 250h2v2h-2zM281 250h2v2h-2zM285 250h2v2h-2zM286 250h2v2h-2zM300 250h2v2h-2zM301 250h2v2h-2zM235 251h2v2h-2zM243 251h2v2h-2zM245 251h2v2h-2zM253 251h2v2h-2zM255 251h2v2h-2zM276 251h2v2h-2zM287 251h2v2h-2zM290 251h2v2h-2zM291 251h2v2h-2zM298 251h2v2h-2zM302 251h2v2h-2zM236 252h2v2h-2zM239 252h2v2h-2zM259 252h2v2h-2zM268 252h2v2h-2zM278 252h2v2h-2zM279 252h2v2h-2zM280 252h2v2h-2zM286 252h2v2h-2zM299 252h2v2h-2zM301 252h2v2h-2zM235 253h2v2h-2zM267 253h2v2h-2zM268 253h2v2h-2zM273 253h2v2h-2zM276 253h2v2h-2zM288 253h2v2h-2zM290 253h2v2h-2zM298 253h2v2h-2zM240 254h2v2h-2zM267 254h2v2h-2zM278 254h2v2h-2zM280 254h2v2h-2zM290 254h2v2h-2zM299 254h2v2h-2zM263 255h2v2h-2zM264 255h2v2h-2zM266 255h2v2h-2zM268 255h2v2h-2zM270 255h2v2h-2zM271 255h2v2h-2zM272 255h2v2h-2zM274 255h2v2h-2zM277 255h2v2h-2zM298 255h2v2h-2zM300 255h2v2h-2zM301 255h2v2h-2zM237 256h2v2h-2zM255 256h2v2h-2zM257 256h2v2h-2zM261 256h2v2h-2zM266 256h2v2h-2zM275 256h2v2h-2zM269 257h2v2h-2zM271 257h2v2h-2zM277 257h2v2h-2zM297 257h2v2h-2zM241 258h2v2h-2zM243 258h2v2h-2zM246 258h2v2h-2zM252 258h2v2h-2zM254 258h2v2h-2zM261 258h2v2h-2zM262 258h2v2h-2zM264 258h2v2h-2zM267 258h2v2h-2zM268 258h2v2h-2zM272 258h2v2h-2zM287 258h2v2h-2zM295 258h2v2h-2zM240 259h2v2h-2zM244 259h2v2h-2zM246 259h2v2h-2zM254 259h2v2h-2zM270 259h2v2h-2zM273 259h2v2h-2zM274 259h2v2h-2zM276 259h2v2h-2zM240 260h2v2h-2zM247 260h2v2h-2zM250 260h2v2h-2zM256 260h2v2h-2zM288 260h2v2h-2zM232 261h2v2h-2zM242 261h2v2h-2zM243 261h2v2h-2zM249 261h2v2h-2zM251 261h2v2h-2zM253 261h2v2h-2zM254 261h2v2h-2zM263 261h2v2h-2zM273 261h2v2h-2zM260 262h2v2h-2zM274 262h2v2h-2zM276 262h2v2h-2zM281 262h2v2h-2zM286 262h2v2h-2zM232 263h2v2h-2zM234 263h2v2h-2zM242 263h2v2h-2zM252 263h2v2h-2zM256 263h2v2h-2zM257 263h2v2h-2zM272 263h2v2h-2zM273 263h2v2h-2zM275 263h2v2h-2zM277 263h2v2h-2zM240 264h2v2h-2zM242 264h2v2h-2zM250 264h2v2h-2zM257 264h2v2h-2zM258 264h2v2h-2zM263 264h2v2h-2zM271 264h2v2h-2zM279 264h2v2h-2zM282 264h2v2h-2zM284 264h2v2h-2zM299 264h2v2h-2zM252 265h2v2h-2zM253 265h2v2h-2zM265 265h2v2h-2zM266 265h2v2h-2zM286 265h2v2h-2zM238 266h2v2h-2zM240 266h2v2h-2zM245 266h2v2h-2zM256 266h2v2h-2zM259 266h2v2h-2zM262 266h2v2h-2zM265 266h2v2h-2zM267 266h2v2h-2zM285 266h2v2h-2zM287 266h2v2h-2zM298 266h2v2h-2zM300 266h2v2h-2zM301 266h2v2h-2zM248 267h2v2h-2zM251 267h2v2h-2zM254 267h2v2h-2zM256 267h2v2h-2zM302 267h2v2h-2zM246 268h2v2h-2zM247 268h2v2h-2zM249 268h2v2h-2zM256 268h2v2h-2zM269 268h2v2h-2zM275 268h2v2h-2zM287 268h2v2h-2zM246 269h2v2h-2zM250 269h2v2h-2zM257 269h2v2h-2zM259 269h2v2h-2zM275 269h2v2h-2zM251 270h2v2h-2zM254 270h2v2h-2zM258 270h2v2h-2zM259 270h2v2h-2zM275 270h2v2h-2zM246 271h2v2h-2zM251 271h2v2h-2zM255 271h2v2h-2zM263 271h2v2h-2zM271 271h2v2h-2zM275 271h2v2h-2zM242 272h2v2h-2zM243 272h2v2h-2zM244 272h2v2h-2zM248 272h2v2h-2zM250 272h2v2h-2zM258 272h2v2h-2zM260 272h2v2h-2zM264 272h2v2h-2zM267 272h2v2h-2zM282 272h2v2h-2zM241 273h2v2h-2zM246 273h2v2h-2zM253 273h2v2h-2zM262 273h2v2h-2zM282 273h2v2h-2zM286 273h2v2h-2zM288 273h2v2h-2zM256 274h2v2h-2zM260 274h2v2h-2zM261 274h2v2h-2zM268 274h2v2h-2zM270 274h2v2h-2zM273 274h2v2h-2zM275 274h2v2h-2zM247 275h2v2h-2zM252 275h2v2h-2zM262 275h2v2h-2zM274 275h2v2h-2zM276 275h2v2h-2zM287 275h2v2h-2zM260 276h2v2h-2zM270 276h2v2h-2zM275 276h2v2h-2zM268 277h2v2h-2zM273 277h2v2h-2zM268 278h2v2h-2zM274 278h2v2h-2zM259 279h2v2h-2zM269 279h2v2h-2zM272 279h2v2h-2zM282 279h2v2h-2zM230 280h2v2h-2zM232 280h2v2h-2zM256 280h2v2h-2zM284 280h2v2h-2zM261 281h2v2h-2zM285 281h2v2h-2zM230 282h2v2h-2zM255 282h2v2h-2zM256 282h2v2h-2zM260 282h2v2h-2zM228 283h2v2h-2zM233 283h2v2h-2zM264 283h2v2h-2zM233 284h2v2h-2zM235 284h2v2h-2zM254 284h2v2h-2zM258 284h2v2h-2zM259 284h2v2h-2zM260 284h2v2h-2zM249 285h2v2h-2zM252 285h2v2h-2zM256 285h2v2h-2zM257 285h2v2h-2zM262 285h2v2h-2zM264 285h2v2h-2zM234 286h2v2h-2zM249 286h2v2h-2zM250 286h2v2h-2zM253 286h2v2h-2zM256 286h2v2h-2zM274 286h2v2h-2zM242 287h2v2h-2zM244 287h2v2h-2zM252 287h2v2h-2zM274 287h2v2h-2zM276 287h2v2h-2zM246 288h2v2h-2zM251 288h2v2h-2zM253 288h2v2h-2zM274 288h2v2h-2zM240 289h2v2h-2zM244 289h2v2h-2zM266 289h2v2h-2zM274 289h2v2h-2zM242 290h2v2h-2zM246 290h2v2h-2zM251 290h2v2h-2zM253 290h2v2h-2zM264 290h2v2h-2zM276 290h2v2h-2zM277 290h2v2h-2zM244 291h2v2h-2zM251 291h2v2h-2zM259 291h2v2h-2zM262 291h2v2h-2zM263 291h2v2h-2zM266 291h2v2h-2zM241 292h2v2h-2zM244 292h2v2h-2zM247 292h2v2h-2zM250 292h2v2h-2zM252 292h2v2h-2zM261 292h2v2h-2zM265 292h2v2h-2zM276 292h2v2h-2zM278 292h2v2h-2zM227 293h2v2h-2zM236 293h2v2h-2zM242 293h2v2h-2zM246 293h2v2h-2zM251 293h2v2h-2zM258 293h2v2h-2zM260 293h2v2h-2zM276 293h2v2h-2zM238 294h2v2h-2zM243 294h2v2h-2zM248 294h2v2h-2zM256 294h2v2h-2zM263 294h2v2h-2zM242 295h2v2h-2zM244 295h2v2h-2zM246 295h2v2h-2zM247 295h2v2h-2zM242 296h2v2h-2zM257 296h2v2h-2zM258 296h2v2h-2zM237 297h2v2h-2zM244 297h2v2h-2zM263 297h2v2h-2zM236 298h2v2h-2zM239 298h2v2h-2zM241 298h2v2h-2zM263 298h2v2h-2zM217 299h2v2h-2zM228 299h2v2h-2zM237 299h2v2h-2zM251 299h2v2h-2zM253 299h2v2h-2zM263 299h2v2h-2zM264 299h2v2h-2zM226 300h2v2h-2zM255 300h2v2h-2zM263 300h2v2h-2zM227 301h2v2h-2zM228 301h2v2h-2zM240 301h2v2h-2zM247 301h2v2h-2zM248 301h2v2h-2zM249 301h2v2h-2zM251 301h2v2h-2zM253 301h2v2h-2zM259 301h2v2h-2zM223 302h2v2h-2zM224 302h2v2h-2zM239 302h2v2h-2zM242 302h2v2h-2zM253 302h2v2h-2zM255 302h2v2h-2zM225 303h2v2h-2zM227 303h2v2h-2zM228 303h2v2h-2zM248 303h2v2h-2zM252 303h2v2h-2zM257 303h2v2h-2zM223 304h2v2h-2zM231 304h2v2h-2zM234 304h2v2h-2zM250 304h2v2h-2zM251 304h2v2h-2zM274 304h2v2h-2zM224 305h2v2h-2zM226 305h2v2h-2zM228 305h2v2h-2zM233 305h2v2h-2zM247 305h2v2h-2zM252 305h2v2h-2zM259 305h2v2h-2zM272 305h2v2h-2zM224 306h2v2h-2zM230 306h2v2h-2zM232 306h2v2h-2zM242 306h2v2h-2zM249 306h2v2h-2zM252 306h2v2h-2zM229 307h2v2h-2zM234 307h2v2h-2zM240 307h2v2h-2zM241 307h2v2h-2zM242 307h2v2h-2zM244 307h2v2h-2zM245 307h2v2h-2zM247 307h2v2h-2zM256 307h2v2h-2zM214 308h2v2h-2zM230 308h2v2h-2zM231 308h2v2h-2zM241 308h2v2h-2zM243 308h2v2h-2zM250 308h2v2h-2zM229 309h2v2h-2zM235 309h2v2h-2zM254 309h2v2h-2zM255 309h2v2h-2zM230 310h2v2h-2zM241 310h2v2h-2zM242 310h2v2h-2zM248 310h2v2h-2zM225 311h2v2h-2zM234 311h2v2h-2zM250 311h2v2h-2zM255 311h2v2h-2zM258 311h2v2h-2zM222 312h2v2h-2zM226 312h2v2h-2zM227 312h2v2h-2zM238 312h2v2h-2zM240 312h2v2h-2zM249 312h2v2h-2zM250 312h2v2h-2zM253 312h2v2h-2zM255 312h2v2h-2zM257 312h2v2h-2zM224 313h2v2h-2zM236 313h2v2h-2zM239 313h2v2h-2zM259 313h2v2h-2zM226 314h2v2h-2zM227 314h2v2h-2zM252 314h2v2h-2zM259 314h2v2h-2zM251 315h2v2h-2zM228 316h2v2h-2zM236 316h2v2h-2zM231 317h2v2h-2zM244 317h2v2h-2zM245 317h2v2h-2zM252 317h2v2h-2zM222 318h2v2h-2zM241 318h2v2h-2zM243 318h2v2h-2zM246 318h2v2h-2zM231 319h2v2h-2zM232 319h2v2h-2zM242 319h2v2h-2zM243 319h2v2h-2zM231 320h2v2h-2zM237 320h2v2h-2zM238 320h2v2h-2zM244 320h2v2h-2zM229 321h2v2h-2zM241 321h2v2h-2zM260 321h2v2h-2zM229 322h2v2h-2zM235 322h2v2h-2zM241 322h2v2h-2zM246 322h2v2h-2zM258 322h2v2h-2zM259 322h2v2h-2zM228 323h2v2h-2zM235 323h2v2h-2zM226 324h2v2h-2zM249 325h2v2h-2zM250 325h2v2h-2zM240 326h2v2h-2zM247 326h2v2h-2zM248 327h2v2h-2zM243 328h2v2h-2zM247 328h2v2h-2zM245 329h2v2h-2zM249 329h2v2h-2zM217 330h2v2h-2zM245 330h2v2h-2zM249 330h2v2h-2zM216 331h2v2h-2zM244 331h2v2h-2zM246 331h2v2h-2zM215 332h2v2h-2zM230 332h2v2h-2zM243 332h2v2h-2zM244 332h2v2h-2zM255 333h2v2h-2zM253 334h2v2h-2zM220 335h2v2h-2zM222 335h2v2h-2zM224 335h2v2h-2zM239 335h2v2h-2zM240 335h2v2h-2zM254 335h2v2h-2zM220 336h2v2h-2zM221 336h2v2h-2zM222 337h2v2h-2zM226 337h2v2h-2zM227 337h2v2h-2zM239 337h2v2h-2zM241 337h2v2h-2zM243 337h2v2h-2zM244 337h2v2h-2zM245 337h2v2h-2zM221 338h2v2h-2zM226 338h2v2h-2zM228 338h2v2h-2zM243 338h2v2h-2zM216 339h2v2h-2zM219 339h2v2h-2zM224 340h2v2h-2zM225 340h2v2h-2zM228 340h2v2h-2zM214 341h2v2h-2zM215 341h2v2h-2zM217 341h2v2h-2zM219 341h2v2h-2zM227 341h2v2h-2zM231 341h2v2h-2zM211 342h2v2h-2zM215 342h2v2h-2zM218 342h2v2h-2zM227 342h2v2h-2zM232 342h2v2h-2zM210 343h2v2h-2zM213 343h2v2h-2zM214 343h2v2h-2zM226 343h2v2h-2zM229 343h2v2h-2zM209 344h2v2h-2zM210 344h2v2h-2zM211 344h2v2h-2zM217 344h2v2h-2zM217 345h2v2h-2zM224 345h2v2h-2zM228 345h2v2h-2zM232 345h2v2h-2zM216 346h2v2h-2zM223 346h2v2h-2zM231 346h2v2h-2zM232 346h2v2h-2zM214 347h2v2h-2zM218 347h2v2h-2zM219 347h2v2h-2zM225 347h2v2h-2zM230 347h2v2h-2zM233 347h2v2h-2zM234 347h2v2h-2zM212 348h2v2h-2zM215 348h2v2h-2zM217 348h2v2h-2zM219 348h2v2h-2zM222 348h2v2h-2zM229 348h2v2h-2zM238 348h2v2h-2zM213 349h2v2h-2zM224 349h2v2h-2zM234 349h2v2h-2zM239 349h2v2h-2zM241 349h2v2h-2zM219 350h2v2h-2zM222 350h2v2h-2zM225 350h2v2h-2zM235 350h2v2h-2zM236 350h2v2h-2zM217 351h2v2h-2zM218 351h2v2h-2zM227 351h2v2h-2zM241 351h2v2h-2zM228 352h2v2h-2zM211 353h2v2h-2zM213 353h2v2h-2zM228 353h2v2h-2zM240 353h2v2h-2zM216 354h2v2h-2zM213 355h2v2h-2zM215 355h2v2h-2zM220 355h2v2h-2zM228 355h2v2h-2zM229 355h2v2h-2zM239 355h2v2h-2zM204 356h2v2h-2zM207 356h2v2h-2zM213 356h2v2h-2zM217 356h2v2h-2zM222 356h2v2h-2zM225 356h2v2h-2zM226 356h2v2h-2zM230 356h2v2h-2zM236 356h2v2h-2zM237 356h2v2h-2zM214 357h2v2h-2zM218 357h2v2h-2zM220 357h2v2h-2zM222 357h2v2h-2zM240 357h2v2h-2zM208 358h2v2h-2zM209 358h2v2h-2zM211 358h2v2h-2zM224 358h2v2h-2zM230 358h2v2h-2zM233 358h2v2h-2zM238 358h2v2h-2zM201 359h2v2h-2zM211 359h2v2h-2zM213 359h2v2h-2zM217 359h2v2h-2zM219 359h2v2h-2zM221 359h2v2h-2zM223 359h2v2h-2zM232 359h2v2h-2zM240 359h2v2h-2zM201 360h2v2h-2zM202 360h2v2h-2zM203 360h2v2h-2zM207 360h2v2h-2zM213 360h2v2h-2zM222 360h2v2h-2zM223 360h2v2h-2zM231 360h2v2h-2zM234 360h2v2h-2zM217 361h2v2h-2zM218 361h2v2h-2zM223 361h2v2h-2zM228 361h2v2h-2zM232 361h2v2h-2zM234 361h2v2h-2zM236 361h2v2h-2zM212 362h2v2h-2zM216 362h2v2h-2zM220 362h2v2h-2zM230 362h2v2h-2zM232 362h2v2h-2zM234 362h2v2h-2zM201 363h2v2h-2zM214 363h2v2h-2zM217 363h2v2h-2zM218 363h2v2h-2zM226 363h2v2h-2zM228 363h2v2h-2zM233 363h2v2h-2zM202 364h2v2h-2zM203 364h2v2h-2zM210 364h2v2h-2zM229 364h2v2h-2zM232 364h2v2h-2zM211 365h2v2h-2zM227 365h2v2h-2zM233 365h2v2h-2zM203 366h2v2h-2zM210 366h2v2h-2zM216 366h2v2h-2zM217 366h2v2h-2zM229 366h2v2h-2zM231 366h2v2h-2zM234 366h2v2h-2zM242 366h2v2h-2zM204 367h2v2h-2zM224 367h2v2h-2zM209 368h2v2h-2zM228 368h2v2h-2zM232 368h2v2h-2zM208 369h2v2h-2zM211 369h2v2h-2zM219 369h2v2h-2zM225 369h2v2h-2zM232 369h2v2h-2zM205 370h2v2h-2zM210 370h2v2h-2zM230 370h2v2h-2zM232 370h2v2h-2zM199 371h2v2h-2zM200 371h2v2h-2zM204 371h2v2h-2zM207 371h2v2h-2zM219 371h2v2h-2zM233 371h2v2h-2zM235 371h2v2h-2zM209 372h2v2h-2zM225 372h2v2h-2zM227 372h2v2h-2zM200 373h2v2h-2zM201 373h2v2h-2zM203 373h2v2h-2zM221 373h2v2h-2zM228 373h2v2h-2zM235 373h2v2h-2zM199 374h2v2h-2zM203 374h2v2h-2zM211 374h2v2h-2zM222 374h2v2h-2zM227 374h2v2h-2zM230 374h2v2h-2zM197 375h2v2h-2zM231 375h2v2h-2zM204 376h2v2h-2zM215 376h2v2h-2zM222 376h2v2h-2zM225 376h2v2h-2zM228 376h2v2h-2zM231 376h2v2h-2zM198 377h2v2h-2zM200 377h2v2h-2zM201 377h2v2h-2zM204 377h2v2h-2zM210 377h2v2h-2zM211 377h2v2h-2zM212 377h2v2h-2zM231 377h2v2h-2zM233 377h2v2h-2zM243 377h2v2h-2zM203 378h2v2h-2zM223 378h2v2h-2zM230 378h2v2h-2zM202 379h2v2h-2zM205 379h2v2h-2zM212 379h2v2h-2zM215 379h2v2h-2zM224 379h2v2h-2zM235 379h2v2h-2zM208 380h2v2h-2zM225 380h2v2h-2zM199 381h2v2h-2zM226 381h2v2h-2zM236 381h2v2h-2zM237 381h2v2h-2zM226 382h2v2h-2zM237 382h2v2h-2zM239 382h2v2h-2zM200 383h2v2h-2zM227 383h2v2h-2zM231 383h2v2h-2zM204 384h2v2h-2zM217 384h2v2h-2zM234 384h2v2h-2zM235 384h2v2h-2zM237 384h2v2h-2zM238 384h2v2h-2zM232 385h2v2h-2zM201 386h2v2h-2zM203 386h2v2h-2zM233 386h2v2h-2zM234 387h2v2h-2zM237 387h2v2h-2zM202 388h2v2h-2zM226 388h2v2h-2zM198 389h2v2h-2zM200 389h2v2h-2zM208 389h2v2h-2zM218 389h2v2h-2zM233 389h2v2h-2zM236 389h2v2h-2zM201 390h2v2h-2zM202 390h2v2h-2zM206 390h2v2h-2zM237 390h2v2h-2zM198 391h2v2h-2zM204 391h2v2h-2zM207 391h2v2h-2zM232 391h2v2h-2zM229 392h2v2h-2zM230 393h2v2h-2zM233 393h2v2h-2zM235 393h2v2h-2zM205 394h2v2h-2zM227 394h2v2h-2zM231 394h2v2h-2zM203 395h2v2h-2zM232 395h2v2h-2zM234 395h2v2h-2zM198 396h2v2h-2zM223 396h2v2h-2zM224 397h2v2h-2zM226 398h2v2h-2zM230 398h2v2h-2zM235 398h2v2h-2zM223 399h2v2h-2zM199 400h2v2h-2zM235 400h2v2h-2zM202 401h2v2h-2zM209 401h2v2h-2zM229 401h2v2h-2zM232 401h2v2h-2zM234 401h2v2h-2zM200 402h2v2h-2zM230 402h2v2h-2zM198 403h2v2h-2zM201 403h2v2h-2zM224 403h2v2h-2zM233 403h2v2h-2zM198 404h2v2h-2zM234 404h2v2h-2zM200 405h2v2h-2zM201 405h2v2h-2zM204 405h2v2h-2zM228 405h2v2h-2zM233 405h2v2h-2zM197 406h2v2h-2zM199 406h2v2h-2zM202 406h2v2h-2zM203 406h2v2h-2zM205 406h2v2h-2zM226 406h2v2h-2zM232 406h2v2h-2zM234 406h2v2h-2zM195 407h2v2h-2zM206 407h2v2h-2zM209 407h2v2h-2zM224 407h2v2h-2zM197 408h2v2h-2zM199 408h2v2h-2zM200 408h2v2h-2zM201 408h2v2h-2zM203 408h2v2h-2zM204 408h2v2h-2zM223 408h2v2h-2zM234 408h2v2h-2zM232 409h2v2h-2zM216 410h2v2h-2zM222 410h2v2h-2zM223 410h2v2h-2zM233 410h2v2h-2zM206 411h2v2h-2zM213 411h2v2h-2zM215 411h2v2h-2zM229 411h2v2h-2zM233 411h2v2h-2zM208 412h2v2h-2zM215 412h2v2h-2zM218 412h2v2h-2zM219 412h2v2h-2zM221 412h2v2h-2zM222 412h2v2h-2zM231 412h2v2h-2zM232 412h2v2h-2zM233 412h2v2h-2zM209 413h2v2h-2zM212 413h2v2h-2zM214 413h2v2h-2zM224 413h2v2h-2zM206 414h2v2h-2zM220 414h2v2h-2zM230 414h2v2h-2zM202 415h2v2h-2zM210 415h2v2h-2zM221 415h2v2h-2zM205 416h2v2h-2zM208 416h2v2h-2zM212 416h2v2h-2zM221 416h2v2h-2zM231 416h2v2h-2zM232 416h2v2h-2zM200 417h2v2h-2zM211 417h2v2h-2zM222 417h2v2h-2zM198 418h2v2h-2zM207 418h2v2h-2zM210 418h2v2h-2zM211 418h2v2h-2zM222 418h2v2h-2zM196 419h2v2h-2zM211 420h2v2h-2zM220 420h2v2h-2zM202 421h2v2h-2zM219 421h2v2h-2zM200 422h2v2h-2zM204 422h2v2h-2zM211 422h2v2h-2zM221 422h2v2h-2zM213 423h2v2h-2zM215 423h2v2h-2zM221 423h2v2h-2zM213 424h2v2h-2zM214 425h2v2h-2zM206 427h2v2h-2zM217 427h2v2h-2zM204 428h2v2h-2zM218 428h2v2h-2zM204 429h2v2h-2zM215 430h2v2h-2zM217 430h2v2h-2zM213 431h2v2h-2zM215 432h2v2h-2zM982 173h2v2h-2zM960 174h2v2h-2zM982 174h2v2h-2zM962 175h2v2h-2zM954 176h2v2h-2zM961 176h2v2h-2zM951 177h2v2h-2zM956 177h2v2h-2zM964 177h2v2h-2zM952 178h2v2h-2zM956 178h2v2h-2zM954 179h2v2h-2zM977 179h2v2h-2zM955 180h2v2h-2zM958 180h2v2h-2zM959 180h2v2h-2zM973 180h2v2h-2zM975 181h2v2h-2zM977 181h2v2h-2zM979 181h2v2h-2zM937 182h2v2h-2zM954 182h2v2h-2zM967 182h2v2h-2zM969 182h2v2h-2zM972 182h2v2h-2zM974 182h2v2h-2zM976 182h2v2h-2zM985 182h2v2h-2zM988 182h2v2h-2zM948 183h2v2h-2zM949 183h2v2h-2zM953 183h2v2h-2zM958 183h2v2h-2zM965 183h2v2h-2zM966 183h2v2h-2zM971 183h2v2h-2zM986 183h2v2h-2zM941 184h2v2h-2zM947 184h2v2h-2zM953 184h2v2h-2zM959 184h2v2h-2zM961 184h2v2h-2zM963 184h2v2h-2zM974 184h2v2h-2zM984 184h2v2h-2zM988 184h2v2h-2zM990 184h2v2h-2zM946 185h2v2h-2zM948 185h2v2h-2zM950 185h2v2h-2zM953 185h2v2h-2zM957 185h2v2h-2zM965 185h2v2h-2zM971 185h2v2h-2zM972 185h2v2h-2zM982 185h2v2h-2zM945 186h2v2h-2zM955 186h2v2h-2zM960 186h2v2h-2zM965 186h2v2h-2zM986 186h2v2h-2zM937 187h2v2h-2zM939 187h2v2h-2zM947 187h2v2h-2zM950 187h2v2h-2zM958 187h2v2h-2zM963 187h2v2h-2zM971 187h2v2h-2zM975 187h2v2h-2zM979 187h2v2h-2zM984 187h2v2h-2zM929 188h2v2h-2zM939 188h2v2h-2zM952 188h2v2h-2zM973 188h2v2h-2zM977 188h2v2h-2zM1005 188h2v2h-2zM931 189h2v2h-2zM938 189h2v2h-2zM943 189h2v2h-2zM945 189h2v2h-2zM948 189h2v2h-2zM952 189h2v2h-2zM955 189h2v2h-2zM978 189h2v2h-2zM980 189h2v2h-2zM1003 189h2v2h-2zM929 190h2v2h-2zM934 190h2v2h-2zM936 190h2v2h-2zM941 190h2v2h-2zM943 190h2v2h-2zM960 190h2v2h-2zM982 190h2v2h-2zM1005 190h2v2h-2zM923 191h2v2h-2zM940 191h2v2h-2zM969 191h2v2h-2zM970 191h2v2h-2zM973 191h2v2h-2zM981 191h2v2h-2zM924 192h2v2h-2zM927 192h2v2h-2zM929 192h2v2h-2zM940 192h2v2h-2zM967 192h2v2h-2zM976 192h2v2h-2zM984 192h2v2h-2zM929 193h2v2h-2zM931 193h2v2h-2zM947 193h2v2h-2zM950 193h2v2h-2zM973 193h2v2h-2zM974 193h2v2h-2zM978 193h2v2h-2zM981 193h2v2h-2zM932 194h2v2h-2zM940 194h2v2h-2zM952 194h2v2h-2zM976 194h2v2h-2zM985 194h2v2h-2zM987 194h2v2h-2zM923 195h2v2h-2zM928 195h2v2h-2zM934 195h2v2h-2zM953 195h2v2h-2zM973 195h2v2h-2zM977 195h2v2h-2zM924 196h2v2h-2zM927 196h2v2h-2zM930 196h2v2h-2zM933 196h2v2h-2zM978 196h2v2h-2zM981 196h2v2h-2zM982 196h2v2h-2zM986 196h2v2h-2zM988 196h2v2h-2zM913 197h2v2h-2zM924 197h2v2h-2zM927 197h2v2h-2zM980 197h2v2h-2zM912 198h2v2h-2zM913 198h2v2h-2zM914 198h2v2h-2zM923 198h2v2h-2zM924 198h2v2h-2zM926 198h2v2h-2zM955 198h2v2h-2zM973 198h2v2h-2zM916 199h2v2h-2zM920 199h2v2h-2zM964 199h2v2h-2zM972 199h2v2h-2zM974 199h2v2h-2zM978 199h2v2h-2zM912 200h2v2h-2zM913 200h2v2h-2zM916 200h2v2h-2zM919 200h2v2h-2zM927 200h2v2h-2zM944 200h2v2h-2zM967 200h2v2h-2zM971 200h2v2h-2zM982 200h2v2h-2zM919 201h2v2h-2zM969 201h2v2h-2zM978 201h2v2h-2zM980 201h2v2h-2zM913 202h2v2h-2zM918 202h2v2h-2zM920 202h2v2h-2zM970 202h2v2h-2zM972 202h2v2h-2zM982 202h2v2h-2zM984 202h2v2h-2zM912 203h2v2h-2zM923 203h2v2h-2zM975 203h2v2h-2zM976 203h2v2h-2zM985 203h2v2h-2zM986 203h2v2h-2zM913 204h2v2h-2zM970 204h2v2h-2zM972 204h2v2h-2zM974 204h2v2h-2zM980 204h2v2h-2zM917 205h2v2h-2zM919 205h2v2h-2zM972 205h2v2h-2zM973 205h2v2h-2zM981 205h2v2h-2zM995 205h2v2h-2zM908 206h2v2h-2zM909 206h2v2h-2zM912 206h2v2h-2zM983 206h2v2h-2zM996 206h2v2h-2zM906 207h2v2h-2zM915 207h2v2h-2zM918 207h2v2h-2zM920 207h2v2h-2zM971 207h2v2h-2zM974 207h2v2h-2zM977 207h2v2h-2zM911 208h2v2h-2zM927 208h2v2h-2zM964 208h2v2h-2zM984 208h2v2h-2zM916 209h2v2h-2zM917 209h2v2h-2zM918 209h2v2h-2zM925 209h2v2h-2zM962 209h2v2h-2zM965 209h2v2h-2zM969 209h2v2h-2zM972 209h2v2h-2zM973 209h2v2h-2zM974 209h2v2h-2zM975 209h2v2h-2zM985 209h2v2h-2zM910 210h2v2h-2zM912 210h2v2h-2zM927 210h2v2h-2zM962 210h2v2h-2zM971 210h2v2h-2zM911 211h2v2h-2zM916 211h2v2h-2zM927 211h2v2h-2zM964 211h2v2h-2zM974 211h2v2h-2zM977 211h2v2h-2zM979 211h2v2h-2zM989 211h2v2h-2zM908 212h2v2h-2zM911 212h2v2h-2zM923 212h2v2h-2zM960 212h2v2h-2zM981 212h2v2h-2zM987 212h2v2h-2zM989 212h2v2h-2zM910 213h2v2h-2zM916 213h2v2h-2zM917 213h2v2h-2zM920 213h2v2h-2zM921 213h2v2h-2zM923 213h2v2h-2zM972 213h2v2h-2zM973 213h2v2h-2zM979 213h2v2h-2zM982 213h2v2h-2zM991 213h2v2h-2zM899 214h2v2h-2zM915 214h2v2h-2zM923 214h2v2h-2zM966 214h2v2h-2zM968 214h2v2h-2zM970 214h2v2h-2zM984 214h2v2h-2zM991 214h2v2h-2zM900 215h2v2h-2zM911 215h2v2h-2zM913 215h2v2h-2zM915 215h2v2h-2zM963 215h2v2h-2zM980 215h2v2h-2zM981 215h2v2h-2zM983 215h2v2h-2zM989 215h2v2h-2zM992 215h2v2h-2zM910 216h2v2h-2zM911 216h2v2h-2zM960 216h2v2h-2zM965 216h2v2h-2zM968 216h2v2h-2zM989 216h2v2h-2zM902 217h2v2h-2zM909 217h2v2h-2zM915 217h2v2h-2zM970 217h2v2h-2zM972 217h2v2h-2zM975 217h2v2h-2zM979 217h2v2h-2zM983 217h2v2h-2zM987 217h2v2h-2zM917 218h2v2h-2zM966 218h2v2h-2zM969 218h2v2h-2zM989 218h2v2h-2zM910 219h2v2h-2zM911 219h2v2h-2zM915 219h2v2h-2zM958 219h2v2h-2zM970 219h2v2h-2zM973 219h2v2h-2zM977 219h2v2h-2zM896 220h2v2h-2zM932 220h2v2h-2zM954 220h2v2h-2zM892 221h2v2h-2zM898 221h2v2h-2zM915 221h2v2h-2zM941 221h2v2h-2zM955 221h2v2h-2zM961 221h2v2h-2zM971 221h2v2h-2zM907 222h2v2h-2zM932 222h2v2h-2zM959 222h2v2h-2zM961 222h2v2h-2zM969 222h2v2h-2zM972 222h2v2h-2zM904 223h2v2h-2zM934 223h2v2h-2zM940 223h2v2h-2zM943 223h2v2h-2zM946 223h2v2h-2zM957 223h2v2h-2zM959 223h2v2h-2zM962 223h2v2h-2zM966 223h2v2h-2zM908 224h2v2h-2zM909 224h2v2h-2zM910 224h2v2h-2zM925 224h2v2h-2zM929 224h2v2h-2zM941 224h2v2h-2zM947 224h2v2h-2zM958 224h2v2h-2zM966 224h2v2h-2zM968 224h2v2h-2zM971 224h2v2h-2zM901 225h2v2h-2zM905 225h2v2h-2zM906 225h2v2h-2zM910 225h2v2h-2zM912 225h2v2h-2zM916 225h2v2h-2zM950 225h2v2h-2zM958 225h2v2h-2zM961 225h2v2h-2zM966 225h2v2h-2zM968 225h2v2h-2zM969 225h2v2h-2zM897 226h2v2h-2zM914 226h2v2h-2zM915 226h2v2h-2zM946 226h2v2h-2zM959 226h2v2h-2zM961 226h2v2h-2zM969 226h2v2h-2zM902 227h2v2h-2zM904 227h2v2h-2zM914 227h2v2h-2zM916 227h2v2h-2zM923 227h2v2h-2zM924 227h2v2h-2zM937 227h2v2h-2zM941 227h2v2h-2zM960 227h2v2h-2zM888 228h2v2h-2zM889 228h2v2h-2zM899 228h2v2h-2zM906 228h2v2h-2zM907 228h2v2h-2zM912 228h2v2h-2zM925 228h2v2h-2zM931 228h2v2h-2zM934 228h2v2h-2zM945 228h2v2h-2zM948 228h2v2h-2zM953 228h2v2h-2zM960 228h2v2h-2zM891 229h2v2h-2zM898 229h2v2h-2zM902 229h2v2h-2zM923 229h2v2h-2zM929 229h2v2h-2zM946 229h2v2h-2zM951 229h2v2h-2zM953 229h2v2h-2zM868 230h2v2h-2zM889 230h2v2h-2zM898 230h2v2h-2zM901 230h2v2h-2zM907 230h2v2h-2zM910 230h2v2h-2zM917 230h2v2h-2zM922 230h2v2h-2zM927 230h2v2h-2zM928 230h2v2h-2zM939 230h2v2h-2zM941 230h2v2h-2zM900 231h2v2h-2zM903 231h2v2h-2zM906 231h2v2h-2zM926 231h2v2h-2zM929 231h2v2h-2zM931 231h2v2h-2zM940 231h2v2h-2zM954 231h2v2h-2zM958 231h2v2h-2zM868 232h2v2h-2zM908 232h2v2h-2zM912 232h2v2h-2zM925 232h2v2h-2zM952 232h2v2h-2zM889 233h2v2h-2zM891 233h2v2h-2zM908 233h2v2h-2zM909 233h2v2h-2zM936 233h2v2h-2zM946 233h2v2h-2zM953 233h2v2h-2zM955 233h2v2h-2zM957 233h2v2h-2zM891 234h2v2h-2zM893 234h2v2h-2zM911 234h2v2h-2zM912 234h2v2h-2zM918 234h2v2h-2zM920 234h2v2h-2zM927 234h2v2h-2zM938 234h2v2h-2zM944 234h2v2h-2zM954 234h2v2h-2zM959 234h2v2h-2zM888 235h2v2h-2zM889 235h2v2h-2zM890 235h2v2h-2zM907 235h2v2h-2zM926 235h2v2h-2zM928 235h2v2h-2zM930 235h2v2h-2zM934 235h2v2h-2zM940 235h2v2h-2zM945 235h2v2h-2zM946 235h2v2h-2zM948 235h2v2h-2zM949 235h2v2h-2zM950 235h2v2h-2zM958 235h2v2h-2zM885 236h2v2h-2zM889 236h2v2h-2zM891 236h2v2h-2zM897 236h2v2h-2zM911 236h2v2h-2zM913 236h2v2h-2zM927 236h2v2h-2zM935 236h2v2h-2zM948 236h2v2h-2zM954 236h2v2h-2zM957 236h2v2h-2zM885 237h2v2h-2zM887 237h2v2h-2zM909 237h2v2h-2zM922 237h2v2h-2zM923 237h2v2h-2zM945 237h2v2h-2zM946 237h2v2h-2zM959 237h2v2h-2zM895 238h2v2h-2zM899 238h2v2h-2zM906 238h2v2h-2zM916 238h2v2h-2zM917 238h2v2h-2zM922 238h2v2h-2zM923 238h2v2h-2zM925 238h2v2h-2zM930 238h2v2h-2zM934 238h2v2h-2zM939 238h2v2h-2zM891 239h2v2h-2zM906 239h2v2h-2zM916 239h2v2h-2zM925 239h2v2h-2zM932 239h2v2h-2zM937 239h2v2h-2zM940 239h2v2h-2zM941 239h2v2h-2zM942 239h2v2h-2zM948 239h2v2h-2zM889 240h2v2h-2zM893 240h2v2h-2zM895 240h2v2h-2zM899 240h2v2h-2zM900 240h2v2h-2zM906 240h2v2h-2zM910 240h2v2h-2zM911 240h2v2h-2zM914 240h2v2h-2zM919 240h2v2h-2zM933 240h2v2h-2zM949 240h2v2h-2zM951 240h2v2h-2zM938 241h2v2h-2zM891 242h2v2h-2zM909 242h2v2h-2zM910 242h2v2h-2zM919 242h2v2h-2zM920 242h2v2h-2zM922 242h2v2h-2zM951 242h2v2h-2zM884 243h2v2h-2zM906 243h2v2h-2zM912 243h2v2h-2zM920 243h2v2h-2zM943 243h2v2h-2zM877 244h2v2h-2zM882 244h2v2h-2zM883 244h2v2h-2zM890 244h2v2h-2zM910 244h2v2h-2zM912 244h2v2h-2zM918 244h2v2h-2zM928 244h2v2h-2zM945 244h2v2h-2zM879 245h2v2h-2zM884 245h2v2h-2zM892 245h2v2h-2zM904 245h2v2h-2zM906 245h2v2h-2zM925 245h2v2h-2zM928 245h2v2h-2zM932 245h2v2h-2zM873 246h2v2h-2zM895 246h2v2h-2zM906 246h2v2h-2zM911 246h2v2h-2zM913 246h2v2h-2zM926 246h2v2h-2zM930 246h2v2h-2zM934 246h2v2h-2zM871 247h2v2h-2zM902 247h2v2h-2zM907 247h2v2h-2zM936 247h2v2h-2zM873 248h2v2h-2zM903 248h2v2h-2zM905 248h2v2h-2zM915 248h2v2h-2zM930 248h2v2h-2zM932 248h2v2h-2zM902 249h2v2h-2zM904 249h2v2h-2zM906 249h2v2h-2zM923 249h2v2h-2zM928 249h2v2h-2zM929 249h2v2h-2zM933 249h2v2h-2zM934 249h2v2h-2zM872 250h2v2h-2zM884 250h2v2h-2zM898 250h2v2h-2zM899 250h2v2h-2zM901 250h2v2h-2zM903 250h2v2h-2zM909 250h2v2h-2zM910 250h2v2h-2zM916 250h2v2h-2zM923 250h2v2h-2zM935 250h2v2h-2zM936 250h2v2h-2zM883 251h2v2h-2zM901 251h2v2h-2zM903 251h2v2h-2zM914 251h2v2h-2zM923 251h2v2h-2zM924 251h2v2h-2zM925 251h2v2h-2zM927 251h2v2h-2zM931 251h2v2h-2zM932 251h2v2h-2zM934 251h2v2h-2zM882 252h2v2h-2zM885 252h2v2h-2zM897 252h2v2h-2zM907 252h2v2h-2zM916 252h2v2h-2zM919 252h2v2h-2zM934 252h2v2h-2zM882 253h2v2h-2zM898 253h2v2h-2zM900 253h2v2h-2zM921 253h2v2h-2zM930 253h2v2h-2zM934 253h2v2h-2zM880 254h2v2h-2zM882 254h2v2h-2zM887 254h2v2h-2zM917 254h2v2h-2zM924 254h2v2h-2zM925 254h2v2h-2zM928 254h2v2h-2zM934 254h2v2h-2zM882 255h2v2h-2zM894 255h2v2h-2zM896 255h2v2h-2zM911 255h2v2h-2zM926 255h2v2h-2zM933 255h2v2h-2zM888 256h2v2h-2zM898 256h2v2h-2zM901 256h2v2h-2zM909 256h2v2h-2zM913 256h2v2h-2zM917 256h2v2h-2zM924 256h2v2h-2zM926 256h2v2h-2zM932 256h2v2h-2zM886 257h2v2h-2zM893 257h2v2h-2zM896 257h2v2h-2zM909 257h2v2h-2zM919 257h2v2h-2zM922 257h2v2h-2zM930 257h2v2h-2zM931 257h2v2h-2zM884 258h2v2h-2zM893 258h2v2h-2zM895 258h2v2h-2zM897 258h2v2h-2zM899 258h2v2h-2zM903 258h2v2h-2zM911 258h2v2h-2zM913 258h2v2h-2zM929 258h2v2h-2zM885 259h2v2h-2zM886 259h2v2h-2zM890 259h2v2h-2zM892 259h2v2h-2zM895 259h2v2h-2zM916 259h2v2h-2zM920 259h2v2h-2zM922 259h2v2h-2zM932 259h2v2h-2zM881 260h2v2h-2zM884 260h2v2h-2zM905 260h2v2h-2zM914 260h2v2h-2zM921 260h2v2h-2zM876 261h2v2h-2zM882 261h2v2h-2zM885 261h2v2h-2zM891 261h2v2h-2zM907 261h2v2h-2zM910 261h2v2h-2zM873 262h2v2h-2zM876 262h2v2h-2zM877 262h2v2h-2zM880 262h2v2h-2zM883 262h2v2h-2zM893 262h2v2h-2zM908 262h2v2h-2zM913 262h2v2h-2zM883 263h2v2h-2zM891 263h2v2h-2zM906 263h2v2h-2zM908 263h2v2h-2zM911 263h2v2h-2zM873 264h2v2h-2zM878 264h2v2h-2zM881 264h2v2h-2zM893 264h2v2h-2zM896 264h2v2h-2zM900 264h2v2h-2zM902 264h2v2h-2zM906 264h2v2h-2zM891 265h2v2h-2zM896 265h2v2h-2zM903 265h2v2h-2zM904 265h2v2h-2zM916 265h2v2h-2zM873 266h2v2h-2zM884 266h2v2h-2zM900 266h2v2h-2zM890 267h2v2h-2zM892 267h2v2h-2zM896 267h2v2h-2zM897 267h2v2h-2zM898 267h2v2h-2zM903 267h2v2h-2zM926 267h2v2h-2zM855 268h2v2h-2zM888 268h2v2h-2zM898 268h2v2h-2zM900 268h2v2h-2zM902 268h2v2h-2zM925 268h2v2h-2zM928 268h2v2h-2zM867 269h2v2h-2zM896 269h2v2h-2zM899 269h2v2h-2zM926 269h2v2h-2zM928 269h2v2h-2zM861 270h2v2h-2zM873 270h2v2h-2zM889 270h2v2h-2zM903 270h2v2h-2zM906 270h2v2h-2zM908 270h2v2h-2zM911 270h2v2h-2zM914 270h2v2h-2zM916 270h2v2h-2zM917 270h2v2h-2zM918 270h2v2h-2zM925 270h2v2h-2zM939 270h2v2h-2zM862 271h2v2h-2zM863 271h2v2h-2zM877 271h2v2h-2zM879 271h2v2h-2zM899 271h2v2h-2zM900 271h2v2h-2zM904 271h2v2h-2zM906 271h2v2h-2zM911 271h2v2h-2zM913 271h2v2h-2zM916 271h2v2h-2zM938 271h2v2h-2zM873 272h2v2h-2zM874 272h2v2h-2zM895 272h2v2h-2zM901 272h2v2h-2zM908 272h2v2h-2zM912 272h2v2h-2zM926 272h2v2h-2zM927 272h2v2h-2zM937 272h2v2h-2zM940 272h2v2h-2zM861 273h2v2h-2zM871 273h2v2h-2zM875 273h2v2h-2zM876 273h2v2h-2zM877 273h2v2h-2zM892 273h2v2h-2zM896 273h2v2h-2zM897 273h2v2h-2zM901 273h2v2h-2zM905 273h2v2h-2zM911 273h2v2h-2zM936 273h2v2h-2zM938 273h2v2h-2zM872 274h2v2h-2zM893 274h2v2h-2zM903 274h2v2h-2zM906 274h2v2h-2zM907 274h2v2h-2zM910 274h2v2h-2zM913 274h2v2h-2zM925 274h2v2h-2zM891 275h2v2h-2zM894 275h2v2h-2zM896 275h2v2h-2zM912 275h2v2h-2zM931 275h2v2h-2zM933 275h2v2h-2zM896 276h2v2h-2zM902 276h2v2h-2zM903 276h2v2h-2zM908 276h2v2h-2zM910 276h2v2h-2zM932 276h2v2h-2zM850 277h2v2h-2zM851 277h2v2h-2zM867 277h2v2h-2zM888 277h2v2h-2zM906 277h2v2h-2zM909 277h2v2h-2zM915 277h2v2h-2zM916 277h2v2h-2zM933 277h2v2h-2zM867 278h2v2h-2zM877 278h2v2h-2zM897 278h2v2h-2zM903 278h2v2h-2zM915 278h2v2h-2zM933 278h2v2h-2zM876 279h2v2h-2zM878 279h2v2h-2zM880 279h2v2h-2zM890 279h2v2h-2zM897 279h2v2h-2zM905 279h2v2h-2zM915 279h2v2h-2zM926 279h2v2h-2zM928 279h2v2h-2zM929 279h2v2h-2zM931 279h2v2h-2zM860 280h2v2h-2zM865 280h2v2h-2zM869 280h2v2h-2zM875 280h2v2h-2zM879 280h2v2h-2zM884 280h2v2h-2zM888 280h2v2h-2zM890 280h2v2h-2zM893 280h2v2h-2zM895 280h2v2h-2zM897 280h2v2h-2zM899 280h2v2h-2zM907 280h2v2h-2zM910 280h2v2h-2zM917 280h2v2h-2zM919 280h2v2h-2zM929 280h2v2h-2zM858 281h2v2h-2zM862 281h2v2h-2zM864 281h2v2h-2zM867 281h2v2h-2zM871 281h2v2h-2zM874 281h2v2h-2zM885 281h2v2h-2zM890 281h2v2h-2zM893 281h2v2h-2zM896 281h2v2h-2zM905 281h2v2h-2zM906 281h2v2h-2zM908 281h2v2h-2zM912 281h2v2h-2zM915 281h2v2h-2zM926 281h2v2h-2zM930 281h2v2h-2zM860 282h2v2h-2zM862 282h2v2h-2zM867 282h2v2h-2zM872 282h2v2h-2zM885 282h2v2h-2zM892 282h2v2h-2zM895 282h2v2h-2zM913 282h2v2h-2zM917 282h2v2h-2zM928 282h2v2h-2zM870 283h2v2h-2zM893 283h2v2h-2zM906 283h2v2h-2zM909 283h2v2h-2zM912 283h2v2h-2zM916 283h2v2h-2zM870 284h2v2h-2zM897 284h2v2h-2zM908 284h2v2h-2zM926 284h2v2h-2zM852 285h2v2h-2zM869 285h2v2h-2zM912 285h2v2h-2zM916 285h2v2h-2zM918 285h2v2h-2zM925 285h2v2h-2zM878 286h2v2h-2zM886 286h2v2h-2zM888 286h2v2h-2zM895 286h2v2h-2zM896 286h2v2h-2zM903 286h2v2h-2zM910 286h2v2h-2zM913 286h2v2h-2zM926 286h2v2h-2zM862 287h2v2h-2zM864 287h2v2h-2zM867 287h2v2h-2zM883 287h2v2h-2zM884 287h2v2h-2zM888 287h2v2h-2zM904 287h2v2h-2zM913 287h2v2h-2zM915 287h2v2h-2zM916 287h2v2h-2zM861 288h2v2h-2zM886 288h2v2h-2zM894 288h2v2h-2zM915 288h2v2h-2zM920 288h2v2h-2zM922 288h2v2h-2zM866 289h2v2h-2zM874 289h2v2h-2zM881 289h2v2h-2zM883 289h2v2h-2zM900 289h2v2h-2zM901 289h2v2h-2zM922 289h2v2h-2zM924 289h2v2h-2zM925 289h2v2h-2zM863 290h2v2h-2zM869 290h2v2h-2zM883 290h2v2h-2zM896 290h2v2h-2zM897 290h2v2h-2zM919 290h2v2h-2zM867 291h2v2h-2zM882 291h2v2h-2zM898 291h2v2h-2zM901 291h2v2h-2zM922 291h2v2h-2zM924 291h2v2h-2zM883 292h2v2h-2zM895 292h2v2h-2zM912 292h2v2h-2zM918 292h2v2h-2zM920 292h2v2h-2zM921 292h2v2h-2zM866 293h2v2h-2zM897 293h2v2h-2zM902 293h2v2h-2zM903 293h2v2h-2zM911 293h2v2h-2zM882 294h2v2h-2zM888 294h2v2h-2zM896 294h2v2h-2zM900 294h2v2h-2zM902 294h2v2h-2zM904 294h2v2h-2zM912 294h2v2h-2zM914 294h2v2h-2zM920 294h2v2h-2zM872 295h2v2h-2zM887 295h2v2h-2zM896 295h2v2h-2zM901 295h2v2h-2zM909 295h2v2h-2zM874 296h2v2h-2zM889 296h2v2h-2zM894 296h2v2h-2zM900 296h2v2h-2zM901 296h2v2h-2zM903 296h2v2h-2zM907 296h2v2h-2zM911 296h2v2h-2zM922 296h2v2h-2zM866 297h2v2h-2zM873 297h2v2h-2zM908 297h2v2h-2zM872 298h2v2h-2zM892 298h2v2h-2zM899 298h2v2h-2zM900 298h2v2h-2zM905 298h2v2h-2zM907 298h2v2h-2zM909 298h2v2h-2zM911 298h2v2h-2zM873 299h2v2h-2zM893 299h2v2h-2zM909 299h2v2h-2zM911 299h2v2h-2zM870 300h2v2h-2zM882 300h2v2h-2zM883 300h2v2h-2zM892 300h2v2h-2zM893 300h2v2h-2zM895 300h2v2h-2zM897 300h2v2h-2zM901 300h2v2h-2zM882 301h2v2h-2zM884 301h2v2h-2zM905 301h2v2h-2zM906 301h2v2h-2zM909 301h2v2h-2zM874 302h2v2h-2zM889 302h2v2h-2zM901 302h2v2h-2zM907 302h2v2h-2zM882 303h2v2h-2zM898 303h2v2h-2zM904 303h2v2h-2zM899 304h2v2h-2zM906 304h2v2h-2zM909 304h2v2h-2zM882 305h2v2h-2zM886 305h2v2h-2zM891 305h2v2h-2zM893 305h2v2h-2zM898 305h2v2h-2zM903 305h2v2h-2zM908 305h2v2h-2zM870 306h2v2h-2zM872 306h2v2h-2zM884 306h2v2h-2zM910 306h2v2h-2zM916 306h2v2h-2zM917 306h2v2h-2zM881 307h2v2h-2zM884 307h2v2h-2zM886 307h2v2h-2zM892 307h2v2h-2zM915 307h2v2h-2zM886 308h2v2h-2zM918 308h2v2h-2zM853 309h2v2h-2zM852 310h2v2h-2zM874 310h2v2h-2zM916 310h2v2h-2zM851 311h2v2h-2zM876 311h2v2h-2zM875 312h2v2h-2zM877 313h2v2h-2zM888 313h2v2h-2zM876 315h2v2h-2zM877 315h2v2h-2zM911 315h2v2h-2zM876 316h2v2h-2zM878 316h2v2h-2zM880 316h2v2h-2zM863 317h2v2h-2zM893 317h2v2h-2zM878 318h2v2h-2zM894 318h2v2h-2zM863 319h2v2h-2zM879 319h2v2h-2zM880 319h2v2h-2zM877 320h2v2h-2zM876 321h2v2h-2zM877 324h2v2h-2zM881 324h2v2h-2zM893 324h2v2h-2zM862 325h2v2h-2zM863 325h2v2h-2zM892 325h2v2h-2zM894 325h2v2h-2zM835 326h2v2h-2zM861 326h2v2h-2zM862 326h2v2h-2zM879 326h2v2h-2zM894 327h2v2h-2zM872 329h2v2h-2zM836 331h2v2h-2zM834 332h2v2h-2zM835 333h2v2h-2zM869 333h2v2h-2zM877 333h2v2h-2zM867 335h2v2h-2zM875 335h2v2h-2zM834 336h2v2h-2zM845 336h2v2h-2zM873 336h2v2h-2zM824 337h2v2h-2zM832 338h2v2h-2zM834 338h2v2h-2zM836 338h2v2h-2zM844 338h2v2h-2zM845 338h2v2h-2zM822 339h2v2h-2zM823 339h2v2h-2zM836 339h2v2h-2zM839 339h2v2h-2zM842 339h2v2h-2zM844 339h2v2h-2zM835 340h2v2h-2zM837 340h2v2h-2zM836 341h2v2h-2zM840 341h2v2h-2zM841 341h2v2h-2zM833 342h2v2h-2zM836 342h2v2h-2zM858 342h2v2h-2zM859 342h2v2h-2zM835 343h2v2h-2zM835 344h2v2h-2zM859 344h2v2h-2zM860 344h2v2h-2zM866 344h2v2h-2zM888 344h2v2h-2zM835 345h2v2h-2zM837 345h2v2h-2zM862 345h2v2h-2zM864 345h2v2h-2zM848 346h2v2h-2zM860 346h2v2h-2zM861 346h2v2h-2zM865 346h2v2h-2zM888 346h2v2h-2zM826 347h2v2h-2zM837 347h2v2h-2zM828 348h2v2h-2zM836 348h2v2h-2zM848 348h2v2h-2zM849 348h2v2h-2zM884 348h2v2h-2zM833 349h2v2h-2zM834 349h2v2h-2zM837 349h2v2h-2zM850 349h2v2h-2zM852 349h2v2h-2zM872 349h2v2h-2zM827 350h2v2h-2zM836 350h2v2h-2zM850 350h2v2h-2zM852 350h2v2h-2zM871 350h2v2h-2zM885 350h2v2h-2zM886 350h2v2h-2zM833 351h2v2h-2zM834 351h2v2h-2zM849 351h2v2h-2zM862 351h2v2h-2zM864 351h2v2h-2zM866 351h2v2h-2zM867 351h2v2h-2zM872 351h2v2h-2zM836 352h2v2h-2zM838 352h2v2h-2zM839 352h2v2h-2zM858 352h2v2h-2zM859 352h2v2h-2zM860 352h2v2h-2zM867 352h2v2h-2zM850 353h2v2h-2zM863 353h2v2h-2zM866 353h2v2h-2zM834 354h2v2h-2zM835 354h2v2h-2zM852 354h2v2h-2zM856 354h2v2h-2zM861 354h2v2h-2zM833 355h2v2h-2zM835 355h2v2h-2zM846 355h2v2h-2zM853 355h2v2h-2zM858 355h2v2h-2zM860 355h2v2h-2zM865 355h2v2h-2zM817 356h2v2h-2zM849 356h2v2h-2zM852 356h2v2h-2zM853 356h2v2h-2zM857 356h2v2h-2zM862 356h2v2h-2zM863 356h2v2h-2zM833 357h2v2h-2zM859 357h2v2h-2zM866 357h2v2h-2zM878 357h2v2h-2zM844 358h2v2h-2zM847 358h2v2h-2zM849 358h2v2h-2zM855 358h2v2h-2zM866 358h2v2h-2zM878 358h2v2h-2zM895 358h2v2h-2zM896 358h2v2h-2zM897 358h2v2h-2zM832 359h2v2h-2zM846 359h2v2h-2zM853 359h2v2h-2zM864 359h2v2h-2zM880 359h2v2h-2zM837 360h2v2h-2zM842 360h2v2h-2zM843 360h2v2h-2zM844 360h2v2h-2zM848 360h2v2h-2zM854 360h2v2h-2zM895 360h2v2h-2zM819 361h2v2h-2zM825 361h2v2h-2zM837 361h2v2h-2zM838 361h2v2h-2zM846 361h2v2h-2zM850 361h2v2h-2zM856 361h2v2h-2zM821 362h2v2h-2zM827 362h2v2h-2zM829 362h2v2h-2zM839 362h2v2h-2zM842 362h2v2h-2zM847 362h2v2h-2zM855 362h2v2h-2zM859 362h2v2h-2zM818 363h2v2h-2zM820 363h2v2h-2zM821 363h2v2h-2zM825 363h2v2h-2zM827 363h2v2h-2zM836 363h2v2h-2zM846 363h2v2h-2zM848 363h2v2h-2zM851 363h2v2h-2zM854 363h2v2h-2zM856 363h2v2h-2zM820 364h2v2h-2zM830 364h2v2h-2zM841 364h2v2h-2zM852 364h2v2h-2zM871 364h2v2h-2zM819 365h2v2h-2zM821 365h2v2h-2zM831 365h2v2h-2zM839 365h2v2h-2zM845 365h2v2h-2zM846 365h2v2h-2zM849 365h2v2h-2zM868 365h2v2h-2zM828 366h2v2h-2zM831 366h2v2h-2zM839 366h2v2h-2zM844 366h2v2h-2zM848 366h2v2h-2zM854 366h2v2h-2zM858 366h2v2h-2zM869 366h2v2h-2zM870 366h2v2h-2zM847 367h2v2h-2zM858 367h2v2h-2zM869 367h2v2h-2zM824 368h2v2h-2zM827 368h2v2h-2zM844 368h2v2h-2zM845 368h2v2h-2zM847 368h2v2h-2zM851 368h2v2h-2zM860 368h2v2h-2zM863 368h2v2h-2zM869 368h2v2h-2zM822 369h2v2h-2zM824 369h2v2h-2zM830 369h2v2h-2zM843 369h2v2h-2zM856 369h2v2h-2zM863 369h2v2h-2zM837 370h2v2h-2zM847 370h2v2h-2zM857 370h2v2h-2zM861 370h2v2h-2zM816 371h2v2h-2zM824 371h2v2h-2zM852 371h2v2h-2zM855 371h2v2h-2zM860 371h2v2h-2zM864 371h2v2h-2zM865 371h2v2h-2zM866 371h2v2h-2zM874 371h2v2h-2zM861 372h2v2h-2zM870 372h2v2h-2zM816 373h2v2h-2zM817 373h2v2h-2zM824 373h2v2h-2zM835 373h2v2h-2zM853 373h2v2h-2zM858 373h2v2h-2zM864 373h2v2h-2zM818 374h2v2h-2zM825 374h2v2h-2zM826 374h2v2h-2zM844 374h2v2h-2zM856 374h2v2h-2zM814 375h2v2h-2zM815 375h2v2h-2zM834 375h2v2h-2zM856 375h2v2h-2zM883 375h2v2h-2zM817 376h2v2h-2zM827 376h2v2h-2zM833 376h2v2h-2zM835 376h2v2h-2zM839 376h2v2h-2zM884 376h2v2h-2zM813 377h2v2h-2zM814 377h2v2h-2zM843 377h2v2h-2zM850 377h2v2h-2zM854 377h2v2h-2zM857 377h2v2h-2zM859 377h2v2h-2zM862 377h2v2h-2zM871 377h2v2h-2zM816 378h2v2h-2zM817 378h2v2h-2zM820 378h2v2h-2zM841 378h2v2h-2zM856 378h2v2h-2zM863 378h2v2h-2zM872 379h2v2h-2zM873 379h2v2h-2zM818 380h2v2h-2zM855 380h2v2h-2zM863 380h2v2h-2zM823 381h2v2h-2zM831 381h2v2h-2zM850 381h2v2h-2zM874 381h2v2h-2zM876 381h2v2h-2zM824 382h2v2h-2zM825 382h2v2h-2zM821 383h2v2h-2zM827 383h2v2h-2zM860 383h2v2h-2zM863 383h2v2h-2zM874 383h2v2h-2zM816 384h2v2h-2zM820 384h2v2h-2zM825 384h2v2h-2zM826 384h2v2h-2zM862 384h2v2h-2zM868 384h2v2h-2zM869 384h2v2h-2zM813 385h2v2h-2zM816 385h2v2h-2zM820 385h2v2h-2zM861 385h2v2h-2zM865 385h2v2h-2zM866 385h2v2h-2zM814 386h2v2h-2zM818 386h2v2h-2zM819 386h2v2h-2zM820 386h2v2h-2zM825 386h2v2h-2zM859 386h2v2h-2zM860 386h2v2h-2zM863 386h2v2h-2zM868 386h2v2h-2zM814 387h2v2h-2zM824 387h2v2h-2zM826 387h2v2h-2zM858 387h2v2h-2zM860 387h2v2h-2zM862 387h2v2h-2zM864 387h2v2h-2zM867 387h2v2h-2zM815 388h2v2h-2zM819 388h2v2h-2zM823 388h2v2h-2zM856 388h2v2h-2zM862 388h2v2h-2zM825 389h2v2h-2zM856 389h2v2h-2zM863 389h2v2h-2zM867 389h2v2h-2zM818 390h2v2h-2zM827 390h2v2h-2zM868 390h2v2h-2zM817 391h2v2h-2zM861 391h2v2h-2zM866 391h2v2h-2zM819 392h2v2h-2zM828 392h2v2h-2zM830 392h2v2h-2zM866 392h2v2h-2zM817 393h2v2h-2zM863 393h2v2h-2zM813 394h2v2h-2zM823 394h2v2h-2zM826 394h2v2h-2zM845 394h2v2h-2zM857 394h2v2h-2zM815 395h2v2h-2zM826 395h2v2h-2zM861 395h2v2h-2zM818 396h2v2h-2zM857 396h2v2h-2zM860 396h2v2h-2zM862 396h2v2h-2zM817 397h2v2h-2zM837 397h2v2h-2zM865 397h2v2h-2zM817 398h2v2h-2zM820 398h2v2h-2zM822 398h2v2h-2zM825 398h2v2h-2zM827 398h2v2h-2zM836 398h2v2h-2zM856 398h2v2h-2zM860 398h2v2h-2zM819 399h2v2h-2zM823 399h2v2h-2zM866 399h2v2h-2zM867 399h2v2h-2zM822 400h2v2h-2zM832 400h2v2h-2zM856 400h2v2h-2zM860 400h2v2h-2zM868 400h2v2h-2zM818 401h2v2h-2zM843 401h2v2h-2zM860 401h2v2h-2zM867 401h2v2h-2zM868 401h2v2h-2zM818 402h2v2h-2zM820 402h2v2h-2zM821 402h2v2h-2zM822 402h2v2h-2zM835 402h2v2h-2zM853 402h2v2h-2zM861 402h2v2h-2zM863 402h2v2h-2zM818 403h2v2h-2zM823 403h2v2h-2zM842 403h2v2h-2zM852 403h2v2h-2zM860 403h2v2h-2zM819 404h2v2h-2zM820 404h2v2h-2zM833 404h2v2h-2zM834 404h2v2h-2zM850 404h2v2h-2zM856 404h2v2h-2zM817 405h2v2h-2zM824 405h2v2h-2zM826 405h2v2h-2zM832 405h2v2h-2zM841 405h2v2h-2zM842 405h2v2h-2zM844 405h2v2h-2zM856 405h2v2h-2zM859 405h2v2h-2zM865 405h2v2h-2zM826 406h2v2h-2zM831 406h2v2h-2zM839 406h2v2h-2zM849 406h2v2h-2zM850 406h2v2h-2zM853 406h2v2h-2zM856 406h2v2h-2zM860 406h2v2h-2zM862 406h2v2h-2zM863 406h2v2h-2zM821 407h2v2h-2zM823 407h2v2h-2zM826 407h2v2h-2zM828 407h2v2h-2zM857 407h2v2h-2zM858 407h2v2h-2zM821 408h2v2h-2zM862 408h2v2h-2zM828 409h2v2h-2zM835 409h2v2h-2zM838 409h2v2h-2zM858 409h2v2h-2zM859 409h2v2h-2zM820 410h2v2h-2zM832 410h2v2h-2zM837 410h2v2h-2zM838 410h2v2h-2zM845 410h2v2h-2zM851 410h2v2h-2zM820 411h2v2h-2zM822 411h2v2h-2zM835 411h2v2h-2zM839 411h2v2h-2zM844 411h2v2h-2zM857 411h2v2h-2zM824 412h2v2h-2zM830 412h2v2h-2zM831 412h2v2h-2zM833 412h2v2h-2zM838 412h2v2h-2zM840 412h2v2h-2zM841 412h2v2h-2zM850 412h2v2h-2zM822 413h2v2h-2zM829 413h2v2h-2zM832 413h2v2h-2zM837 413h2v2h-2zM852 413h2v2h-2zM857 413h2v2h-2zM837 414h2v2h-2zM838 414h2v2h-2zM840 414h2v2h-2zM851 414h2v2h-2zM831 415h2v2h-2zM834 415h2v2h-2zM835 415h2v2h-2zM852 415h2v2h-2zM855 415h2v2h-2zM832 416h2v2h-2zM836 416h2v2h-2zM840 416h2v2h-2zM842 416h2v2h-2zM854 416h2v2h-2zM856 416h2v2h-2zM838 417h2v2h-2zM839 417h2v2h-2zM841 417h2v2h-2zM854 417h2v2h-2zM832 418h2v2h-2zM834 418h2v2h-2zM835 418h2v2h-2zM837 418h2v2h-2zM843 419h2v2h-2zM844 419h2v2h-2zM845 419h2v2h-2zM846 420h2v2h-2zM835 421h2v2h-2zM823 422h2v2h-2zM833 422h2v2h-2zM822 424h2v2h-2z"/>
<path fill="#70dcff" d="M286 175h2v2h-2zM288 176h2v2h-2zM282 180h2v2h-2zM302 181h2v2h-2zM284 183h2v2h-2zM284 184h2v2h-2zM290 184h2v2h-2zM291 185h2v2h-2zM271 186h2v2h-2zM283 186h2v2h-2zM291 186h2v2h-2zM293 186h2v2h-2zM297 186h2v2h-2zM286 187h2v2h-2zM294 187h2v2h-2zM287 188h2v2h-2zM296 188h2v2h-2zM297 188h2v2h-2zM303 188h2v2h-2zM307 188h2v2h-2zM325 188h2v2h-2zM266 189h2v2h-2zM267 189h2v2h-2zM293 189h2v2h-2zM314 189h2v2h-2zM320 189h2v2h-2zM280 190h2v2h-2zM303 190h2v2h-2zM305 190h2v2h-2zM311 190h2v2h-2zM291 191h2v2h-2zM299 191h2v2h-2zM305 191h2v2h-2zM287 192h2v2h-2zM312 192h2v2h-2zM313 192h2v2h-2zM285 193h2v2h-2zM311 193h2v2h-2zM267 194h2v2h-2zM285 194h2v2h-2zM287 194h2v2h-2zM267 195h2v2h-2zM278 195h2v2h-2zM305 195h2v2h-2zM307 195h2v2h-2zM311 195h2v2h-2zM273 196h2v2h-2zM312 196h2v2h-2zM314 196h2v2h-2zM303 197h2v2h-2zM315 197h2v2h-2zM302 198h2v2h-2zM324 199h2v2h-2zM274 200h2v2h-2zM316 200h2v2h-2zM323 200h2v2h-2zM324 200h2v2h-2zM258 201h2v2h-2zM267 201h2v2h-2zM258 202h2v2h-2zM268 202h2v2h-2zM269 202h2v2h-2zM307 203h2v2h-2zM311 203h2v2h-2zM302 204h2v2h-2zM314 204h2v2h-2zM253 206h2v2h-2zM266 206h2v2h-2zM316 206h2v2h-2zM253 207h2v2h-2zM259 207h2v2h-2zM308 208h2v2h-2zM309 208h2v2h-2zM318 208h2v2h-2zM262 211h2v2h-2zM268 211h2v2h-2zM269 211h2v2h-2zM301 211h2v2h-2zM303 211h2v2h-2zM312 211h2v2h-2zM314 211h2v2h-2zM244 212h2v2h-2zM260 212h2v2h-2zM313 212h2v2h-2zM244 213h2v2h-2zM245 213h2v2h-2zM246 213h2v2h-2zM255 213h2v2h-2zM261 213h2v2h-2zM293 213h2v2h-2zM256 214h2v2h-2zM246 215h2v2h-2zM255 215h2v2h-2zM305 215h2v2h-2zM255 216h2v2h-2zM256 216h2v2h-2zM257 216h2v2h-2zM302 216h2v2h-2zM306 216h2v2h-2zM307 216h2v2h-2zM308 216h2v2h-2zM255 217h2v2h-2zM301 217h2v2h-2zM308 217h2v2h-2zM241 218h2v2h-2zM258 218h2v2h-2zM300 218h2v2h-2zM240 219h2v2h-2zM241 219h2v2h-2zM249 219h2v2h-2zM255 219h2v2h-2zM259 219h2v2h-2zM260 219h2v2h-2zM308 219h2v2h-2zM263 220h2v2h-2zM252 221h2v2h-2zM261 221h2v2h-2zM269 221h2v2h-2zM287 221h2v2h-2zM291 221h2v2h-2zM298 221h2v2h-2zM259 222h2v2h-2zM262 222h2v2h-2zM268 222h2v2h-2zM290 222h2v2h-2zM291 222h2v2h-2zM298 222h2v2h-2zM304 222h2v2h-2zM294 224h2v2h-2zM299 224h2v2h-2zM305 224h2v2h-2zM256 226h2v2h-2zM263 226h2v2h-2zM297 226h2v2h-2zM299 226h2v2h-2zM301 226h2v2h-2zM261 227h2v2h-2zM270 227h2v2h-2zM292 227h2v2h-2zM298 227h2v2h-2zM300 227h2v2h-2zM303 227h2v2h-2zM272 228h2v2h-2zM257 229h2v2h-2zM255 230h2v2h-2zM250 231h2v2h-2zM252 231h2v2h-2zM280 231h2v2h-2zM297 231h2v2h-2zM269 232h2v2h-2zM268 233h2v2h-2zM270 233h2v2h-2zM280 233h2v2h-2zM288 233h2v2h-2zM290 233h2v2h-2zM303 233h2v2h-2zM272 234h2v2h-2zM265 235h2v2h-2zM266 235h2v2h-2zM273 235h2v2h-2zM274 235h2v2h-2zM280 235h2v2h-2zM288 235h2v2h-2zM298 235h2v2h-2zM268 236h2v2h-2zM279 236h2v2h-2zM305 236h2v2h-2zM256 237h2v2h-2zM280 237h2v2h-2zM250 238h2v2h-2zM260 238h2v2h-2zM262 238h2v2h-2zM266 238h2v2h-2zM257 239h2v2h-2zM260 239h2v2h-2zM264 239h2v2h-2zM287 239h2v2h-2zM288 239h2v2h-2zM265 240h2v2h-2zM277 240h2v2h-2zM248 241h2v2h-2zM251 241h2v2h-2zM277 241h2v2h-2zM257 242h2v2h-2zM262 242h2v2h-2zM272 242h2v2h-2zM275 242h2v2h-2zM282 242h2v2h-2zM264 243h2v2h-2zM269 243h2v2h-2zM285 243h2v2h-2zM290 243h2v2h-2zM258 245h2v2h-2zM248 248h2v2h-2zM260 248h2v2h-2zM263 249h2v2h-2zM254 250h2v2h-2zM255 250h2v2h-2zM257 250h2v2h-2zM258 250h2v2h-2zM276 250h2v2h-2zM277 250h2v2h-2zM262 251h2v2h-2zM278 251h2v2h-2zM234 252h2v2h-2zM254 252h2v2h-2zM260 252h2v2h-2zM272 252h2v2h-2zM273 252h2v2h-2zM271 253h2v2h-2zM287 253h2v2h-2zM238 254h2v2h-2zM260 254h2v2h-2zM238 255h2v2h-2zM249 255h2v2h-2zM259 255h2v2h-2zM290 255h2v2h-2zM289 256h2v2h-2zM291 256h2v2h-2zM299 256h2v2h-2zM274 258h2v2h-2zM290 258h2v2h-2zM252 259h2v2h-2zM253 259h2v2h-2zM263 259h2v2h-2zM264 259h2v2h-2zM275 259h2v2h-2zM280 259h2v2h-2zM246 260h2v2h-2zM264 260h2v2h-2zM275 260h2v2h-2zM256 261h2v2h-2zM260 261h2v2h-2zM264 261h2v2h-2zM255 262h2v2h-2zM262 262h2v2h-2zM266 262h2v2h-2zM251 263h2v2h-2zM267 263h2v2h-2zM279 263h2v2h-2zM261 264h2v2h-2zM264 264h2v2h-2zM254 265h2v2h-2zM268 265h2v2h-2zM251 266h2v2h-2zM238 267h2v2h-2zM287 267h2v2h-2zM253 268h2v2h-2zM263 268h2v2h-2zM271 268h2v2h-2zM273 269h2v2h-2zM241 270h2v2h-2zM253 270h2v2h-2zM261 270h2v2h-2zM264 270h2v2h-2zM267 270h2v2h-2zM271 270h2v2h-2zM273 271h2v2h-2zM282 271h2v2h-2zM281 272h2v2h-2zM254 273h2v2h-2zM263 273h2v2h-2zM266 273h2v2h-2zM267 273h2v2h-2zM280 273h2v2h-2zM234 274h2v2h-2zM249 274h2v2h-2zM250 274h2v2h-2zM259 274h2v2h-2zM267 274h2v2h-2zM271 274h2v2h-2zM286 274h2v2h-2zM261 275h2v2h-2zM253 276h2v2h-2zM270 277h2v2h-2zM257 278h2v2h-2zM258 278h2v2h-2zM265 278h2v2h-2zM268 279h2v2h-2zM290 282h2v2h-2zM234 283h2v2h-2zM235 283h2v2h-2zM251 285h2v2h-2zM234 287h2v2h-2zM244 288h2v2h-2zM244 290h2v2h-2zM245 293h2v2h-2zM222 294h2v2h-2zM257 295h2v2h-2zM240 296h2v2h-2zM225 299h2v2h-2zM254 300h2v2h-2zM248 302h2v2h-2zM226 303h2v2h-2zM230 307h2v2h-2zM249 307h2v2h-2zM258 307h2v2h-2zM236 309h2v2h-2zM236 310h2v2h-2zM224 311h2v2h-2zM229 311h2v2h-2zM254 311h2v2h-2zM257 311h2v2h-2zM224 312h2v2h-2zM250 314h2v2h-2zM260 314h2v2h-2zM235 315h2v2h-2zM223 319h2v2h-2zM242 320h2v2h-2zM259 320h2v2h-2zM244 321h2v2h-2zM228 322h2v2h-2zM236 322h2v2h-2zM237 322h2v2h-2zM255 326h2v2h-2zM201 334h2v2h-2zM242 336h2v2h-2zM242 337h2v2h-2zM219 340h2v2h-2zM226 342h2v2h-2zM230 342h2v2h-2zM220 346h2v2h-2zM215 347h2v2h-2zM221 347h2v2h-2zM232 347h2v2h-2zM224 348h2v2h-2zM230 349h2v2h-2zM237 349h2v2h-2zM201 350h2v2h-2zM213 350h2v2h-2zM215 350h2v2h-2zM247 350h2v2h-2zM238 351h2v2h-2zM212 352h2v2h-2zM218 352h2v2h-2zM227 352h2v2h-2zM207 353h2v2h-2zM230 353h2v2h-2zM235 353h2v2h-2zM226 354h2v2h-2zM230 354h2v2h-2zM236 354h2v2h-2zM218 355h2v2h-2zM229 356h2v2h-2zM239 356h2v2h-2zM233 357h2v2h-2zM234 357h2v2h-2zM239 357h2v2h-2zM202 359h2v2h-2zM205 359h2v2h-2zM226 359h2v2h-2zM204 360h2v2h-2zM200 361h2v2h-2zM221 361h2v2h-2zM235 362h2v2h-2zM222 363h2v2h-2zM218 364h2v2h-2zM218 365h2v2h-2zM225 365h2v2h-2zM204 366h2v2h-2zM208 366h2v2h-2zM226 366h2v2h-2zM228 366h2v2h-2zM209 367h2v2h-2zM214 367h2v2h-2zM218 367h2v2h-2zM218 368h2v2h-2zM222 368h2v2h-2zM227 368h2v2h-2zM235 368h2v2h-2zM204 369h2v2h-2zM215 369h2v2h-2zM221 369h2v2h-2zM229 369h2v2h-2zM215 370h2v2h-2zM217 370h2v2h-2zM224 370h2v2h-2zM228 371h2v2h-2zM229 371h2v2h-2zM228 372h2v2h-2zM198 373h2v2h-2zM205 373h2v2h-2zM211 373h2v2h-2zM224 373h2v2h-2zM230 373h2v2h-2zM208 374h2v2h-2zM210 374h2v2h-2zM224 374h2v2h-2zM201 375h2v2h-2zM209 375h2v2h-2zM235 375h2v2h-2zM199 376h2v2h-2zM206 376h2v2h-2zM208 376h2v2h-2zM224 376h2v2h-2zM230 376h2v2h-2zM234 376h2v2h-2zM206 377h2v2h-2zM215 377h2v2h-2zM225 377h2v2h-2zM228 377h2v2h-2zM199 378h2v2h-2zM200 378h2v2h-2zM202 378h2v2h-2zM206 378h2v2h-2zM210 378h2v2h-2zM222 378h2v2h-2zM226 378h2v2h-2zM217 379h2v2h-2zM223 379h2v2h-2zM202 380h2v2h-2zM207 380h2v2h-2zM230 380h2v2h-2zM239 380h2v2h-2zM210 381h2v2h-2zM197 382h2v2h-2zM198 382h2v2h-2zM199 382h2v2h-2zM203 382h2v2h-2zM217 382h2v2h-2zM230 384h2v2h-2zM217 385h2v2h-2zM233 385h2v2h-2zM236 385h2v2h-2zM204 386h2v2h-2zM230 386h2v2h-2zM232 387h2v2h-2zM236 387h2v2h-2zM204 389h2v2h-2zM224 389h2v2h-2zM235 389h2v2h-2zM205 390h2v2h-2zM223 390h2v2h-2zM228 390h2v2h-2zM231 390h2v2h-2zM234 390h2v2h-2zM206 391h2v2h-2zM229 391h2v2h-2zM233 391h2v2h-2zM234 391h2v2h-2zM237 391h2v2h-2zM207 392h2v2h-2zM203 393h2v2h-2zM219 393h2v2h-2zM192 394h2v2h-2zM197 394h2v2h-2zM207 394h2v2h-2zM222 394h2v2h-2zM222 395h2v2h-2zM225 395h2v2h-2zM231 395h2v2h-2zM204 396h2v2h-2zM225 396h2v2h-2zM199 397h2v2h-2zM227 397h2v2h-2zM229 397h2v2h-2zM199 398h2v2h-2zM200 398h2v2h-2zM209 399h2v2h-2zM210 400h2v2h-2zM233 401h2v2h-2zM210 402h2v2h-2zM232 402h2v2h-2zM202 403h2v2h-2zM224 405h2v2h-2zM209 406h2v2h-2zM205 408h2v2h-2zM206 409h2v2h-2zM215 409h2v2h-2zM209 410h2v2h-2zM212 410h2v2h-2zM220 410h2v2h-2zM228 410h2v2h-2zM213 412h2v2h-2zM224 412h2v2h-2zM208 413h2v2h-2zM223 413h2v2h-2zM212 414h2v2h-2zM211 415h2v2h-2zM212 415h2v2h-2zM216 415h2v2h-2zM225 415h2v2h-2zM230 416h2v2h-2zM231 417h2v2h-2zM212 418h2v2h-2zM234 419h2v2h-2zM209 422h2v2h-2zM215 424h2v2h-2zM215 425h2v2h-2zM216 425h2v2h-2zM216 426h2v2h-2zM214 429h2v2h-2zM214 430h2v2h-2zM209 436h2v2h-2zM224 437h2v2h-2zM963 175h2v2h-2zM962 176h2v2h-2zM975 177h2v2h-2zM951 178h2v2h-2zM957 180h2v2h-2zM966 181h2v2h-2zM984 182h2v2h-2zM983 183h2v2h-2zM942 184h2v2h-2zM950 184h2v2h-2zM951 184h2v2h-2zM960 184h2v2h-2zM967 184h2v2h-2zM968 184h2v2h-2zM969 184h2v2h-2zM971 184h2v2h-2zM975 184h2v2h-2zM976 184h2v2h-2zM986 184h2v2h-2zM963 185h2v2h-2zM968 185h2v2h-2zM943 186h2v2h-2zM947 186h2v2h-2zM952 186h2v2h-2zM954 186h2v2h-2zM957 186h2v2h-2zM967 186h2v2h-2zM969 186h2v2h-2zM971 186h2v2h-2zM974 186h2v2h-2zM975 186h2v2h-2zM954 187h2v2h-2zM956 187h2v2h-2zM957 187h2v2h-2zM960 187h2v2h-2zM975 188h2v2h-2zM976 188h2v2h-2zM937 189h2v2h-2zM950 189h2v2h-2zM961 189h2v2h-2zM977 189h2v2h-2zM1004 189h2v2h-2zM933 190h2v2h-2zM946 190h2v2h-2zM956 190h2v2h-2zM965 190h2v2h-2zM1003 190h2v2h-2zM933 191h2v2h-2zM936 191h2v2h-2zM944 191h2v2h-2zM955 191h2v2h-2zM976 191h2v2h-2zM978 191h2v2h-2zM931 192h2v2h-2zM933 192h2v2h-2zM934 192h2v2h-2zM954 192h2v2h-2zM956 192h2v2h-2zM957 192h2v2h-2zM959 192h2v2h-2zM966 192h2v2h-2zM971 192h2v2h-2zM978 192h2v2h-2zM979 192h2v2h-2zM952 193h2v2h-2zM965 193h2v2h-2zM963 194h2v2h-2zM984 194h2v2h-2zM932 195h2v2h-2zM983 195h2v2h-2zM923 196h2v2h-2zM983 196h2v2h-2zM987 196h2v2h-2zM922 197h2v2h-2zM931 197h2v2h-2zM965 197h2v2h-2zM966 197h2v2h-2zM970 197h2v2h-2zM933 198h2v2h-2zM935 199h2v2h-2zM940 199h2v2h-2zM942 199h2v2h-2zM965 199h2v2h-2zM966 199h2v2h-2zM967 199h2v2h-2zM925 200h2v2h-2zM962 200h2v2h-2zM973 200h2v2h-2zM918 201h2v2h-2zM931 201h2v2h-2zM975 201h2v2h-2zM921 202h2v2h-2zM924 202h2v2h-2zM928 203h2v2h-2zM930 203h2v2h-2zM977 203h2v2h-2zM917 204h2v2h-2zM925 204h2v2h-2zM926 204h2v2h-2zM975 204h2v2h-2zM978 204h2v2h-2zM915 205h2v2h-2zM918 205h2v2h-2zM928 205h2v2h-2zM967 205h2v2h-2zM970 205h2v2h-2zM926 206h2v2h-2zM960 206h2v2h-2zM975 206h2v2h-2zM979 206h2v2h-2zM912 207h2v2h-2zM966 207h2v2h-2zM975 207h2v2h-2zM981 208h2v2h-2zM994 208h2v2h-2zM921 209h2v2h-2zM922 209h2v2h-2zM966 209h2v2h-2zM969 210h2v2h-2zM920 211h2v2h-2zM921 211h2v2h-2zM981 211h2v2h-2zM985 211h2v2h-2zM986 211h2v2h-2zM901 212h2v2h-2zM906 212h2v2h-2zM914 212h2v2h-2zM927 212h2v2h-2zM928 212h2v2h-2zM961 212h2v2h-2zM973 212h2v2h-2zM986 212h2v2h-2zM900 213h2v2h-2zM963 213h2v2h-2zM1003 213h2v2h-2zM900 214h2v2h-2zM907 214h2v2h-2zM921 214h2v2h-2zM925 214h2v2h-2zM963 214h2v2h-2zM908 215h2v2h-2zM916 215h2v2h-2zM918 215h2v2h-2zM921 215h2v2h-2zM959 215h2v2h-2zM970 215h2v2h-2zM913 216h2v2h-2zM921 216h2v2h-2zM925 216h2v2h-2zM962 216h2v2h-2zM977 216h2v2h-2zM950 217h2v2h-2zM959 217h2v2h-2zM967 217h2v2h-2zM971 217h2v2h-2zM1014 217h2v2h-2zM961 218h2v2h-2zM878 219h2v2h-2zM897 219h2v2h-2zM921 219h2v2h-2zM920 220h2v2h-2zM929 220h2v2h-2zM931 220h2v2h-2zM955 220h2v2h-2zM963 220h2v2h-2zM969 220h2v2h-2zM912 221h2v2h-2zM921 221h2v2h-2zM930 221h2v2h-2zM922 222h2v2h-2zM930 222h2v2h-2zM950 222h2v2h-2zM952 222h2v2h-2zM954 222h2v2h-2zM914 223h2v2h-2zM920 223h2v2h-2zM921 223h2v2h-2zM922 223h2v2h-2zM924 223h2v2h-2zM928 223h2v2h-2zM935 223h2v2h-2zM970 223h2v2h-2zM906 224h2v2h-2zM913 224h2v2h-2zM924 224h2v2h-2zM931 224h2v2h-2zM944 224h2v2h-2zM949 224h2v2h-2zM951 224h2v2h-2zM902 225h2v2h-2zM911 225h2v2h-2zM932 225h2v2h-2zM937 225h2v2h-2zM942 225h2v2h-2zM955 225h2v2h-2zM922 226h2v2h-2zM925 226h2v2h-2zM929 226h2v2h-2zM941 226h2v2h-2zM942 226h2v2h-2zM945 226h2v2h-2zM922 227h2v2h-2zM949 227h2v2h-2zM955 227h2v2h-2zM905 228h2v2h-2zM919 228h2v2h-2zM926 228h2v2h-2zM935 228h2v2h-2zM939 228h2v2h-2zM942 228h2v2h-2zM955 228h2v2h-2zM920 229h2v2h-2zM937 229h2v2h-2zM904 230h2v2h-2zM909 230h2v2h-2zM918 230h2v2h-2zM930 230h2v2h-2zM933 230h2v2h-2zM938 230h2v2h-2zM947 230h2v2h-2zM893 231h2v2h-2zM934 231h2v2h-2zM907 232h2v2h-2zM914 232h2v2h-2zM918 232h2v2h-2zM927 232h2v2h-2zM931 232h2v2h-2zM934 232h2v2h-2zM935 232h2v2h-2zM938 232h2v2h-2zM926 233h2v2h-2zM927 233h2v2h-2zM956 233h2v2h-2zM895 234h2v2h-2zM922 234h2v2h-2zM929 234h2v2h-2zM935 234h2v2h-2zM932 235h2v2h-2zM936 235h2v2h-2zM937 235h2v2h-2zM956 235h2v2h-2zM892 236h2v2h-2zM908 236h2v2h-2zM909 236h2v2h-2zM931 236h2v2h-2zM938 236h2v2h-2zM919 237h2v2h-2zM933 237h2v2h-2zM939 237h2v2h-2zM949 237h2v2h-2zM950 237h2v2h-2zM880 238h2v2h-2zM891 238h2v2h-2zM896 238h2v2h-2zM949 238h2v2h-2zM927 239h2v2h-2zM928 239h2v2h-2zM920 240h2v2h-2zM921 240h2v2h-2zM929 240h2v2h-2zM896 241h2v2h-2zM904 241h2v2h-2zM905 241h2v2h-2zM934 241h2v2h-2zM904 242h2v2h-2zM905 242h2v2h-2zM917 242h2v2h-2zM928 242h2v2h-2zM905 244h2v2h-2zM930 244h2v2h-2zM931 244h2v2h-2zM929 246h2v2h-2zM919 247h2v2h-2zM930 247h2v2h-2zM908 248h2v2h-2zM916 248h2v2h-2zM925 248h2v2h-2zM903 249h2v2h-2zM907 249h2v2h-2zM908 249h2v2h-2zM921 249h2v2h-2zM927 249h2v2h-2zM918 250h2v2h-2zM902 251h2v2h-2zM906 251h2v2h-2zM919 251h2v2h-2zM896 252h2v2h-2zM898 252h2v2h-2zM900 252h2v2h-2zM914 252h2v2h-2zM928 253h2v2h-2zM900 255h2v2h-2zM901 258h2v2h-2zM915 258h2v2h-2zM912 259h2v2h-2zM917 259h2v2h-2zM883 260h2v2h-2zM916 260h2v2h-2zM917 260h2v2h-2zM930 260h2v2h-2zM873 261h2v2h-2zM874 261h2v2h-2zM913 261h2v2h-2zM918 261h2v2h-2zM895 263h2v2h-2zM905 263h2v2h-2zM920 264h2v2h-2zM921 264h2v2h-2zM875 265h2v2h-2zM893 265h2v2h-2zM900 265h2v2h-2zM906 265h2v2h-2zM921 265h2v2h-2zM886 267h2v2h-2zM917 267h2v2h-2zM918 267h2v2h-2zM889 268h2v2h-2zM866 269h2v2h-2zM874 269h2v2h-2zM903 269h2v2h-2zM907 269h2v2h-2zM909 270h2v2h-2zM861 271h2v2h-2zM872 271h2v2h-2zM918 271h2v2h-2zM875 272h2v2h-2zM941 272h2v2h-2zM926 273h2v2h-2zM860 274h2v2h-2zM898 274h2v2h-2zM872 275h2v2h-2zM909 275h2v2h-2zM910 275h2v2h-2zM890 276h2v2h-2zM891 276h2v2h-2zM911 276h2v2h-2zM928 276h2v2h-2zM907 277h2v2h-2zM928 277h2v2h-2zM868 278h2v2h-2zM891 278h2v2h-2zM905 278h2v2h-2zM911 278h2v2h-2zM930 278h2v2h-2zM869 279h2v2h-2zM874 279h2v2h-2zM911 279h2v2h-2zM898 280h2v2h-2zM900 280h2v2h-2zM903 280h2v2h-2zM866 282h2v2h-2zM920 282h2v2h-2zM914 283h2v2h-2zM893 284h2v2h-2zM920 284h2v2h-2zM892 285h2v2h-2zM894 285h2v2h-2zM902 285h2v2h-2zM885 286h2v2h-2zM894 286h2v2h-2zM899 286h2v2h-2zM900 286h2v2h-2zM925 286h2v2h-2zM900 287h2v2h-2zM911 287h2v2h-2zM918 287h2v2h-2zM925 287h2v2h-2zM862 288h2v2h-2zM865 288h2v2h-2zM876 288h2v2h-2zM901 288h2v2h-2zM918 288h2v2h-2zM919 288h2v2h-2zM924 288h2v2h-2zM862 289h2v2h-2zM876 289h2v2h-2zM923 291h2v2h-2zM900 292h2v2h-2zM883 293h2v2h-2zM880 294h2v2h-2zM897 294h2v2h-2zM921 294h2v2h-2zM881 295h2v2h-2zM920 295h2v2h-2zM921 295h2v2h-2zM871 299h2v2h-2zM895 299h2v2h-2zM900 300h2v2h-2zM882 302h2v2h-2zM886 303h2v2h-2zM884 304h2v2h-2zM852 309h2v2h-2zM846 311h2v2h-2zM882 312h2v2h-2zM878 315h2v2h-2zM848 321h2v2h-2zM892 326h2v2h-2zM917 338h2v2h-2zM842 341h2v2h-2zM870 342h2v2h-2zM864 347h2v2h-2zM865 347h2v2h-2zM837 348h2v2h-2zM850 348h2v2h-2zM826 349h2v2h-2zM818 350h2v2h-2zM865 352h2v2h-2zM886 352h2v2h-2zM846 353h2v2h-2zM838 354h2v2h-2zM839 354h2v2h-2zM849 354h2v2h-2zM851 354h2v2h-2zM864 356h2v2h-2zM863 358h2v2h-2zM844 359h2v2h-2zM849 359h2v2h-2zM851 359h2v2h-2zM825 360h2v2h-2zM835 360h2v2h-2zM847 360h2v2h-2zM852 361h2v2h-2zM853 361h2v2h-2zM857 361h2v2h-2zM858 361h2v2h-2zM818 362h2v2h-2zM833 362h2v2h-2zM840 362h2v2h-2zM857 362h2v2h-2zM831 363h2v2h-2zM834 363h2v2h-2zM825 364h2v2h-2zM837 364h2v2h-2zM842 364h2v2h-2zM843 364h2v2h-2zM856 364h2v2h-2zM837 365h2v2h-2zM850 365h2v2h-2zM852 365h2v2h-2zM857 365h2v2h-2zM871 365h2v2h-2zM830 366h2v2h-2zM841 366h2v2h-2zM850 366h2v2h-2zM852 366h2v2h-2zM848 367h2v2h-2zM851 367h2v2h-2zM856 367h2v2h-2zM826 368h2v2h-2zM833 368h2v2h-2zM839 368h2v2h-2zM841 368h2v2h-2zM855 368h2v2h-2zM825 369h2v2h-2zM852 369h2v2h-2zM858 369h2v2h-2zM824 370h2v2h-2zM826 370h2v2h-2zM831 370h2v2h-2zM841 370h2v2h-2zM842 370h2v2h-2zM844 370h2v2h-2zM846 370h2v2h-2zM849 370h2v2h-2zM851 370h2v2h-2zM859 370h2v2h-2zM869 370h2v2h-2zM870 370h2v2h-2zM827 371h2v2h-2zM833 371h2v2h-2zM850 371h2v2h-2zM861 371h2v2h-2zM824 372h2v2h-2zM834 372h2v2h-2zM836 372h2v2h-2zM847 372h2v2h-2zM857 372h2v2h-2zM864 372h2v2h-2zM855 374h2v2h-2zM828 375h2v2h-2zM853 375h2v2h-2zM842 376h2v2h-2zM861 376h2v2h-2zM818 377h2v2h-2zM828 377h2v2h-2zM837 377h2v2h-2zM852 377h2v2h-2zM818 378h2v2h-2zM821 378h2v2h-2zM836 378h2v2h-2zM851 378h2v2h-2zM857 378h2v2h-2zM850 379h2v2h-2zM855 379h2v2h-2zM862 379h2v2h-2zM832 380h2v2h-2zM839 380h2v2h-2zM858 380h2v2h-2zM859 380h2v2h-2zM837 381h2v2h-2zM828 382h2v2h-2zM830 382h2v2h-2zM838 382h2v2h-2zM861 382h2v2h-2zM836 383h2v2h-2zM838 383h2v2h-2zM857 383h2v2h-2zM821 384h2v2h-2zM822 384h2v2h-2zM839 384h2v2h-2zM851 384h2v2h-2zM822 386h2v2h-2zM824 386h2v2h-2zM856 386h2v2h-2zM852 387h2v2h-2zM816 388h2v2h-2zM851 388h2v2h-2zM816 389h2v2h-2zM837 390h2v2h-2zM832 391h2v2h-2zM859 391h2v2h-2zM813 392h2v2h-2zM820 392h2v2h-2zM854 392h2v2h-2zM859 392h2v2h-2zM865 392h2v2h-2zM819 393h2v2h-2zM842 393h2v2h-2zM858 393h2v2h-2zM853 394h2v2h-2zM862 394h2v2h-2zM864 395h2v2h-2zM821 396h2v2h-2zM822 396h2v2h-2zM859 396h2v2h-2zM828 397h2v2h-2zM835 397h2v2h-2zM852 397h2v2h-2zM819 398h2v2h-2zM850 398h2v2h-2zM830 399h2v2h-2zM843 399h2v2h-2zM858 399h2v2h-2zM860 399h2v2h-2zM834 400h2v2h-2zM853 400h2v2h-2zM854 400h2v2h-2zM858 400h2v2h-2zM863 400h2v2h-2zM866 400h2v2h-2zM831 401h2v2h-2zM834 401h2v2h-2zM842 401h2v2h-2zM851 401h2v2h-2zM859 401h2v2h-2zM864 401h2v2h-2zM836 403h2v2h-2zM850 403h2v2h-2zM857 403h2v2h-2zM842 404h2v2h-2zM857 404h2v2h-2zM865 404h2v2h-2zM830 406h2v2h-2zM838 406h2v2h-2zM842 406h2v2h-2zM827 407h2v2h-2zM829 407h2v2h-2zM853 407h2v2h-2zM854 407h2v2h-2zM861 407h2v2h-2zM830 408h2v2h-2zM849 408h2v2h-2zM854 408h2v2h-2zM857 408h2v2h-2zM821 409h2v2h-2zM822 409h2v2h-2zM831 410h2v2h-2zM843 410h2v2h-2zM846 410h2v2h-2zM849 410h2v2h-2zM819 412h2v2h-2zM819 413h2v2h-2zM850 413h2v2h-2zM832 414h2v2h-2zM832 417h2v2h-2zM833 421h2v2h-2zM834 421h2v2h-2z"/>
<path fill="#00f0a0" d="M289 177h2v2h-2zM300 181h2v2h-2zM296 183h2v2h-2zM291 184h2v2h-2zM294 184h2v2h-2zM296 184h2v2h-2zM297 184h2v2h-2zM284 185h2v2h-2zM292 185h2v2h-2zM296 185h2v2h-2zM300 185h2v2h-2zM284 186h2v2h-2zM302 186h2v2h-2zM303 186h2v2h-2zM295 187h2v2h-2zM300 188h2v2h-2zM302 188h2v2h-2zM314 188h2v2h-2zM306 189h2v2h-2zM312 189h2v2h-2zM313 189h2v2h-2zM300 190h2v2h-2zM306 190h2v2h-2zM282 191h2v2h-2zM288 191h2v2h-2zM294 191h2v2h-2zM295 191h2v2h-2zM300 191h2v2h-2zM320 191h2v2h-2zM274 192h2v2h-2zM283 192h2v2h-2zM295 192h2v2h-2zM316 192h2v2h-2zM269 193h2v2h-2zM271 193h2v2h-2zM277 193h2v2h-2zM299 193h2v2h-2zM315 193h2v2h-2zM297 194h2v2h-2zM276 195h2v2h-2zM277 196h2v2h-2zM279 196h2v2h-2zM284 196h2v2h-2zM295 196h2v2h-2zM303 196h2v2h-2zM311 196h2v2h-2zM300 197h2v2h-2zM307 197h2v2h-2zM314 197h2v2h-2zM271 198h2v2h-2zM281 198h2v2h-2zM312 198h2v2h-2zM265 199h2v2h-2zM273 199h2v2h-2zM274 199h2v2h-2zM309 199h2v2h-2zM314 199h2v2h-2zM304 200h2v2h-2zM306 200h2v2h-2zM314 200h2v2h-2zM309 201h2v2h-2zM266 202h2v2h-2zM271 202h2v2h-2zM297 202h2v2h-2zM261 203h2v2h-2zM303 203h2v2h-2zM320 203h2v2h-2zM309 204h2v2h-2zM304 205h2v2h-2zM307 205h2v2h-2zM309 205h2v2h-2zM304 206h2v2h-2zM307 206h2v2h-2zM274 207h2v2h-2zM276 207h2v2h-2zM307 207h2v2h-2zM309 207h2v2h-2zM313 207h2v2h-2zM316 207h2v2h-2zM318 207h2v2h-2zM297 208h2v2h-2zM312 208h2v2h-2zM301 209h2v2h-2zM312 209h2v2h-2zM313 209h2v2h-2zM314 209h2v2h-2zM316 209h2v2h-2zM260 211h2v2h-2zM313 211h2v2h-2zM306 212h2v2h-2zM321 212h2v2h-2zM267 213h2v2h-2zM303 213h2v2h-2zM307 213h2v2h-2zM302 214h2v2h-2zM303 214h2v2h-2zM306 214h2v2h-2zM300 216h2v2h-2zM309 216h2v2h-2zM310 216h2v2h-2zM240 217h2v2h-2zM241 217h2v2h-2zM257 217h2v2h-2zM262 217h2v2h-2zM263 217h2v2h-2zM302 217h2v2h-2zM256 218h2v2h-2zM266 218h2v2h-2zM268 218h2v2h-2zM301 218h2v2h-2zM309 218h2v2h-2zM257 219h2v2h-2zM267 219h2v2h-2zM309 219h2v2h-2zM251 220h2v2h-2zM261 220h2v2h-2zM268 220h2v2h-2zM257 221h2v2h-2zM262 221h2v2h-2zM273 221h2v2h-2zM264 222h2v2h-2zM288 222h2v2h-2zM299 222h2v2h-2zM266 223h2v2h-2zM269 223h2v2h-2zM270 223h2v2h-2zM281 223h2v2h-2zM285 223h2v2h-2zM287 223h2v2h-2zM292 223h2v2h-2zM295 223h2v2h-2zM280 224h2v2h-2zM305 225h2v2h-2zM258 226h2v2h-2zM303 226h2v2h-2zM260 227h2v2h-2zM268 227h2v2h-2zM287 227h2v2h-2zM258 228h2v2h-2zM270 228h2v2h-2zM271 228h2v2h-2zM274 228h2v2h-2zM283 228h2v2h-2zM287 228h2v2h-2zM244 229h2v2h-2zM261 229h2v2h-2zM262 229h2v2h-2zM277 229h2v2h-2zM279 229h2v2h-2zM280 229h2v2h-2zM262 230h2v2h-2zM268 230h2v2h-2zM281 230h2v2h-2zM282 230h2v2h-2zM287 230h2v2h-2zM256 231h2v2h-2zM261 231h2v2h-2zM262 231h2v2h-2zM281 231h2v2h-2zM262 232h2v2h-2zM264 233h2v2h-2zM286 233h2v2h-2zM289 233h2v2h-2zM244 234h2v2h-2zM253 234h2v2h-2zM267 234h2v2h-2zM280 234h2v2h-2zM253 235h2v2h-2zM254 235h2v2h-2zM299 235h2v2h-2zM256 236h2v2h-2zM266 236h2v2h-2zM271 236h2v2h-2zM304 236h2v2h-2zM255 237h2v2h-2zM272 237h2v2h-2zM283 237h2v2h-2zM265 238h2v2h-2zM256 240h2v2h-2zM267 240h2v2h-2zM273 240h2v2h-2zM254 241h2v2h-2zM255 241h2v2h-2zM267 241h2v2h-2zM268 241h2v2h-2zM276 241h2v2h-2zM280 241h2v2h-2zM259 242h2v2h-2zM260 242h2v2h-2zM268 242h2v2h-2zM278 242h2v2h-2zM256 243h2v2h-2zM289 243h2v2h-2zM265 244h2v2h-2zM266 244h2v2h-2zM276 244h2v2h-2zM278 246h2v2h-2zM277 247h2v2h-2zM281 248h2v2h-2zM307 249h2v2h-2zM261 253h2v2h-2zM262 254h2v2h-2zM274 254h2v2h-2zM260 255h2v2h-2zM260 256h2v2h-2zM252 257h2v2h-2zM253 257h2v2h-2zM259 257h2v2h-2zM242 260h2v2h-2zM262 261h2v2h-2zM263 262h2v2h-2zM282 262h2v2h-2zM267 264h2v2h-2zM261 265h2v2h-2zM300 265h2v2h-2zM244 267h2v2h-2zM252 268h2v2h-2zM261 268h2v2h-2zM253 269h2v2h-2zM268 269h2v2h-2zM270 269h2v2h-2zM263 270h2v2h-2zM268 270h2v2h-2zM254 271h2v2h-2zM272 271h2v2h-2zM256 272h2v2h-2zM257 272h2v2h-2zM272 272h2v2h-2zM240 273h2v2h-2zM255 273h2v2h-2zM239 274h2v2h-2zM269 274h2v2h-2zM268 280h2v2h-2zM260 281h2v2h-2zM235 282h2v2h-2zM259 282h2v2h-2zM245 294h2v2h-2zM239 296h2v2h-2zM241 301h2v2h-2zM230 311h2v2h-2zM223 312h2v2h-2zM227 313h2v2h-2zM237 314h2v2h-2zM270 314h2v2h-2zM271 314h2v2h-2zM250 315h2v2h-2zM238 324h2v2h-2zM241 324h2v2h-2zM249 324h2v2h-2zM255 334h2v2h-2zM238 335h2v2h-2zM232 343h2v2h-2zM230 344h2v2h-2zM220 345h2v2h-2zM227 346h2v2h-2zM233 348h2v2h-2zM211 350h2v2h-2zM237 350h2v2h-2zM238 350h2v2h-2zM211 351h2v2h-2zM212 351h2v2h-2zM239 351h2v2h-2zM211 352h2v2h-2zM219 352h2v2h-2zM231 353h2v2h-2zM206 354h2v2h-2zM199 361h2v2h-2zM222 362h2v2h-2zM224 362h2v2h-2zM214 364h2v2h-2zM213 365h2v2h-2zM215 365h2v2h-2zM228 365h2v2h-2zM207 366h2v2h-2zM221 366h2v2h-2zM225 366h2v2h-2zM207 367h2v2h-2zM206 368h2v2h-2zM207 368h2v2h-2zM210 368h2v2h-2zM213 368h2v2h-2zM217 368h2v2h-2zM214 369h2v2h-2zM223 369h2v2h-2zM228 369h2v2h-2zM228 370h2v2h-2zM208 371h2v2h-2zM217 371h2v2h-2zM221 371h2v2h-2zM223 371h2v2h-2zM198 372h2v2h-2zM212 372h2v2h-2zM230 372h2v2h-2zM200 374h2v2h-2zM209 374h2v2h-2zM213 374h2v2h-2zM214 374h2v2h-2zM220 374h2v2h-2zM200 376h2v2h-2zM207 376h2v2h-2zM212 376h2v2h-2zM221 377h2v2h-2zM227 377h2v2h-2zM220 378h2v2h-2zM200 379h2v2h-2zM216 379h2v2h-2zM219 379h2v2h-2zM230 379h2v2h-2zM203 380h2v2h-2zM204 380h2v2h-2zM206 380h2v2h-2zM211 380h2v2h-2zM212 380h2v2h-2zM218 380h2v2h-2zM222 380h2v2h-2zM227 380h2v2h-2zM228 380h2v2h-2zM224 381h2v2h-2zM222 382h2v2h-2zM203 383h2v2h-2zM209 383h2v2h-2zM217 383h2v2h-2zM205 385h2v2h-2zM206 385h2v2h-2zM219 386h2v2h-2zM226 386h2v2h-2zM235 386h2v2h-2zM203 387h2v2h-2zM206 387h2v2h-2zM225 387h2v2h-2zM228 387h2v2h-2zM203 388h2v2h-2zM205 388h2v2h-2zM203 390h2v2h-2zM221 391h2v2h-2zM200 392h2v2h-2zM202 392h2v2h-2zM228 392h2v2h-2zM201 394h2v2h-2zM206 394h2v2h-2zM216 394h2v2h-2zM223 394h2v2h-2zM202 395h2v2h-2zM208 395h2v2h-2zM209 395h2v2h-2zM224 395h2v2h-2zM200 396h2v2h-2zM206 396h2v2h-2zM214 396h2v2h-2zM229 396h2v2h-2zM202 397h2v2h-2zM203 397h2v2h-2zM205 397h2v2h-2zM215 397h2v2h-2zM232 397h2v2h-2zM201 398h2v2h-2zM209 398h2v2h-2zM228 398h2v2h-2zM229 398h2v2h-2zM233 398h2v2h-2zM202 399h2v2h-2zM215 399h2v2h-2zM221 399h2v2h-2zM231 399h2v2h-2zM233 399h2v2h-2zM222 400h2v2h-2zM231 400h2v2h-2zM200 401h2v2h-2zM206 401h2v2h-2zM223 401h2v2h-2zM212 402h2v2h-2zM219 402h2v2h-2zM227 402h2v2h-2zM205 403h2v2h-2zM207 403h2v2h-2zM208 403h2v2h-2zM212 403h2v2h-2zM207 404h2v2h-2zM222 404h2v2h-2zM223 404h2v2h-2zM209 405h2v2h-2zM219 406h2v2h-2zM212 408h2v2h-2zM217 408h2v2h-2zM218 408h2v2h-2zM203 409h2v2h-2zM205 409h2v2h-2zM221 409h2v2h-2zM205 411h2v2h-2zM212 411h2v2h-2zM205 412h2v2h-2zM206 412h2v2h-2zM203 413h2v2h-2zM205 413h2v2h-2zM195 419h2v2h-2zM220 421h2v2h-2zM217 428h2v2h-2zM957 179h2v2h-2zM977 180h2v2h-2zM974 181h2v2h-2zM944 184h2v2h-2zM981 184h2v2h-2zM985 185h2v2h-2zM946 186h2v2h-2zM951 186h2v2h-2zM985 186h2v2h-2zM952 187h2v2h-2zM955 187h2v2h-2zM967 187h2v2h-2zM959 188h2v2h-2zM960 188h2v2h-2zM963 188h2v2h-2zM968 188h2v2h-2zM965 189h2v2h-2zM969 189h2v2h-2zM950 190h2v2h-2zM958 190h2v2h-2zM969 190h2v2h-2zM975 190h2v2h-2zM934 191h2v2h-2zM961 191h2v2h-2zM967 191h2v2h-2zM945 192h2v2h-2zM950 192h2v2h-2zM958 192h2v2h-2zM963 192h2v2h-2zM964 192h2v2h-2zM946 193h2v2h-2zM954 193h2v2h-2zM971 193h2v2h-2zM983 193h2v2h-2zM935 195h2v2h-2zM941 195h2v2h-2zM942 195h2v2h-2zM950 195h2v2h-2zM951 195h2v2h-2zM965 195h2v2h-2zM928 196h2v2h-2zM931 196h2v2h-2zM932 196h2v2h-2zM953 196h2v2h-2zM954 196h2v2h-2zM973 196h2v2h-2zM930 197h2v2h-2zM935 197h2v2h-2zM941 197h2v2h-2zM953 197h2v2h-2zM955 197h2v2h-2zM964 197h2v2h-2zM972 197h2v2h-2zM925 198h2v2h-2zM963 198h2v2h-2zM945 199h2v2h-2zM969 199h2v2h-2zM923 200h2v2h-2zM940 200h2v2h-2zM941 201h2v2h-2zM951 201h2v2h-2zM973 201h2v2h-2zM928 202h2v2h-2zM942 202h2v2h-2zM962 202h2v2h-2zM971 202h2v2h-2zM974 202h2v2h-2zM961 203h2v2h-2zM968 203h2v2h-2zM971 203h2v2h-2zM915 204h2v2h-2zM922 204h2v2h-2zM923 204h2v2h-2zM960 204h2v2h-2zM922 205h2v2h-2zM926 205h2v2h-2zM977 205h2v2h-2zM979 205h2v2h-2zM910 206h2v2h-2zM978 206h2v2h-2zM910 207h2v2h-2zM921 207h2v2h-2zM923 207h2v2h-2zM963 207h2v2h-2zM965 207h2v2h-2zM981 207h2v2h-2zM923 208h2v2h-2zM961 208h2v2h-2zM911 209h2v2h-2zM967 209h2v2h-2zM981 209h2v2h-2zM960 210h2v2h-2zM961 210h2v2h-2zM970 210h2v2h-2zM982 210h2v2h-2zM912 211h2v2h-2zM923 211h2v2h-2zM925 211h2v2h-2zM966 211h2v2h-2zM963 212h2v2h-2zM966 212h2v2h-2zM965 213h2v2h-2zM962 214h2v2h-2zM926 215h2v2h-2zM974 215h2v2h-2zM917 216h2v2h-2zM924 216h2v2h-2zM950 216h2v2h-2zM961 216h2v2h-2zM917 217h2v2h-2zM920 217h2v2h-2zM921 217h2v2h-2zM947 217h2v2h-2zM953 217h2v2h-2zM962 217h2v2h-2zM968 217h2v2h-2zM953 218h2v2h-2zM965 218h2v2h-2zM977 218h2v2h-2zM912 219h2v2h-2zM931 219h2v2h-2zM960 219h2v2h-2zM918 220h2v2h-2zM941 220h2v2h-2zM943 220h2v2h-2zM947 220h2v2h-2zM949 220h2v2h-2zM962 220h2v2h-2zM948 221h2v2h-2zM956 221h2v2h-2zM923 222h2v2h-2zM931 222h2v2h-2zM937 222h2v2h-2zM939 222h2v2h-2zM949 222h2v2h-2zM956 222h2v2h-2zM962 222h2v2h-2zM917 223h2v2h-2zM939 223h2v2h-2zM914 224h2v2h-2zM934 224h2v2h-2zM936 224h2v2h-2zM918 225h2v2h-2zM920 225h2v2h-2zM923 225h2v2h-2zM939 225h2v2h-2zM941 225h2v2h-2zM947 225h2v2h-2zM954 225h2v2h-2zM957 225h2v2h-2zM903 226h2v2h-2zM939 226h2v2h-2zM944 226h2v2h-2zM917 227h2v2h-2zM928 227h2v2h-2zM934 227h2v2h-2zM938 227h2v2h-2zM946 227h2v2h-2zM948 227h2v2h-2zM950 227h2v2h-2zM953 227h2v2h-2zM920 228h2v2h-2zM937 228h2v2h-2zM944 228h2v2h-2zM919 229h2v2h-2zM942 229h2v2h-2zM943 229h2v2h-2zM900 230h2v2h-2zM923 230h2v2h-2zM935 230h2v2h-2zM922 231h2v2h-2zM923 231h2v2h-2zM929 232h2v2h-2zM937 232h2v2h-2zM915 233h2v2h-2zM922 233h2v2h-2zM930 233h2v2h-2zM931 233h2v2h-2zM908 235h2v2h-2zM910 235h2v2h-2zM911 235h2v2h-2zM933 235h2v2h-2zM955 235h2v2h-2zM959 235h2v2h-2zM924 236h2v2h-2zM933 236h2v2h-2zM939 236h2v2h-2zM955 236h2v2h-2zM891 237h2v2h-2zM892 237h2v2h-2zM931 237h2v2h-2zM932 237h2v2h-2zM932 238h2v2h-2zM917 239h2v2h-2zM918 239h2v2h-2zM922 240h2v2h-2zM917 241h2v2h-2zM927 241h2v2h-2zM904 243h2v2h-2zM893 244h2v2h-2zM894 244h2v2h-2zM894 245h2v2h-2zM913 248h2v2h-2zM926 248h2v2h-2zM927 248h2v2h-2zM899 252h2v2h-2zM927 253h2v2h-2zM918 255h2v2h-2zM898 257h2v2h-2zM899 257h2v2h-2zM885 258h2v2h-2zM931 259h2v2h-2zM922 261h2v2h-2zM911 264h2v2h-2zM922 265h2v2h-2zM885 268h2v2h-2zM880 270h2v2h-2zM903 271h2v2h-2zM908 273h2v2h-2zM909 273h2v2h-2zM897 274h2v2h-2zM908 274h2v2h-2zM903 275h2v2h-2zM929 277h2v2h-2zM890 278h2v2h-2zM878 281h2v2h-2zM910 281h2v2h-2zM886 282h2v2h-2zM887 282h2v2h-2zM909 282h2v2h-2zM910 282h2v2h-2zM919 282h2v2h-2zM893 286h2v2h-2zM910 287h2v2h-2zM898 289h2v2h-2zM896 298h2v2h-2zM907 301h2v2h-2zM883 303h2v2h-2zM884 303h2v2h-2zM887 303h2v2h-2zM892 304h2v2h-2zM893 304h2v2h-2zM883 305h2v2h-2zM917 312h2v2h-2zM877 314h2v2h-2zM878 319h2v2h-2zM893 327h2v2h-2zM847 354h2v2h-2zM850 355h2v2h-2zM844 356h2v2h-2zM864 358h2v2h-2zM850 359h2v2h-2zM834 360h2v2h-2zM850 360h2v2h-2zM833 361h2v2h-2zM830 362h2v2h-2zM824 364h2v2h-2zM835 364h2v2h-2zM838 364h2v2h-2zM853 365h2v2h-2zM856 365h2v2h-2zM834 366h2v2h-2zM835 366h2v2h-2zM840 366h2v2h-2zM856 366h2v2h-2zM842 368h2v2h-2zM856 368h2v2h-2zM838 369h2v2h-2zM839 369h2v2h-2zM859 369h2v2h-2zM834 370h2v2h-2zM840 370h2v2h-2zM845 370h2v2h-2zM834 371h2v2h-2zM827 372h2v2h-2zM845 372h2v2h-2zM849 372h2v2h-2zM850 372h2v2h-2zM856 372h2v2h-2zM828 373h2v2h-2zM830 373h2v2h-2zM832 373h2v2h-2zM849 373h2v2h-2zM851 373h2v2h-2zM833 374h2v2h-2zM835 374h2v2h-2zM851 374h2v2h-2zM854 374h2v2h-2zM832 375h2v2h-2zM833 375h2v2h-2zM850 375h2v2h-2zM852 375h2v2h-2zM854 375h2v2h-2zM830 376h2v2h-2zM840 376h2v2h-2zM852 376h2v2h-2zM827 377h2v2h-2zM861 377h2v2h-2zM831 378h2v2h-2zM833 378h2v2h-2zM835 378h2v2h-2zM837 379h2v2h-2zM852 379h2v2h-2zM819 380h2v2h-2zM820 380h2v2h-2zM836 380h2v2h-2zM843 380h2v2h-2zM849 380h2v2h-2zM850 380h2v2h-2zM860 380h2v2h-2zM827 381h2v2h-2zM860 381h2v2h-2zM827 382h2v2h-2zM856 382h2v2h-2zM857 382h2v2h-2zM836 384h2v2h-2zM837 384h2v2h-2zM852 385h2v2h-2zM827 386h2v2h-2zM836 386h2v2h-2zM850 386h2v2h-2zM854 386h2v2h-2zM857 386h2v2h-2zM820 388h2v2h-2zM829 388h2v2h-2zM835 388h2v2h-2zM854 388h2v2h-2zM843 389h2v2h-2zM846 389h2v2h-2zM853 389h2v2h-2zM854 389h2v2h-2zM821 390h2v2h-2zM855 390h2v2h-2zM856 390h2v2h-2zM820 391h2v2h-2zM826 391h2v2h-2zM830 391h2v2h-2zM837 391h2v2h-2zM855 391h2v2h-2zM865 391h2v2h-2zM825 392h2v2h-2zM832 392h2v2h-2zM856 392h2v2h-2zM827 393h2v2h-2zM831 393h2v2h-2zM847 393h2v2h-2zM855 393h2v2h-2zM833 394h2v2h-2zM834 394h2v2h-2zM851 394h2v2h-2zM821 395h2v2h-2zM823 395h2v2h-2zM844 395h2v2h-2zM851 395h2v2h-2zM853 395h2v2h-2zM856 395h2v2h-2zM862 395h2v2h-2zM833 396h2v2h-2zM849 396h2v2h-2zM829 397h2v2h-2zM839 397h2v2h-2zM856 397h2v2h-2zM858 397h2v2h-2zM843 398h2v2h-2zM826 399h2v2h-2zM827 399h2v2h-2zM829 399h2v2h-2zM834 399h2v2h-2zM824 400h2v2h-2zM828 400h2v2h-2zM829 400h2v2h-2zM836 400h2v2h-2zM839 402h2v2h-2zM844 402h2v2h-2zM845 402h2v2h-2zM849 402h2v2h-2zM852 402h2v2h-2zM865 402h2v2h-2zM827 403h2v2h-2zM849 403h2v2h-2zM864 403h2v2h-2zM826 404h2v2h-2zM827 404h2v2h-2zM849 404h2v2h-2zM863 404h2v2h-2zM864 404h2v2h-2zM837 405h2v2h-2zM839 405h2v2h-2zM845 405h2v2h-2zM854 405h2v2h-2zM857 405h2v2h-2zM830 407h2v2h-2zM831 407h2v2h-2zM832 407h2v2h-2zM837 407h2v2h-2zM850 407h2v2h-2zM835 408h2v2h-2zM836 408h2v2h-2zM838 408h2v2h-2zM840 408h2v2h-2zM845 408h2v2h-2zM846 408h2v2h-2zM831 409h2v2h-2zM846 409h2v2h-2zM851 413h2v2h-2zM837 417h2v2h-2zM831 418h2v2h-2z"/>
<path fill="#00ff00" d="M281 181h2v2h-2zM282 181h2v2h-2zM281 182h2v2h-2zM294 185h2v2h-2zM294 186h2v2h-2zM296 186h2v2h-2zM298 186h2v2h-2zM299 186h2v2h-2zM308 186h2v2h-2zM302 187h2v2h-2zM284 188h2v2h-2zM286 188h2v2h-2zM298 188h2v2h-2zM299 188h2v2h-2zM284 189h2v2h-2zM285 189h2v2h-2zM292 189h2v2h-2zM298 189h2v2h-2zM299 189h2v2h-2zM283 190h2v2h-2zM284 190h2v2h-2zM304 190h2v2h-2zM283 191h2v2h-2zM293 191h2v2h-2zM296 191h2v2h-2zM297 191h2v2h-2zM298 191h2v2h-2zM304 191h2v2h-2zM309 191h2v2h-2zM310 191h2v2h-2zM318 191h2v2h-2zM270 192h2v2h-2zM281 192h2v2h-2zM282 192h2v2h-2zM289 192h2v2h-2zM292 192h2v2h-2zM293 192h2v2h-2zM296 192h2v2h-2zM298 192h2v2h-2zM299 192h2v2h-2zM303 192h2v2h-2zM304 192h2v2h-2zM311 192h2v2h-2zM270 193h2v2h-2zM281 193h2v2h-2zM288 193h2v2h-2zM289 193h2v2h-2zM292 193h2v2h-2zM298 193h2v2h-2zM302 193h2v2h-2zM303 193h2v2h-2zM304 193h2v2h-2zM309 193h2v2h-2zM266 194h2v2h-2zM270 194h2v2h-2zM281 194h2v2h-2zM290 194h2v2h-2zM295 194h2v2h-2zM298 194h2v2h-2zM299 194h2v2h-2zM302 194h2v2h-2zM308 194h2v2h-2zM309 194h2v2h-2zM283 195h2v2h-2zM287 195h2v2h-2zM295 195h2v2h-2zM306 195h2v2h-2zM310 195h2v2h-2zM274 196h2v2h-2zM275 196h2v2h-2zM280 196h2v2h-2zM282 196h2v2h-2zM283 196h2v2h-2zM286 196h2v2h-2zM287 196h2v2h-2zM288 196h2v2h-2zM290 196h2v2h-2zM294 196h2v2h-2zM301 196h2v2h-2zM302 196h2v2h-2zM308 196h2v2h-2zM309 196h2v2h-2zM274 197h2v2h-2zM275 197h2v2h-2zM276 197h2v2h-2zM277 197h2v2h-2zM278 197h2v2h-2zM280 197h2v2h-2zM281 197h2v2h-2zM282 197h2v2h-2zM284 197h2v2h-2zM285 197h2v2h-2zM288 197h2v2h-2zM289 197h2v2h-2zM291 197h2v2h-2zM292 197h2v2h-2zM296 197h2v2h-2zM297 197h2v2h-2zM306 197h2v2h-2zM310 197h2v2h-2zM311 197h2v2h-2zM313 197h2v2h-2zM270 198h2v2h-2zM276 198h2v2h-2zM279 198h2v2h-2zM282 198h2v2h-2zM283 198h2v2h-2zM284 198h2v2h-2zM293 198h2v2h-2zM295 198h2v2h-2zM296 198h2v2h-2zM297 198h2v2h-2zM298 198h2v2h-2zM299 198h2v2h-2zM300 198h2v2h-2zM301 198h2v2h-2zM306 198h2v2h-2zM307 198h2v2h-2zM310 198h2v2h-2zM311 198h2v2h-2zM319 198h2v2h-2zM275 199h2v2h-2zM276 199h2v2h-2zM277 199h2v2h-2zM279 199h2v2h-2zM280 199h2v2h-2zM281 199h2v2h-2zM283 199h2v2h-2zM285 199h2v2h-2zM293 199h2v2h-2zM299 199h2v2h-2zM302 199h2v2h-2zM310 199h2v2h-2zM313 199h2v2h-2zM276 200h2v2h-2zM280 200h2v2h-2zM282 200h2v2h-2zM289 200h2v2h-2zM294 200h2v2h-2zM295 200h2v2h-2zM301 200h2v2h-2zM303 200h2v2h-2zM305 200h2v2h-2zM310 200h2v2h-2zM312 200h2v2h-2zM313 200h2v2h-2zM275 201h2v2h-2zM276 201h2v2h-2zM278 201h2v2h-2zM289 201h2v2h-2zM296 201h2v2h-2zM303 201h2v2h-2zM304 201h2v2h-2zM305 201h2v2h-2zM306 201h2v2h-2zM310 201h2v2h-2zM315 201h2v2h-2zM272 202h2v2h-2zM273 202h2v2h-2zM274 202h2v2h-2zM276 202h2v2h-2zM278 202h2v2h-2zM280 202h2v2h-2zM287 202h2v2h-2zM295 202h2v2h-2zM300 202h2v2h-2zM301 202h2v2h-2zM302 202h2v2h-2zM304 202h2v2h-2zM305 202h2v2h-2zM308 202h2v2h-2zM310 202h2v2h-2zM311 202h2v2h-2zM312 202h2v2h-2zM266 203h2v2h-2zM268 203h2v2h-2zM271 203h2v2h-2zM274 203h2v2h-2zM276 203h2v2h-2zM279 203h2v2h-2zM296 203h2v2h-2zM301 203h2v2h-2zM302 203h2v2h-2zM304 203h2v2h-2zM305 203h2v2h-2zM306 203h2v2h-2zM308 203h2v2h-2zM309 203h2v2h-2zM266 204h2v2h-2zM268 204h2v2h-2zM269 204h2v2h-2zM270 204h2v2h-2zM271 204h2v2h-2zM272 204h2v2h-2zM274 204h2v2h-2zM275 204h2v2h-2zM276 204h2v2h-2zM284 204h2v2h-2zM285 204h2v2h-2zM286 204h2v2h-2zM287 204h2v2h-2zM295 204h2v2h-2zM298 204h2v2h-2zM300 204h2v2h-2zM304 204h2v2h-2zM305 204h2v2h-2zM265 205h2v2h-2zM266 205h2v2h-2zM268 205h2v2h-2zM270 205h2v2h-2zM271 205h2v2h-2zM273 205h2v2h-2zM274 205h2v2h-2zM276 205h2v2h-2zM280 205h2v2h-2zM282 205h2v2h-2zM286 205h2v2h-2zM302 205h2v2h-2zM268 206h2v2h-2zM269 206h2v2h-2zM271 206h2v2h-2zM272 206h2v2h-2zM273 206h2v2h-2zM275 206h2v2h-2zM281 206h2v2h-2zM283 206h2v2h-2zM284 206h2v2h-2zM286 206h2v2h-2zM302 206h2v2h-2zM303 206h2v2h-2zM308 206h2v2h-2zM312 206h2v2h-2zM268 207h2v2h-2zM272 207h2v2h-2zM275 207h2v2h-2zM283 207h2v2h-2zM303 207h2v2h-2zM304 207h2v2h-2zM310 207h2v2h-2zM311 207h2v2h-2zM312 207h2v2h-2zM317 207h2v2h-2zM267 208h2v2h-2zM269 208h2v2h-2zM270 208h2v2h-2zM273 208h2v2h-2zM277 208h2v2h-2zM282 208h2v2h-2zM291 208h2v2h-2zM296 208h2v2h-2zM300 208h2v2h-2zM303 208h2v2h-2zM304 208h2v2h-2zM305 208h2v2h-2zM266 209h2v2h-2zM268 209h2v2h-2zM269 209h2v2h-2zM270 209h2v2h-2zM271 209h2v2h-2zM274 209h2v2h-2zM283 209h2v2h-2zM289 209h2v2h-2zM292 209h2v2h-2zM296 209h2v2h-2zM298 209h2v2h-2zM299 209h2v2h-2zM302 209h2v2h-2zM303 209h2v2h-2zM304 209h2v2h-2zM305 209h2v2h-2zM306 209h2v2h-2zM266 210h2v2h-2zM267 210h2v2h-2zM272 210h2v2h-2zM273 210h2v2h-2zM276 210h2v2h-2zM288 210h2v2h-2zM294 210h2v2h-2zM299 210h2v2h-2zM300 210h2v2h-2zM305 210h2v2h-2zM306 210h2v2h-2zM312 210h2v2h-2zM266 211h2v2h-2zM271 211h2v2h-2zM290 211h2v2h-2zM292 211h2v2h-2zM305 211h2v2h-2zM307 211h2v2h-2zM262 212h2v2h-2zM263 212h2v2h-2zM265 212h2v2h-2zM266 212h2v2h-2zM267 212h2v2h-2zM289 212h2v2h-2zM291 212h2v2h-2zM293 212h2v2h-2zM300 212h2v2h-2zM301 212h2v2h-2zM302 212h2v2h-2zM262 213h2v2h-2zM265 213h2v2h-2zM268 213h2v2h-2zM269 213h2v2h-2zM270 213h2v2h-2zM280 213h2v2h-2zM290 213h2v2h-2zM292 213h2v2h-2zM294 213h2v2h-2zM298 213h2v2h-2zM301 213h2v2h-2zM304 213h2v2h-2zM305 213h2v2h-2zM306 213h2v2h-2zM266 214h2v2h-2zM269 214h2v2h-2zM270 214h2v2h-2zM281 214h2v2h-2zM291 214h2v2h-2zM292 214h2v2h-2zM299 214h2v2h-2zM305 214h2v2h-2zM244 215h2v2h-2zM267 215h2v2h-2zM268 215h2v2h-2zM270 215h2v2h-2zM280 215h2v2h-2zM299 215h2v2h-2zM300 215h2v2h-2zM301 215h2v2h-2zM311 215h2v2h-2zM265 216h2v2h-2zM266 216h2v2h-2zM268 216h2v2h-2zM269 216h2v2h-2zM270 216h2v2h-2zM271 216h2v2h-2zM272 216h2v2h-2zM273 216h2v2h-2zM277 216h2v2h-2zM296 216h2v2h-2zM265 217h2v2h-2zM266 217h2v2h-2zM268 217h2v2h-2zM270 217h2v2h-2zM271 217h2v2h-2zM272 217h2v2h-2zM273 217h2v2h-2zM276 217h2v2h-2zM288 217h2v2h-2zM290 217h2v2h-2zM295 217h2v2h-2zM296 217h2v2h-2zM298 217h2v2h-2zM262 218h2v2h-2zM269 218h2v2h-2zM273 218h2v2h-2zM276 218h2v2h-2zM278 218h2v2h-2zM293 218h2v2h-2zM294 218h2v2h-2zM296 218h2v2h-2zM298 218h2v2h-2zM256 219h2v2h-2zM269 219h2v2h-2zM273 219h2v2h-2zM274 219h2v2h-2zM276 219h2v2h-2zM277 219h2v2h-2zM278 219h2v2h-2zM279 219h2v2h-2zM288 219h2v2h-2zM289 219h2v2h-2zM290 219h2v2h-2zM292 219h2v2h-2zM297 219h2v2h-2zM298 219h2v2h-2zM299 219h2v2h-2zM264 220h2v2h-2zM265 220h2v2h-2zM266 220h2v2h-2zM270 220h2v2h-2zM272 220h2v2h-2zM278 220h2v2h-2zM283 220h2v2h-2zM287 220h2v2h-2zM288 220h2v2h-2zM290 220h2v2h-2zM293 220h2v2h-2zM294 220h2v2h-2zM295 220h2v2h-2zM263 221h2v2h-2zM264 221h2v2h-2zM267 221h2v2h-2zM272 221h2v2h-2zM276 221h2v2h-2zM277 221h2v2h-2zM278 221h2v2h-2zM281 221h2v2h-2zM282 221h2v2h-2zM283 221h2v2h-2zM285 221h2v2h-2zM289 221h2v2h-2zM293 221h2v2h-2zM295 221h2v2h-2zM296 221h2v2h-2zM265 222h2v2h-2zM267 222h2v2h-2zM273 222h2v2h-2zM275 222h2v2h-2zM278 222h2v2h-2zM281 222h2v2h-2zM282 222h2v2h-2zM283 222h2v2h-2zM293 222h2v2h-2zM296 222h2v2h-2zM267 223h2v2h-2zM268 223h2v2h-2zM274 223h2v2h-2zM277 223h2v2h-2zM280 223h2v2h-2zM282 223h2v2h-2zM283 223h2v2h-2zM288 223h2v2h-2zM293 223h2v2h-2zM294 223h2v2h-2zM267 224h2v2h-2zM279 224h2v2h-2zM284 224h2v2h-2zM286 224h2v2h-2zM287 224h2v2h-2zM288 224h2v2h-2zM290 224h2v2h-2zM266 225h2v2h-2zM267 225h2v2h-2zM273 225h2v2h-2zM274 225h2v2h-2zM278 225h2v2h-2zM282 225h2v2h-2zM284 225h2v2h-2zM285 225h2v2h-2zM287 225h2v2h-2zM291 225h2v2h-2zM264 226h2v2h-2zM266 226h2v2h-2zM267 226h2v2h-2zM273 226h2v2h-2zM279 226h2v2h-2zM280 226h2v2h-2zM281 226h2v2h-2zM284 226h2v2h-2zM288 226h2v2h-2zM291 226h2v2h-2zM300 226h2v2h-2zM304 226h2v2h-2zM263 227h2v2h-2zM267 227h2v2h-2zM274 227h2v2h-2zM275 227h2v2h-2zM279 227h2v2h-2zM280 227h2v2h-2zM284 227h2v2h-2zM288 227h2v2h-2zM289 227h2v2h-2zM260 228h2v2h-2zM263 228h2v2h-2zM264 228h2v2h-2zM268 228h2v2h-2zM276 228h2v2h-2zM278 228h2v2h-2zM289 228h2v2h-2zM259 229h2v2h-2zM265 229h2v2h-2zM266 229h2v2h-2zM269 229h2v2h-2zM270 229h2v2h-2zM287 229h2v2h-2zM288 229h2v2h-2zM257 230h2v2h-2zM261 230h2v2h-2zM265 230h2v2h-2zM266 230h2v2h-2zM283 230h2v2h-2zM284 230h2v2h-2zM305 230h2v2h-2zM258 231h2v2h-2zM259 231h2v2h-2zM260 231h2v2h-2zM266 231h2v2h-2zM285 231h2v2h-2zM257 232h2v2h-2zM258 232h2v2h-2zM264 232h2v2h-2zM265 232h2v2h-2zM266 232h2v2h-2zM267 232h2v2h-2zM285 232h2v2h-2zM286 232h2v2h-2zM266 233h2v2h-2zM302 233h2v2h-2zM254 234h2v2h-2zM270 234h2v2h-2zM271 234h2v2h-2zM286 234h2v2h-2zM270 235h2v2h-2zM286 235h2v2h-2zM270 236h2v2h-2zM272 236h2v2h-2zM284 237h2v2h-2zM274 239h2v2h-2zM274 240h2v2h-2zM275 240h2v2h-2zM276 240h2v2h-2zM258 241h2v2h-2zM274 241h2v2h-2zM275 241h2v2h-2zM258 242h2v2h-2zM271 242h2v2h-2zM279 242h2v2h-2zM265 243h2v2h-2zM254 251h2v2h-2zM261 252h2v2h-2zM262 252h2v2h-2zM284 252h2v2h-2zM262 253h2v2h-2zM261 254h2v2h-2zM275 254h2v2h-2zM275 255h2v2h-2zM259 256h2v2h-2zM262 269h2v2h-2zM271 269h2v2h-2zM262 270h2v2h-2zM248 274h2v2h-2zM258 295h2v2h-2zM236 314h2v2h-2zM236 315h2v2h-2zM237 315h2v2h-2zM230 316h2v2h-2zM254 334h2v2h-2zM230 343h2v2h-2zM226 346h2v2h-2zM216 347h2v2h-2zM220 353h2v2h-2zM205 354h2v2h-2zM219 354h2v2h-2zM237 354h2v2h-2zM205 355h2v2h-2zM206 355h2v2h-2zM219 355h2v2h-2zM218 356h2v2h-2zM226 360h2v2h-2zM223 363h2v2h-2zM224 363h2v2h-2zM214 365h2v2h-2zM219 365h2v2h-2zM220 365h2v2h-2zM214 368h2v2h-2zM234 368h2v2h-2zM213 369h2v2h-2zM217 369h2v2h-2zM222 369h2v2h-2zM227 369h2v2h-2zM234 369h2v2h-2zM213 370h2v2h-2zM222 370h2v2h-2zM223 370h2v2h-2zM206 372h2v2h-2zM207 372h2v2h-2zM216 372h2v2h-2zM217 372h2v2h-2zM221 372h2v2h-2zM206 373h2v2h-2zM214 373h2v2h-2zM215 373h2v2h-2zM216 373h2v2h-2zM217 373h2v2h-2zM218 373h2v2h-2zM219 373h2v2h-2zM206 374h2v2h-2zM207 374h2v2h-2zM218 374h2v2h-2zM219 374h2v2h-2zM206 375h2v2h-2zM207 375h2v2h-2zM220 375h2v2h-2zM216 376h2v2h-2zM217 376h2v2h-2zM218 376h2v2h-2zM220 376h2v2h-2zM217 377h2v2h-2zM218 377h2v2h-2zM220 377h2v2h-2zM218 378h2v2h-2zM228 378h2v2h-2zM229 378h2v2h-2zM220 379h2v2h-2zM228 379h2v2h-2zM213 380h2v2h-2zM215 380h2v2h-2zM221 380h2v2h-2zM223 380h2v2h-2zM197 381h2v2h-2zM201 381h2v2h-2zM202 381h2v2h-2zM206 381h2v2h-2zM211 381h2v2h-2zM213 381h2v2h-2zM215 381h2v2h-2zM216 381h2v2h-2zM219 381h2v2h-2zM221 381h2v2h-2zM223 381h2v2h-2zM205 382h2v2h-2zM206 382h2v2h-2zM207 382h2v2h-2zM208 382h2v2h-2zM211 382h2v2h-2zM213 382h2v2h-2zM221 382h2v2h-2zM207 383h2v2h-2zM208 383h2v2h-2zM211 383h2v2h-2zM214 383h2v2h-2zM215 383h2v2h-2zM216 383h2v2h-2zM223 383h2v2h-2zM225 383h2v2h-2zM205 384h2v2h-2zM206 384h2v2h-2zM207 384h2v2h-2zM208 384h2v2h-2zM211 384h2v2h-2zM212 384h2v2h-2zM220 384h2v2h-2zM224 384h2v2h-2zM226 384h2v2h-2zM208 385h2v2h-2zM212 385h2v2h-2zM213 385h2v2h-2zM214 385h2v2h-2zM221 385h2v2h-2zM223 385h2v2h-2zM224 385h2v2h-2zM225 385h2v2h-2zM205 386h2v2h-2zM208 386h2v2h-2zM215 386h2v2h-2zM216 386h2v2h-2zM217 386h2v2h-2zM222 386h2v2h-2zM223 386h2v2h-2zM225 386h2v2h-2zM229 386h2v2h-2zM205 387h2v2h-2zM208 387h2v2h-2zM209 387h2v2h-2zM217 387h2v2h-2zM218 387h2v2h-2zM219 387h2v2h-2zM222 387h2v2h-2zM224 387h2v2h-2zM229 387h2v2h-2zM231 387h2v2h-2zM209 388h2v2h-2zM210 388h2v2h-2zM211 388h2v2h-2zM216 388h2v2h-2zM218 388h2v2h-2zM222 388h2v2h-2zM223 388h2v2h-2zM231 388h2v2h-2zM232 388h2v2h-2zM212 389h2v2h-2zM219 389h2v2h-2zM221 389h2v2h-2zM223 389h2v2h-2zM214 390h2v2h-2zM215 390h2v2h-2zM216 390h2v2h-2zM220 390h2v2h-2zM209 391h2v2h-2zM210 391h2v2h-2zM216 391h2v2h-2zM217 391h2v2h-2zM218 391h2v2h-2zM222 391h2v2h-2zM226 391h2v2h-2zM201 392h2v2h-2zM208 392h2v2h-2zM214 392h2v2h-2zM215 392h2v2h-2zM216 392h2v2h-2zM217 392h2v2h-2zM219 392h2v2h-2zM220 392h2v2h-2zM221 392h2v2h-2zM222 392h2v2h-2zM224 392h2v2h-2zM201 393h2v2h-2zM209 393h2v2h-2zM211 393h2v2h-2zM218 393h2v2h-2zM223 393h2v2h-2zM226 393h2v2h-2zM211 394h2v2h-2zM212 394h2v2h-2zM213 394h2v2h-2zM214 394h2v2h-2zM217 394h2v2h-2zM201 395h2v2h-2zM205 395h2v2h-2zM206 395h2v2h-2zM210 395h2v2h-2zM212 395h2v2h-2zM213 395h2v2h-2zM215 395h2v2h-2zM216 395h2v2h-2zM217 395h2v2h-2zM221 395h2v2h-2zM201 396h2v2h-2zM207 396h2v2h-2zM211 396h2v2h-2zM212 396h2v2h-2zM213 396h2v2h-2zM217 396h2v2h-2zM226 396h2v2h-2zM227 396h2v2h-2zM228 396h2v2h-2zM200 397h2v2h-2zM204 397h2v2h-2zM207 397h2v2h-2zM209 397h2v2h-2zM210 397h2v2h-2zM212 397h2v2h-2zM213 397h2v2h-2zM216 397h2v2h-2zM217 397h2v2h-2zM221 397h2v2h-2zM226 397h2v2h-2zM203 398h2v2h-2zM204 398h2v2h-2zM205 398h2v2h-2zM206 398h2v2h-2zM210 398h2v2h-2zM212 398h2v2h-2zM213 398h2v2h-2zM216 398h2v2h-2zM218 398h2v2h-2zM220 398h2v2h-2zM221 398h2v2h-2zM232 398h2v2h-2zM205 399h2v2h-2zM206 399h2v2h-2zM210 399h2v2h-2zM211 399h2v2h-2zM213 399h2v2h-2zM219 399h2v2h-2zM211 400h2v2h-2zM213 400h2v2h-2zM214 400h2v2h-2zM215 400h2v2h-2zM218 400h2v2h-2zM232 400h2v2h-2zM203 401h2v2h-2zM204 401h2v2h-2zM213 401h2v2h-2zM215 401h2v2h-2zM216 401h2v2h-2zM221 401h2v2h-2zM222 401h2v2h-2zM203 402h2v2h-2zM204 402h2v2h-2zM205 402h2v2h-2zM207 402h2v2h-2zM214 402h2v2h-2zM215 402h2v2h-2zM218 402h2v2h-2zM222 402h2v2h-2zM223 402h2v2h-2zM224 402h2v2h-2zM225 402h2v2h-2zM226 402h2v2h-2zM233 402h2v2h-2zM203 403h2v2h-2zM209 403h2v2h-2zM210 403h2v2h-2zM213 403h2v2h-2zM214 403h2v2h-2zM226 403h2v2h-2zM227 403h2v2h-2zM206 404h2v2h-2zM208 404h2v2h-2zM210 404h2v2h-2zM211 404h2v2h-2zM212 404h2v2h-2zM218 404h2v2h-2zM220 404h2v2h-2zM221 404h2v2h-2zM225 404h2v2h-2zM227 404h2v2h-2zM206 405h2v2h-2zM210 405h2v2h-2zM212 405h2v2h-2zM213 405h2v2h-2zM214 405h2v2h-2zM218 405h2v2h-2zM219 405h2v2h-2zM220 405h2v2h-2zM225 405h2v2h-2zM226 405h2v2h-2zM216 406h2v2h-2zM220 406h2v2h-2zM211 407h2v2h-2zM215 407h2v2h-2zM216 407h2v2h-2zM220 407h2v2h-2zM215 408h2v2h-2zM216 408h2v2h-2zM220 408h2v2h-2zM210 409h2v2h-2zM216 409h2v2h-2zM219 409h2v2h-2zM220 409h2v2h-2zM203 410h2v2h-2zM210 410h2v2h-2zM204 411h2v2h-2zM210 411h2v2h-2zM228 411h2v2h-2zM204 413h2v2h-2zM204 414h2v2h-2zM943 184h2v2h-2zM982 184h2v2h-2zM943 185h2v2h-2zM951 185h2v2h-2zM984 185h2v2h-2zM962 188h2v2h-2zM967 188h2v2h-2zM962 189h2v2h-2zM964 189h2v2h-2zM957 190h2v2h-2zM964 190h2v2h-2zM967 190h2v2h-2zM945 191h2v2h-2zM946 191h2v2h-2zM951 191h2v2h-2zM952 191h2v2h-2zM953 191h2v2h-2zM937 192h2v2h-2zM942 192h2v2h-2zM951 192h2v2h-2zM952 192h2v2h-2zM953 192h2v2h-2zM932 193h2v2h-2zM936 193h2v2h-2zM937 193h2v2h-2zM942 193h2v2h-2zM944 193h2v2h-2zM955 193h2v2h-2zM959 193h2v2h-2zM967 193h2v2h-2zM937 194h2v2h-2zM943 194h2v2h-2zM945 194h2v2h-2zM947 194h2v2h-2zM948 194h2v2h-2zM955 194h2v2h-2zM956 194h2v2h-2zM957 194h2v2h-2zM959 194h2v2h-2zM960 194h2v2h-2zM961 194h2v2h-2zM967 194h2v2h-2zM968 194h2v2h-2zM969 194h2v2h-2zM971 194h2v2h-2zM937 195h2v2h-2zM946 195h2v2h-2zM948 195h2v2h-2zM955 195h2v2h-2zM957 195h2v2h-2zM960 195h2v2h-2zM962 195h2v2h-2zM963 195h2v2h-2zM966 195h2v2h-2zM970 195h2v2h-2zM972 195h2v2h-2zM935 196h2v2h-2zM937 196h2v2h-2zM939 196h2v2h-2zM940 196h2v2h-2zM942 196h2v2h-2zM943 196h2v2h-2zM945 196h2v2h-2zM946 196h2v2h-2zM949 196h2v2h-2zM950 196h2v2h-2zM951 196h2v2h-2zM955 196h2v2h-2zM956 196h2v2h-2zM961 196h2v2h-2zM969 196h2v2h-2zM970 196h2v2h-2zM972 196h2v2h-2zM934 197h2v2h-2zM936 197h2v2h-2zM937 197h2v2h-2zM938 197h2v2h-2zM939 197h2v2h-2zM940 197h2v2h-2zM943 197h2v2h-2zM944 197h2v2h-2zM947 197h2v2h-2zM952 197h2v2h-2zM959 197h2v2h-2zM960 197h2v2h-2zM962 197h2v2h-2zM963 197h2v2h-2zM934 198h2v2h-2zM935 198h2v2h-2zM938 198h2v2h-2zM940 198h2v2h-2zM942 198h2v2h-2zM945 198h2v2h-2zM946 198h2v2h-2zM960 198h2v2h-2zM961 198h2v2h-2zM967 198h2v2h-2zM969 198h2v2h-2zM931 199h2v2h-2zM937 199h2v2h-2zM938 199h2v2h-2zM952 199h2v2h-2zM954 199h2v2h-2zM956 199h2v2h-2zM959 199h2v2h-2zM960 199h2v2h-2zM924 200h2v2h-2zM931 200h2v2h-2zM932 200h2v2h-2zM933 200h2v2h-2zM934 200h2v2h-2zM935 200h2v2h-2zM938 200h2v2h-2zM939 200h2v2h-2zM952 200h2v2h-2zM961 200h2v2h-2zM965 200h2v2h-2zM924 201h2v2h-2zM926 201h2v2h-2zM929 201h2v2h-2zM930 201h2v2h-2zM932 201h2v2h-2zM934 201h2v2h-2zM937 201h2v2h-2zM938 201h2v2h-2zM939 201h2v2h-2zM940 201h2v2h-2zM949 201h2v2h-2zM950 201h2v2h-2zM955 201h2v2h-2zM956 201h2v2h-2zM959 201h2v2h-2zM960 201h2v2h-2zM961 201h2v2h-2zM962 201h2v2h-2zM964 201h2v2h-2zM965 201h2v2h-2zM966 201h2v2h-2zM974 201h2v2h-2zM914 202h2v2h-2zM915 202h2v2h-2zM925 202h2v2h-2zM929 202h2v2h-2zM932 202h2v2h-2zM933 202h2v2h-2zM934 202h2v2h-2zM947 202h2v2h-2zM948 202h2v2h-2zM951 202h2v2h-2zM958 202h2v2h-2zM959 202h2v2h-2zM961 202h2v2h-2zM964 202h2v2h-2zM966 202h2v2h-2zM968 202h2v2h-2zM929 203h2v2h-2zM932 203h2v2h-2zM947 203h2v2h-2zM948 203h2v2h-2zM950 203h2v2h-2zM958 203h2v2h-2zM959 203h2v2h-2zM963 203h2v2h-2zM929 204h2v2h-2zM932 204h2v2h-2zM947 204h2v2h-2zM953 204h2v2h-2zM954 204h2v2h-2zM927 205h2v2h-2zM931 205h2v2h-2zM932 205h2v2h-2zM953 205h2v2h-2zM958 205h2v2h-2zM959 205h2v2h-2zM960 205h2v2h-2zM962 205h2v2h-2zM966 205h2v2h-2zM923 206h2v2h-2zM925 206h2v2h-2zM929 206h2v2h-2zM930 206h2v2h-2zM932 206h2v2h-2zM933 206h2v2h-2zM934 206h2v2h-2zM935 206h2v2h-2zM958 206h2v2h-2zM962 206h2v2h-2zM964 206h2v2h-2zM967 206h2v2h-2zM968 206h2v2h-2zM977 206h2v2h-2zM911 207h2v2h-2zM924 207h2v2h-2zM925 207h2v2h-2zM928 207h2v2h-2zM933 207h2v2h-2zM934 207h2v2h-2zM935 207h2v2h-2zM938 207h2v2h-2zM960 207h2v2h-2zM961 207h2v2h-2zM964 207h2v2h-2zM968 207h2v2h-2zM925 208h2v2h-2zM928 208h2v2h-2zM932 208h2v2h-2zM933 208h2v2h-2zM968 208h2v2h-2zM929 209h2v2h-2zM931 209h2v2h-2zM932 209h2v2h-2zM933 209h2v2h-2zM943 209h2v2h-2zM955 209h2v2h-2zM956 209h2v2h-2zM957 209h2v2h-2zM959 209h2v2h-2zM960 209h2v2h-2zM961 209h2v2h-2zM919 210h2v2h-2zM920 210h2v2h-2zM921 210h2v2h-2zM929 210h2v2h-2zM933 210h2v2h-2zM935 210h2v2h-2zM936 210h2v2h-2zM955 210h2v2h-2zM959 210h2v2h-2zM926 211h2v2h-2zM931 211h2v2h-2zM934 211h2v2h-2zM936 211h2v2h-2zM937 211h2v2h-2zM955 211h2v2h-2zM956 211h2v2h-2zM925 212h2v2h-2zM929 212h2v2h-2zM937 212h2v2h-2zM938 212h2v2h-2zM944 212h2v2h-2zM954 212h2v2h-2zM958 212h2v2h-2zM965 212h2v2h-2zM927 213h2v2h-2zM931 213h2v2h-2zM937 213h2v2h-2zM954 213h2v2h-2zM955 213h2v2h-2zM957 213h2v2h-2zM958 213h2v2h-2zM962 213h2v2h-2zM966 213h2v2h-2zM926 214h2v2h-2zM928 214h2v2h-2zM930 214h2v2h-2zM933 214h2v2h-2zM936 214h2v2h-2zM938 214h2v2h-2zM942 214h2v2h-2zM943 214h2v2h-2zM944 214h2v2h-2zM953 214h2v2h-2zM954 214h2v2h-2zM955 214h2v2h-2zM957 214h2v2h-2zM959 214h2v2h-2zM960 214h2v2h-2zM927 215h2v2h-2zM929 215h2v2h-2zM930 215h2v2h-2zM931 215h2v2h-2zM932 215h2v2h-2zM935 215h2v2h-2zM938 215h2v2h-2zM939 215h2v2h-2zM940 215h2v2h-2zM941 215h2v2h-2zM943 215h2v2h-2zM948 215h2v2h-2zM949 215h2v2h-2zM950 215h2v2h-2zM951 215h2v2h-2zM952 215h2v2h-2zM954 215h2v2h-2zM973 215h2v2h-2zM927 216h2v2h-2zM928 216h2v2h-2zM929 216h2v2h-2zM941 216h2v2h-2zM942 216h2v2h-2zM943 216h2v2h-2zM946 216h2v2h-2zM955 216h2v2h-2zM957 216h2v2h-2zM973 216h2v2h-2zM974 216h2v2h-2zM918 217h2v2h-2zM923 217h2v2h-2zM924 217h2v2h-2zM926 217h2v2h-2zM928 217h2v2h-2zM929 217h2v2h-2zM930 217h2v2h-2zM931 217h2v2h-2zM932 217h2v2h-2zM933 217h2v2h-2zM958 217h2v2h-2zM963 217h2v2h-2zM964 217h2v2h-2zM965 217h2v2h-2zM966 217h2v2h-2zM976 217h2v2h-2zM977 217h2v2h-2zM918 218h2v2h-2zM919 218h2v2h-2zM922 218h2v2h-2zM923 218h2v2h-2zM926 218h2v2h-2zM927 218h2v2h-2zM929 218h2v2h-2zM930 218h2v2h-2zM931 218h2v2h-2zM934 218h2v2h-2zM942 218h2v2h-2zM948 218h2v2h-2zM952 218h2v2h-2zM954 218h2v2h-2zM955 218h2v2h-2zM956 218h2v2h-2zM959 218h2v2h-2zM962 218h2v2h-2zM963 218h2v2h-2zM914 219h2v2h-2zM919 219h2v2h-2zM922 219h2v2h-2zM923 219h2v2h-2zM925 219h2v2h-2zM926 219h2v2h-2zM928 219h2v2h-2zM929 219h2v2h-2zM936 219h2v2h-2zM937 219h2v2h-2zM943 219h2v2h-2zM945 219h2v2h-2zM948 219h2v2h-2zM963 219h2v2h-2zM912 220h2v2h-2zM913 220h2v2h-2zM914 220h2v2h-2zM922 220h2v2h-2zM923 220h2v2h-2zM924 220h2v2h-2zM926 220h2v2h-2zM927 220h2v2h-2zM934 220h2v2h-2zM935 220h2v2h-2zM938 220h2v2h-2zM940 220h2v2h-2zM945 220h2v2h-2zM948 220h2v2h-2zM952 220h2v2h-2zM913 221h2v2h-2zM918 221h2v2h-2zM919 221h2v2h-2zM920 221h2v2h-2zM922 221h2v2h-2zM924 221h2v2h-2zM925 221h2v2h-2zM926 221h2v2h-2zM934 221h2v2h-2zM936 221h2v2h-2zM937 221h2v2h-2zM944 221h2v2h-2zM946 221h2v2h-2zM952 221h2v2h-2zM962 221h2v2h-2zM913 222h2v2h-2zM918 222h2v2h-2zM919 222h2v2h-2zM925 222h2v2h-2zM926 222h2v2h-2zM929 222h2v2h-2zM935 222h2v2h-2zM938 222h2v2h-2zM944 222h2v2h-2zM913 223h2v2h-2zM918 223h2v2h-2zM926 223h2v2h-2zM927 223h2v2h-2zM944 223h2v2h-2zM952 223h2v2h-2zM954 223h2v2h-2zM955 223h2v2h-2zM956 223h2v2h-2zM919 224h2v2h-2zM937 224h2v2h-2zM938 224h2v2h-2zM953 224h2v2h-2zM954 224h2v2h-2zM917 225h2v2h-2zM931 225h2v2h-2zM934 225h2v2h-2zM935 225h2v2h-2zM944 225h2v2h-2zM945 225h2v2h-2zM948 225h2v2h-2zM949 225h2v2h-2zM918 226h2v2h-2zM920 226h2v2h-2zM930 226h2v2h-2zM934 226h2v2h-2zM935 226h2v2h-2zM950 226h2v2h-2zM951 226h2v2h-2zM952 226h2v2h-2zM920 227h2v2h-2zM921 227h2v2h-2zM926 227h2v2h-2zM927 227h2v2h-2zM951 227h2v2h-2zM952 227h2v2h-2zM938 228h2v2h-2zM934 229h2v2h-2zM919 230h2v2h-2zM934 230h2v2h-2zM937 230h2v2h-2zM917 231h2v2h-2zM937 231h2v2h-2zM915 232h2v2h-2zM916 232h2v2h-2zM917 232h2v2h-2zM923 232h2v2h-2zM930 232h2v2h-2zM936 232h2v2h-2zM923 233h2v2h-2zM934 236h2v2h-2zM928 240h2v2h-2zM928 241h2v2h-2zM929 241h2v2h-2zM929 242h2v2h-2zM930 242h2v2h-2zM929 243h2v2h-2zM930 243h2v2h-2zM931 243h2v2h-2zM912 247h2v2h-2zM913 247h2v2h-2zM926 247h2v2h-2zM912 248h2v2h-2zM914 248h2v2h-2zM919 250h2v2h-2zM920 250h2v2h-2zM921 250h2v2h-2zM889 257h2v2h-2zM900 257h2v2h-2zM918 258h2v2h-2zM913 260h2v2h-2zM895 262h2v2h-2zM896 262h2v2h-2zM910 264h2v2h-2zM886 268h2v2h-2zM924 270h2v2h-2zM940 271h2v2h-2zM941 271h2v2h-2zM922 275h2v2h-2zM923 275h2v2h-2zM910 279h2v2h-2zM877 281h2v2h-2zM887 283h2v2h-2zM919 283h2v2h-2zM893 285h2v2h-2zM899 287h2v2h-2zM898 288h2v2h-2zM899 288h2v2h-2zM876 290h2v2h-2zM886 304h2v2h-2zM847 315h2v2h-2zM847 353h2v2h-2zM850 354h2v2h-2zM844 357h2v2h-2zM833 360h2v2h-2zM835 361h2v2h-2zM831 362h2v2h-2zM835 365h2v2h-2zM836 366h2v2h-2zM851 366h2v2h-2zM835 367h2v2h-2zM836 367h2v2h-2zM840 367h2v2h-2zM841 367h2v2h-2zM842 367h2v2h-2zM843 367h2v2h-2zM850 367h2v2h-2zM836 368h2v2h-2zM838 368h2v2h-2zM832 369h2v2h-2zM833 369h2v2h-2zM834 369h2v2h-2zM836 369h2v2h-2zM837 369h2v2h-2zM825 370h2v2h-2zM850 370h2v2h-2zM826 371h2v2h-2zM829 371h2v2h-2zM830 371h2v2h-2zM836 371h2v2h-2zM843 371h2v2h-2zM837 372h2v2h-2zM838 372h2v2h-2zM842 372h2v2h-2zM844 372h2v2h-2zM827 373h2v2h-2zM833 373h2v2h-2zM837 373h2v2h-2zM838 373h2v2h-2zM839 373h2v2h-2zM840 373h2v2h-2zM841 373h2v2h-2zM842 373h2v2h-2zM846 373h2v2h-2zM847 373h2v2h-2zM848 373h2v2h-2zM852 373h2v2h-2zM829 374h2v2h-2zM831 374h2v2h-2zM836 374h2v2h-2zM842 374h2v2h-2zM852 374h2v2h-2zM829 375h2v2h-2zM830 375h2v2h-2zM841 375h2v2h-2zM847 375h2v2h-2zM849 375h2v2h-2zM843 376h2v2h-2zM844 376h2v2h-2zM845 376h2v2h-2zM846 376h2v2h-2zM817 377h2v2h-2zM845 377h2v2h-2zM828 378h2v2h-2zM840 378h2v2h-2zM845 378h2v2h-2zM853 378h2v2h-2zM854 378h2v2h-2zM859 378h2v2h-2zM860 378h2v2h-2zM820 379h2v2h-2zM828 379h2v2h-2zM829 379h2v2h-2zM833 379h2v2h-2zM834 379h2v2h-2zM841 379h2v2h-2zM845 379h2v2h-2zM853 379h2v2h-2zM854 379h2v2h-2zM859 379h2v2h-2zM860 379h2v2h-2zM828 380h2v2h-2zM830 380h2v2h-2zM833 380h2v2h-2zM835 380h2v2h-2zM840 380h2v2h-2zM844 380h2v2h-2zM847 380h2v2h-2zM848 380h2v2h-2zM853 380h2v2h-2zM828 381h2v2h-2zM829 381h2v2h-2zM830 381h2v2h-2zM834 381h2v2h-2zM840 381h2v2h-2zM841 381h2v2h-2zM842 381h2v2h-2zM843 381h2v2h-2zM845 381h2v2h-2zM847 381h2v2h-2zM853 381h2v2h-2zM834 382h2v2h-2zM835 382h2v2h-2zM837 382h2v2h-2zM840 382h2v2h-2zM842 382h2v2h-2zM847 382h2v2h-2zM849 382h2v2h-2zM850 382h2v2h-2zM851 382h2v2h-2zM853 382h2v2h-2zM854 382h2v2h-2zM855 382h2v2h-2zM860 382h2v2h-2zM839 383h2v2h-2zM840 383h2v2h-2zM847 383h2v2h-2zM848 383h2v2h-2zM849 383h2v2h-2zM853 383h2v2h-2zM855 383h2v2h-2zM856 383h2v2h-2zM830 384h2v2h-2zM831 384h2v2h-2zM835 384h2v2h-2zM841 384h2v2h-2zM846 384h2v2h-2zM847 384h2v2h-2zM848 384h2v2h-2zM849 384h2v2h-2zM853 384h2v2h-2zM854 384h2v2h-2zM829 385h2v2h-2zM830 385h2v2h-2zM834 385h2v2h-2zM835 385h2v2h-2zM839 385h2v2h-2zM841 385h2v2h-2zM845 385h2v2h-2zM846 385h2v2h-2zM847 385h2v2h-2zM848 385h2v2h-2zM849 385h2v2h-2zM854 385h2v2h-2zM855 385h2v2h-2zM857 385h2v2h-2zM858 385h2v2h-2zM829 386h2v2h-2zM832 386h2v2h-2zM834 386h2v2h-2zM837 386h2v2h-2zM839 386h2v2h-2zM840 386h2v2h-2zM847 386h2v2h-2zM848 386h2v2h-2zM852 386h2v2h-2zM822 387h2v2h-2zM829 387h2v2h-2zM830 387h2v2h-2zM832 387h2v2h-2zM833 387h2v2h-2zM838 387h2v2h-2zM841 387h2v2h-2zM843 387h2v2h-2zM845 387h2v2h-2zM849 387h2v2h-2zM850 387h2v2h-2zM851 387h2v2h-2zM821 388h2v2h-2zM831 388h2v2h-2zM832 388h2v2h-2zM834 388h2v2h-2zM837 388h2v2h-2zM838 388h2v2h-2zM840 388h2v2h-2zM842 388h2v2h-2zM846 388h2v2h-2zM848 388h2v2h-2zM822 389h2v2h-2zM823 389h2v2h-2zM829 389h2v2h-2zM830 389h2v2h-2zM831 389h2v2h-2zM832 389h2v2h-2zM833 389h2v2h-2zM838 389h2v2h-2zM839 389h2v2h-2zM840 389h2v2h-2zM841 389h2v2h-2zM842 389h2v2h-2zM845 389h2v2h-2zM848 389h2v2h-2zM849 389h2v2h-2zM852 389h2v2h-2zM822 390h2v2h-2zM823 390h2v2h-2zM824 390h2v2h-2zM825 390h2v2h-2zM829 390h2v2h-2zM831 390h2v2h-2zM835 390h2v2h-2zM844 390h2v2h-2zM845 390h2v2h-2zM846 390h2v2h-2zM848 390h2v2h-2zM822 391h2v2h-2zM824 391h2v2h-2zM825 391h2v2h-2zM828 391h2v2h-2zM835 391h2v2h-2zM838 391h2v2h-2zM840 391h2v2h-2zM841 391h2v2h-2zM847 391h2v2h-2zM849 391h2v2h-2zM851 391h2v2h-2zM852 391h2v2h-2zM854 391h2v2h-2zM857 391h2v2h-2zM833 392h2v2h-2zM834 392h2v2h-2zM838 392h2v2h-2zM839 392h2v2h-2zM842 392h2v2h-2zM845 392h2v2h-2zM846 392h2v2h-2zM847 392h2v2h-2zM849 392h2v2h-2zM852 392h2v2h-2zM857 392h2v2h-2zM833 393h2v2h-2zM834 393h2v2h-2zM835 393h2v2h-2zM836 393h2v2h-2zM837 393h2v2h-2zM844 393h2v2h-2zM851 393h2v2h-2zM857 393h2v2h-2zM828 394h2v2h-2zM829 394h2v2h-2zM832 394h2v2h-2zM836 394h2v2h-2zM840 394h2v2h-2zM841 394h2v2h-2zM843 394h2v2h-2zM844 394h2v2h-2zM850 394h2v2h-2zM852 394h2v2h-2zM854 394h2v2h-2zM855 394h2v2h-2zM864 394h2v2h-2zM822 395h2v2h-2zM828 395h2v2h-2zM830 395h2v2h-2zM832 395h2v2h-2zM836 395h2v2h-2zM837 395h2v2h-2zM841 395h2v2h-2zM842 395h2v2h-2zM843 395h2v2h-2zM848 395h2v2h-2zM849 395h2v2h-2zM855 395h2v2h-2zM863 395h2v2h-2zM828 396h2v2h-2zM829 396h2v2h-2zM830 396h2v2h-2zM831 396h2v2h-2zM836 396h2v2h-2zM838 396h2v2h-2zM839 396h2v2h-2zM840 396h2v2h-2zM842 396h2v2h-2zM845 396h2v2h-2zM847 396h2v2h-2zM848 396h2v2h-2zM854 396h2v2h-2zM831 397h2v2h-2zM832 397h2v2h-2zM836 397h2v2h-2zM841 397h2v2h-2zM842 397h2v2h-2zM843 397h2v2h-2zM844 397h2v2h-2zM845 397h2v2h-2zM846 397h2v2h-2zM847 397h2v2h-2zM848 397h2v2h-2zM855 397h2v2h-2zM830 398h2v2h-2zM831 398h2v2h-2zM845 398h2v2h-2zM848 398h2v2h-2zM851 398h2v2h-2zM859 398h2v2h-2zM835 399h2v2h-2zM839 399h2v2h-2zM840 399h2v2h-2zM841 399h2v2h-2zM842 399h2v2h-2zM846 399h2v2h-2zM848 399h2v2h-2zM825 400h2v2h-2zM826 400h2v2h-2zM835 400h2v2h-2zM837 400h2v2h-2zM838 400h2v2h-2zM839 400h2v2h-2zM840 400h2v2h-2zM841 400h2v2h-2zM848 400h2v2h-2zM849 400h2v2h-2zM851 400h2v2h-2zM852 400h2v2h-2zM824 401h2v2h-2zM826 401h2v2h-2zM829 401h2v2h-2zM837 401h2v2h-2zM838 401h2v2h-2zM840 401h2v2h-2zM841 401h2v2h-2zM848 401h2v2h-2zM853 401h2v2h-2zM856 401h2v2h-2zM857 401h2v2h-2zM824 402h2v2h-2zM830 402h2v2h-2zM838 402h2v2h-2zM840 402h2v2h-2zM847 402h2v2h-2zM848 402h2v2h-2zM828 403h2v2h-2zM829 403h2v2h-2zM830 403h2v2h-2zM844 403h2v2h-2zM845 403h2v2h-2zM846 403h2v2h-2zM828 404h2v2h-2zM836 404h2v2h-2zM837 404h2v2h-2zM838 404h2v2h-2zM839 404h2v2h-2zM834 405h2v2h-2zM846 405h2v2h-2zM847 405h2v2h-2zM833 406h2v2h-2zM834 406h2v2h-2zM846 406h2v2h-2zM847 406h2v2h-2zM854 406h2v2h-2zM834 407h2v2h-2zM835 407h2v2h-2zM836 407h2v2h-2zM842 407h2v2h-2zM844 407h2v2h-2zM845 407h2v2h-2zM842 408h2v2h-2zM843 408h2v2h-2zM850 408h2v2h-2zM840 409h2v2h-2zM841 409h2v2h-2zM842 409h2v2h-2zM843 409h2v2h-2zM850 409h2v2h-2zM834 412h2v2h-2zM835 412h2v2h-2z"/>
<path fill="#9cff00" d="M309 192h2v2h-2zM288 194h2v2h-2zM289 194h2v2h-2zM292 194h2v2h-2zM294 194h2v2h-2zM300 194h2v2h-2zM301 194h2v2h-2zM281 195h2v2h-2zM282 195h2v2h-2zM288 195h2v2h-2zM290 195h2v2h-2zM292 195h2v2h-2zM294 195h2v2h-2zM300 195h2v2h-2zM289 196h2v2h-2zM277 198h2v2h-2zM278 198h2v2h-2zM286 198h2v2h-2zM287 198h2v2h-2zM288 198h2v2h-2zM289 198h2v2h-2zM284 199h2v2h-2zM287 199h2v2h-2zM289 199h2v2h-2zM300 199h2v2h-2zM301 199h2v2h-2zM278 200h2v2h-2zM279 200h2v2h-2zM283 200h2v2h-2zM285 200h2v2h-2zM287 200h2v2h-2zM293 200h2v2h-2zM296 200h2v2h-2zM297 200h2v2h-2zM298 200h2v2h-2zM300 200h2v2h-2zM302 200h2v2h-2zM282 201h2v2h-2zM287 201h2v2h-2zM294 201h2v2h-2zM298 201h2v2h-2zM299 201h2v2h-2zM301 201h2v2h-2zM311 201h2v2h-2zM312 201h2v2h-2zM277 202h2v2h-2zM281 202h2v2h-2zM288 202h2v2h-2zM291 202h2v2h-2zM309 202h2v2h-2zM277 203h2v2h-2zM281 203h2v2h-2zM288 203h2v2h-2zM280 204h2v2h-2zM281 204h2v2h-2zM283 204h2v2h-2zM288 204h2v2h-2zM291 204h2v2h-2zM294 204h2v2h-2zM296 204h2v2h-2zM296 205h2v2h-2zM297 205h2v2h-2zM298 205h2v2h-2zM299 205h2v2h-2zM285 206h2v2h-2zM287 206h2v2h-2zM300 206h2v2h-2zM269 207h2v2h-2zM287 207h2v2h-2zM296 207h2v2h-2zM298 207h2v2h-2zM299 207h2v2h-2zM271 208h2v2h-2zM272 208h2v2h-2zM281 208h2v2h-2zM283 208h2v2h-2zM287 208h2v2h-2zM288 208h2v2h-2zM289 208h2v2h-2zM302 208h2v2h-2zM267 209h2v2h-2zM273 209h2v2h-2zM277 209h2v2h-2zM280 209h2v2h-2zM282 209h2v2h-2zM282 210h2v2h-2zM285 210h2v2h-2zM293 210h2v2h-2zM297 210h2v2h-2zM298 210h2v2h-2zM272 211h2v2h-2zM274 211h2v2h-2zM282 211h2v2h-2zM285 211h2v2h-2zM293 211h2v2h-2zM306 211h2v2h-2zM271 212h2v2h-2zM280 212h2v2h-2zM300 213h2v2h-2zM272 214h2v2h-2zM273 214h2v2h-2zM276 214h2v2h-2zM277 214h2v2h-2zM279 214h2v2h-2zM290 214h2v2h-2zM294 214h2v2h-2zM298 214h2v2h-2zM300 214h2v2h-2zM273 215h2v2h-2zM276 215h2v2h-2zM278 215h2v2h-2zM279 215h2v2h-2zM281 215h2v2h-2zM282 215h2v2h-2zM291 215h2v2h-2zM292 215h2v2h-2zM293 215h2v2h-2zM295 215h2v2h-2zM298 215h2v2h-2zM275 216h2v2h-2zM279 216h2v2h-2zM287 216h2v2h-2zM289 216h2v2h-2zM290 216h2v2h-2zM294 216h2v2h-2zM298 216h2v2h-2zM279 217h2v2h-2zM280 217h2v2h-2zM281 217h2v2h-2zM287 217h2v2h-2zM294 217h2v2h-2zM297 217h2v2h-2zM270 218h2v2h-2zM272 218h2v2h-2zM282 218h2v2h-2zM291 218h2v2h-2zM270 219h2v2h-2zM271 219h2v2h-2zM272 219h2v2h-2zM275 219h2v2h-2zM280 219h2v2h-2zM281 219h2v2h-2zM282 219h2v2h-2zM283 219h2v2h-2zM287 219h2v2h-2zM271 220h2v2h-2zM276 220h2v2h-2zM280 220h2v2h-2zM281 220h2v2h-2zM284 220h2v2h-2zM289 220h2v2h-2zM265 221h2v2h-2zM266 221h2v2h-2zM275 221h2v2h-2zM294 221h2v2h-2zM294 222h2v2h-2zM278 223h2v2h-2zM279 223h2v2h-2zM277 224h2v2h-2zM278 224h2v2h-2zM285 224h2v2h-2zM289 224h2v2h-2zM275 225h2v2h-2zM276 225h2v2h-2zM289 225h2v2h-2zM290 225h2v2h-2zM274 226h2v2h-2zM275 226h2v2h-2zM276 226h2v2h-2zM278 227h2v2h-2zM281 227h2v2h-2zM283 227h2v2h-2zM290 227h2v2h-2zM277 228h2v2h-2zM213 371h2v2h-2zM214 371h2v2h-2zM213 372h2v2h-2zM214 372h2v2h-2zM214 382h2v2h-2zM215 382h2v2h-2zM220 383h2v2h-2zM224 383h2v2h-2zM225 384h2v2h-2zM209 385h2v2h-2zM210 385h2v2h-2zM209 386h2v2h-2zM211 386h2v2h-2zM212 386h2v2h-2zM213 386h2v2h-2zM214 386h2v2h-2zM220 386h2v2h-2zM221 386h2v2h-2zM224 386h2v2h-2zM211 387h2v2h-2zM213 387h2v2h-2zM215 387h2v2h-2zM220 387h2v2h-2zM221 387h2v2h-2zM213 388h2v2h-2zM220 388h2v2h-2zM211 389h2v2h-2zM213 389h2v2h-2zM216 389h2v2h-2zM211 390h2v2h-2zM213 390h2v2h-2zM211 391h2v2h-2zM209 392h2v2h-2zM211 392h2v2h-2zM225 392h2v2h-2zM226 392h2v2h-2zM213 393h2v2h-2zM214 393h2v2h-2zM224 393h2v2h-2zM225 393h2v2h-2zM218 394h2v2h-2zM218 395h2v2h-2zM219 395h2v2h-2zM216 399h2v2h-2zM217 399h2v2h-2zM216 400h2v2h-2zM217 401h2v2h-2zM221 402h2v2h-2zM216 403h2v2h-2zM220 403h2v2h-2zM221 403h2v2h-2zM215 404h2v2h-2zM217 404h2v2h-2zM215 405h2v2h-2zM216 405h2v2h-2zM211 406h2v2h-2zM212 406h2v2h-2zM212 407h2v2h-2zM213 407h2v2h-2zM943 193h2v2h-2zM944 194h2v2h-2zM958 194h2v2h-2zM970 194h2v2h-2zM945 195h2v2h-2zM968 195h2v2h-2zM971 195h2v2h-2zM944 196h2v2h-2zM948 196h2v2h-2zM962 196h2v2h-2zM948 197h2v2h-2zM950 197h2v2h-2zM957 197h2v2h-2zM958 197h2v2h-2zM968 197h2v2h-2zM957 198h2v2h-2zM936 200h2v2h-2zM946 200h2v2h-2zM947 200h2v2h-2zM951 200h2v2h-2zM954 200h2v2h-2zM956 200h2v2h-2zM957 200h2v2h-2zM958 200h2v2h-2zM959 200h2v2h-2zM936 201h2v2h-2zM945 201h2v2h-2zM948 201h2v2h-2zM935 202h2v2h-2zM938 202h2v2h-2zM944 202h2v2h-2zM946 202h2v2h-2zM950 202h2v2h-2zM953 202h2v2h-2zM956 202h2v2h-2zM957 202h2v2h-2zM965 202h2v2h-2zM934 203h2v2h-2zM935 203h2v2h-2zM936 203h2v2h-2zM940 203h2v2h-2zM942 203h2v2h-2zM943 203h2v2h-2zM945 203h2v2h-2zM951 203h2v2h-2zM954 203h2v2h-2zM955 203h2v2h-2zM964 203h2v2h-2zM965 203h2v2h-2zM933 204h2v2h-2zM934 204h2v2h-2zM935 204h2v2h-2zM952 204h2v2h-2zM955 204h2v2h-2zM958 204h2v2h-2zM965 204h2v2h-2zM924 205h2v2h-2zM935 205h2v2h-2zM936 205h2v2h-2zM940 205h2v2h-2zM956 205h2v2h-2zM957 205h2v2h-2zM963 205h2v2h-2zM964 205h2v2h-2zM924 206h2v2h-2zM931 206h2v2h-2zM936 206h2v2h-2zM939 206h2v2h-2zM940 206h2v2h-2zM953 206h2v2h-2zM955 206h2v2h-2zM956 206h2v2h-2zM929 207h2v2h-2zM930 207h2v2h-2zM936 207h2v2h-2zM937 207h2v2h-2zM939 207h2v2h-2zM941 207h2v2h-2zM943 207h2v2h-2zM949 207h2v2h-2zM953 207h2v2h-2zM954 207h2v2h-2zM955 207h2v2h-2zM958 207h2v2h-2zM936 208h2v2h-2zM938 208h2v2h-2zM944 208h2v2h-2zM956 208h2v2h-2zM957 208h2v2h-2zM958 208h2v2h-2zM959 208h2v2h-2zM960 208h2v2h-2zM934 209h2v2h-2zM935 209h2v2h-2zM936 209h2v2h-2zM938 209h2v2h-2zM942 209h2v2h-2zM944 209h2v2h-2zM950 209h2v2h-2zM939 210h2v2h-2zM943 210h2v2h-2zM944 210h2v2h-2zM932 211h2v2h-2zM939 211h2v2h-2zM942 211h2v2h-2zM943 211h2v2h-2zM930 212h2v2h-2zM933 212h2v2h-2zM934 212h2v2h-2zM935 212h2v2h-2zM936 212h2v2h-2zM945 212h2v2h-2zM946 212h2v2h-2zM950 212h2v2h-2zM951 212h2v2h-2zM956 212h2v2h-2zM957 212h2v2h-2zM930 213h2v2h-2zM935 213h2v2h-2zM936 213h2v2h-2zM938 213h2v2h-2zM945 213h2v2h-2zM947 213h2v2h-2zM948 213h2v2h-2zM949 213h2v2h-2zM950 213h2v2h-2zM952 213h2v2h-2zM956 213h2v2h-2zM934 214h2v2h-2zM940 214h2v2h-2zM947 214h2v2h-2zM948 214h2v2h-2zM949 214h2v2h-2zM950 214h2v2h-2zM952 214h2v2h-2zM956 214h2v2h-2zM928 215h2v2h-2zM936 215h2v2h-2zM937 215h2v2h-2zM946 215h2v2h-2zM956 215h2v2h-2zM933 216h2v2h-2zM937 216h2v2h-2zM940 216h2v2h-2zM954 216h2v2h-2zM956 216h2v2h-2zM935 217h2v2h-2zM936 217h2v2h-2zM940 217h2v2h-2zM943 217h2v2h-2zM957 217h2v2h-2zM928 218h2v2h-2zM936 218h2v2h-2zM943 218h2v2h-2zM945 218h2v2h-2zM950 218h2v2h-2zM951 218h2v2h-2zM957 218h2v2h-2zM938 219h2v2h-2zM939 219h2v2h-2zM940 219h2v2h-2zM944 219h2v2h-2zM949 219h2v2h-2zM952 219h2v2h-2zM925 220h2v2h-2zM935 221h2v2h-2zM945 221h2v2h-2zM945 222h2v2h-2zM938 223h2v2h-2zM835 369h2v2h-2zM843 373h2v2h-2zM840 374h2v2h-2zM848 375h2v2h-2zM847 376h2v2h-2zM847 377h2v2h-2zM849 377h2v2h-2zM847 378h2v2h-2zM848 378h2v2h-2zM830 379h2v2h-2zM840 379h2v2h-2zM847 379h2v2h-2zM844 381h2v2h-2zM841 382h2v2h-2zM843 382h2v2h-2zM845 382h2v2h-2zM846 382h2v2h-2zM833 383h2v2h-2zM834 383h2v2h-2zM845 383h2v2h-2zM832 384h2v2h-2zM833 384h2v2h-2zM834 384h2v2h-2zM844 384h2v2h-2zM832 385h2v2h-2zM842 385h2v2h-2zM844 385h2v2h-2zM842 386h2v2h-2zM844 386h2v2h-2zM846 386h2v2h-2zM839 387h2v2h-2zM840 387h2v2h-2zM842 387h2v2h-2zM846 387h2v2h-2zM847 388h2v2h-2zM826 390h2v2h-2zM833 390h2v2h-2zM834 390h2v2h-2zM842 390h2v2h-2zM852 390h2v2h-2zM853 390h2v2h-2zM834 391h2v2h-2zM842 391h2v2h-2zM853 391h2v2h-2zM840 392h2v2h-2zM841 392h2v2h-2zM850 392h2v2h-2zM851 392h2v2h-2zM838 393h2v2h-2zM839 393h2v2h-2zM837 394h2v2h-2zM838 394h2v2h-2zM839 394h2v2h-2zM848 394h2v2h-2zM849 394h2v2h-2zM829 395h2v2h-2zM838 395h2v2h-2zM839 395h2v2h-2zM840 395h2v2h-2zM854 395h2v2h-2zM841 396h2v2h-2zM847 398h2v2h-2zM847 399h2v2h-2zM825 401h2v2h-2zM829 402h2v2h-2z"/>
<path fill="#ffff00" d="M282 194h2v2h-2zM293 194h2v2h-2zM289 195h2v2h-2zM293 195h2v2h-2zM301 195h2v2h-2zM290 198h2v2h-2zM291 198h2v2h-2zM288 199h2v2h-2zM290 199h2v2h-2zM291 200h2v2h-2zM292 200h2v2h-2zM286 201h2v2h-2zM288 201h2v2h-2zM291 201h2v2h-2zM292 201h2v2h-2zM282 202h2v2h-2zM283 202h2v2h-2zM294 202h2v2h-2zM283 203h2v2h-2zM284 203h2v2h-2zM285 203h2v2h-2zM291 203h2v2h-2zM294 203h2v2h-2zM277 204h2v2h-2zM278 204h2v2h-2zM282 204h2v2h-2zM289 204h2v2h-2zM290 204h2v2h-2zM292 204h2v2h-2zM287 205h2v2h-2zM291 205h2v2h-2zM294 205h2v2h-2zM278 206h2v2h-2zM280 206h2v2h-2zM291 206h2v2h-2zM296 206h2v2h-2zM298 206h2v2h-2zM299 206h2v2h-2zM301 206h2v2h-2zM280 207h2v2h-2zM281 207h2v2h-2zM284 207h2v2h-2zM286 207h2v2h-2zM291 207h2v2h-2zM293 207h2v2h-2zM301 207h2v2h-2zM268 208h2v2h-2zM278 208h2v2h-2zM284 208h2v2h-2zM286 208h2v2h-2zM290 208h2v2h-2zM295 208h2v2h-2zM278 209h2v2h-2zM279 209h2v2h-2zM294 209h2v2h-2zM277 210h2v2h-2zM283 210h2v2h-2zM287 210h2v2h-2zM275 211h2v2h-2zM281 211h2v2h-2zM283 211h2v2h-2zM284 211h2v2h-2zM272 212h2v2h-2zM273 212h2v2h-2zM274 212h2v2h-2zM283 212h2v2h-2zM296 212h2v2h-2zM271 213h2v2h-2zM272 213h2v2h-2zM273 213h2v2h-2zM274 213h2v2h-2zM275 213h2v2h-2zM291 213h2v2h-2zM295 213h2v2h-2zM297 213h2v2h-2zM283 214h2v2h-2zM289 214h2v2h-2zM295 214h2v2h-2zM297 214h2v2h-2zM274 215h2v2h-2zM275 215h2v2h-2zM283 215h2v2h-2zM289 215h2v2h-2zM294 215h2v2h-2zM296 215h2v2h-2zM274 216h2v2h-2zM282 216h2v2h-2zM284 216h2v2h-2zM291 216h2v2h-2zM292 216h2v2h-2zM293 216h2v2h-2zM297 216h2v2h-2zM282 217h2v2h-2zM283 217h2v2h-2zM284 217h2v2h-2zM285 217h2v2h-2zM286 217h2v2h-2zM291 217h2v2h-2zM292 217h2v2h-2zM287 218h2v2h-2zM292 218h2v2h-2zM284 219h2v2h-2zM286 219h2v2h-2zM275 220h2v2h-2zM285 220h2v2h-2zM275 223h2v2h-2zM276 223h2v2h-2zM275 224h2v2h-2zM277 226h2v2h-2zM289 226h2v2h-2zM276 227h2v2h-2zM277 227h2v2h-2zM282 227h2v2h-2zM219 382h2v2h-2zM220 382h2v2h-2zM219 383h2v2h-2zM212 387h2v2h-2zM214 388h2v2h-2zM215 388h2v2h-2zM221 388h2v2h-2zM212 390h2v2h-2zM212 391h2v2h-2zM213 391h2v2h-2zM212 392h2v2h-2zM213 392h2v2h-2zM219 397h2v2h-2zM217 400h2v2h-2zM213 406h2v2h-2zM958 195h2v2h-2zM958 196h2v2h-2zM968 196h2v2h-2zM949 197h2v2h-2zM947 198h2v2h-2zM958 198h2v2h-2zM948 199h2v2h-2zM957 199h2v2h-2zM958 199h2v2h-2zM948 200h2v2h-2zM949 200h2v2h-2zM953 200h2v2h-2zM947 201h2v2h-2zM953 201h2v2h-2zM954 201h2v2h-2zM945 202h2v2h-2zM939 203h2v2h-2zM941 203h2v2h-2zM944 203h2v2h-2zM957 203h2v2h-2zM936 204h2v2h-2zM939 204h2v2h-2zM940 204h2v2h-2zM942 204h2v2h-2zM945 204h2v2h-2zM948 204h2v2h-2zM949 204h2v2h-2zM956 204h2v2h-2zM963 204h2v2h-2zM937 205h2v2h-2zM945 205h2v2h-2zM947 205h2v2h-2zM965 205h2v2h-2zM938 206h2v2h-2zM946 206h2v2h-2zM947 206h2v2h-2zM952 206h2v2h-2zM940 207h2v2h-2zM944 207h2v2h-2zM948 207h2v2h-2zM950 207h2v2h-2zM952 207h2v2h-2zM956 207h2v2h-2zM929 208h2v2h-2zM937 208h2v2h-2zM939 208h2v2h-2zM940 208h2v2h-2zM942 208h2v2h-2zM946 208h2v2h-2zM947 208h2v2h-2zM948 208h2v2h-2zM949 208h2v2h-2zM939 209h2v2h-2zM941 209h2v2h-2zM946 209h2v2h-2zM949 209h2v2h-2zM942 210h2v2h-2zM945 210h2v2h-2zM950 210h2v2h-2zM951 210h2v2h-2zM945 211h2v2h-2zM948 211h2v2h-2zM950 211h2v2h-2zM948 212h2v2h-2zM949 212h2v2h-2zM952 212h2v2h-2zM934 213h2v2h-2zM939 213h2v2h-2zM941 213h2v2h-2zM946 213h2v2h-2zM939 214h2v2h-2zM945 214h2v2h-2zM946 214h2v2h-2zM934 215h2v2h-2zM934 216h2v2h-2zM938 216h2v2h-2zM934 217h2v2h-2zM945 217h2v2h-2zM956 217h2v2h-2zM937 218h2v2h-2zM940 218h2v2h-2zM944 218h2v2h-2zM950 219h2v2h-2zM951 219h2v2h-2zM843 372h2v2h-2zM844 382h2v2h-2zM843 383h2v2h-2zM843 385h2v2h-2zM843 386h2v2h-2z"/>
<path fill="#ffa000" d="M292 198h2v2h-2zM291 199h2v2h-2zM292 199h2v2h-2zM284 200h2v2h-2zM284 201h2v2h-2zM285 201h2v2h-2zM284 202h2v2h-2zM285 202h2v2h-2zM292 202h2v2h-2zM293 202h2v2h-2zM282 203h2v2h-2zM292 203h2v2h-2zM293 204h2v2h-2zM277 205h2v2h-2zM278 205h2v2h-2zM279 205h2v2h-2zM289 205h2v2h-2zM290 205h2v2h-2zM292 205h2v2h-2zM293 205h2v2h-2zM279 206h2v2h-2zM288 206h2v2h-2zM289 206h2v2h-2zM293 206h2v2h-2zM295 206h2v2h-2zM279 207h2v2h-2zM285 207h2v2h-2zM290 207h2v2h-2zM295 207h2v2h-2zM279 208h2v2h-2zM280 208h2v2h-2zM285 208h2v2h-2zM294 208h2v2h-2zM285 209h2v2h-2zM286 209h2v2h-2zM287 209h2v2h-2zM278 210h2v2h-2zM279 210h2v2h-2zM280 210h2v2h-2zM286 210h2v2h-2zM277 211h2v2h-2zM278 211h2v2h-2zM279 211h2v2h-2zM280 211h2v2h-2zM286 211h2v2h-2zM287 211h2v2h-2zM296 211h2v2h-2zM297 211h2v2h-2zM275 212h2v2h-2zM276 212h2v2h-2zM277 212h2v2h-2zM278 212h2v2h-2zM284 212h2v2h-2zM286 212h2v2h-2zM288 212h2v2h-2zM297 212h2v2h-2zM276 213h2v2h-2zM277 213h2v2h-2zM278 213h2v2h-2zM284 213h2v2h-2zM285 213h2v2h-2zM287 213h2v2h-2zM288 213h2v2h-2zM296 213h2v2h-2zM278 214h2v2h-2zM284 214h2v2h-2zM285 214h2v2h-2zM288 214h2v2h-2zM296 214h2v2h-2zM284 215h2v2h-2zM286 215h2v2h-2zM287 215h2v2h-2zM288 215h2v2h-2zM286 216h2v2h-2zM283 218h2v2h-2zM284 218h2v2h-2zM285 218h2v2h-2zM286 218h2v2h-2zM285 219h2v2h-2zM219 396h2v2h-2zM216 404h2v2h-2zM949 198h2v2h-2zM950 198h2v2h-2zM951 198h2v2h-2zM949 199h2v2h-2zM951 199h2v2h-2zM946 201h2v2h-2zM937 203h2v2h-2zM956 203h2v2h-2zM937 204h2v2h-2zM941 204h2v2h-2zM943 204h2v2h-2zM944 204h2v2h-2zM950 204h2v2h-2zM951 204h2v2h-2zM957 204h2v2h-2zM938 205h2v2h-2zM939 205h2v2h-2zM942 205h2v2h-2zM948 205h2v2h-2zM942 206h2v2h-2zM948 206h2v2h-2zM949 206h2v2h-2zM950 206h2v2h-2zM945 207h2v2h-2zM946 207h2v2h-2zM947 207h2v2h-2zM951 207h2v2h-2zM952 208h2v2h-2zM953 208h2v2h-2zM940 209h2v2h-2zM945 209h2v2h-2zM947 209h2v2h-2zM948 209h2v2h-2zM951 209h2v2h-2zM940 210h2v2h-2zM941 210h2v2h-2zM946 210h2v2h-2zM948 210h2v2h-2zM949 210h2v2h-2zM953 210h2v2h-2zM940 211h2v2h-2zM941 211h2v2h-2zM947 211h2v2h-2zM949 211h2v2h-2zM951 211h2v2h-2zM952 211h2v2h-2zM953 211h2v2h-2zM940 212h2v2h-2zM942 212h2v2h-2zM940 213h2v2h-2zM938 217h2v2h-2zM939 217h2v2h-2zM939 218h2v2h-2zM848 377h2v2h-2zM849 393h2v2h-2z"/>
<path fill="#ff0000" d="M293 203h2v2h-2zM288 205h2v2h-2zM290 206h2v2h-2zM294 206h2v2h-2zM294 207h2v2h-2zM287 212h2v2h-2zM286 213h2v2h-2zM286 214h2v2h-2zM950 199h2v2h-2zM938 203h2v2h-2zM938 204h2v2h-2zM943 205h2v2h-2zM944 205h2v2h-2zM949 205h2v2h-2zM950 205h2v2h-2zM951 205h2v2h-2zM943 206h2v2h-2zM944 206h2v2h-2zM945 206h2v2h-2zM951 206h2v2h-2zM952 209h2v2h-2zM953 209h2v2h-2zM947 210h2v2h-2zM952 210h2v2h-2zM941 212h2v2h-2z"/>
<rect x="201.0" y="484.5" width="2" height="1.6" fill="#40c8b0"/>
<rect x="203.0" y="484.5" width="2" height="1.6" fill="#40c8b0"/>
<rect x="205.0" y="484.5" width="2" height="1.6" fill="#40c8b0"/>
<rect x="207.0" y="484.5" width="2" height="1.6" fill="#40c8b0"/>
<rect x="211.0" y="484.5" width="2" height="1.6" fill="#30c040"/>
<rect x="213.0" y="484.5" width="2" height="1.6" fill="#30c040"/>
<rect x="217.0" y="484.5" width="2" height="1.6" fill="#1c1c7a"/>
<rect x="219.0" y="484.5" width="2" height="1.6" fill="#0000ff"/>
<rect x="221.0" y="484.5" width="2" height="1.6" fill="#1c1c7a"/>
<rect x="228.0" y="484.5" width="2" height="1.6" fill="#40c8b0"/>
<rect x="231.0" y="484.5" width="2" height="1.6" fill="#1c1c7a"/>
<rect x="243.0" y="484.5" width="2" height="1.6" fill="#1c1c7a"/>
<rect x="245.0" y="484.5" width="2" height="1.6" fill="#1c1c7a"/>
<rect x="256.0" y="484.5" width="2" height="1.6" fill="#1c1c7a"/>
<rect x="271.0" y="484.5" width="2" height="1.6" fill="#40c8b0"/>
<rect x="275.5" y="484.5" width="2" height="1.6" fill="#0000ff"/>
<rect x="281.0" y="484.5" width="2" height="1.6" fill="#40c8b0"/>
<rect x="295.0" y="484.5" width="2" height="1.6" fill="#1c1c7a"/>
<rect x="301.5" y="484.5" width="2" height="1.6" fill="#1c1c7a"/>
<rect x="305.0" y="484.5" width="2" height="1.6" fill="#1c1c7a"/>
<rect x="827.7" y="484.5" width="2" height="1.6" fill="#1c1c7a"/>
<rect x="830.0" y="484.5" width="2" height="1.6" fill="#40c8b0"/>
<rect x="832.0" y="484.5" width="2" height="1.6" fill="#40c8b0"/>
<rect x="834.0" y="484.5" width="2" height="1.6" fill="#40c8b0"/>
<rect x="836.0" y="484.5" width="2" height="1.6" fill="#40c8b0"/>
<rect x="838.0" y="484.5" width="2" height="1.6" fill="#40c8b0"/>
<rect x="840.0" y="484.5" width="2" height="1.6" fill="#40c8b0"/>
<rect x="846.3" y="484.5" width="2" height="1.6" fill="#40c8b0"/>
<rect x="850.3" y="484.5" width="2" height="1.6" fill="#1c1c7a"/>
<rect x="857.0" y="484.5" width="2" height="1.6" fill="#1c1c7a"/>
<rect x="875.7" y="484.5" width="2" height="1.6" fill="#1c1c7a"/>
<rect x="884.3" y="484.5" width="2" height="1.6" fill="#1c1c7a"/>
<rect x="893.7" y="484.5" width="2" height="1.6" fill="#40c8b0"/>
<rect x="899.7" y="484.5" width="2" height="1.6" fill="#1c1c7a"/>
<rect x="905.0" y="484.5" width="2" height="1.6" fill="#1c1c7a"/>
<rect x="909.7" y="484.5" width="2" height="1.6" fill="#1c1c7a"/>
<rect x="927.7" y="484.5" width="2" height="1.6" fill="#1c1c7a"/>
<rect x="936.3" y="484.5" width="2" height="1.6" fill="#0000ff"/>
<rect x="938.3" y="484.5" width="2" height="1.6" fill="#0000ff"/>
<g fill="#000">
<rect x="117" y="57" width="431" height="2"/>
<rect x="117" y="486" width="431" height="2"/>
<rect x="117" y="57" width="2" height="431"/>
<rect x="546" y="57" width="2" height="431"/>
<rect x="330" y="57" width="3" height="431"/>
<rect x="117" y="285" width="431" height="3"/>
<rect x="188.3" y="487" width="2.4" height="10.5"/>
<rect x="202.5" y="487" width="2.4" height="10.5"/>
<rect x="216.8" y="487" width="2.4" height="10.5"/>
<rect x="302.3" y="487" width="2.4" height="10.5"/>
<rect x="419.6" y="487" width="2.4" height="10.5"/>
<rect x="523.3" y="487" width="2.4" height="10.5"/>
<rect x="142.5" y="487" width="1.8" height="7.5"/>
<rect x="266.3" y="487" width="1.8" height="7.5"/>
<rect x="387.0" y="487" width="1.8" height="7.5"/>
<rect x="492.7" y="487" width="1.8" height="7.5"/>
<rect x="123.9" y="487" width="1.6" height="5.5"/>
<rect x="132.2" y="487" width="1.6" height="5.5"/>
<rect x="152.3" y="487" width="1.6" height="5.5"/>
<rect x="164.1" y="487" width="1.6" height="5.5"/>
<rect x="175.9" y="487" width="1.6" height="5.5"/>
<rect x="231.0" y="487" width="1.6" height="5.5"/>
<rect x="242.9" y="487" width="1.6" height="5.5"/>
<rect x="254.7" y="487" width="1.6" height="5.5"/>
<rect x="274.8" y="487" width="1.6" height="5.5"/>
<rect x="283.1" y="487" width="1.6" height="5.5"/>
<rect x="289.8" y="487" width="1.6" height="5.5"/>
<rect x="296.5" y="487" width="1.6" height="5.5"/>
<rect x="340.2" y="487" width="1.6" height="5.5"/>
<rect x="361.8" y="487" width="1.6" height="5.5"/>
<rect x="377.0" y="487" width="1.6" height="5.5"/>
<rect x="395.4" y="487" width="1.6" height="5.5"/>
<rect x="403.7" y="487" width="1.6" height="5.5"/>
<rect x="408.9" y="487" width="1.6" height="5.5"/>
<rect x="415.3" y="487" width="1.6" height="5.5"/>
<rect x="452.4" y="487" width="1.6" height="5.5"/>
<rect x="471.0" y="487" width="1.6" height="5.5"/>
<rect x="482.6" y="487" width="1.6" height="5.5"/>
<rect x="501.0" y="487" width="1.6" height="5.5"/>
<rect x="507.8" y="487" width="1.6" height="5.5"/>
<rect x="514.3" y="487" width="1.6" height="5.5"/>
<rect x="519.2" y="487" width="1.6" height="5.5"/>
<rect x="188" y="487" width="31" height="5.5"/>
<rect x="201" y="487" width="4" height="10.5" rx="1"/>
<rect x="195.6" y="487" width="2" height="7.5"/>
<rect x="210.8" y="487" width="2.5" height="7.5"/>
<rect x="107" y="113.3" width="11" height="2.4"/>
<rect x="107" y="197.3" width="11" height="2.4"/>
<rect x="107" y="284.6" width="11" height="2.4"/>
<rect x="107" y="368.1" width="11" height="2.4"/>
<rect x="107" y="389.2" width="11" height="2.4"/>
<rect x="107" y="410.3" width="11" height="2.4"/>
<rect x="110" y="139.0" width="8" height="1.8"/>
<rect x="110" y="222.8" width="8" height="1.8"/>
<rect x="110" y="314.6" width="8" height="1.8"/>
<rect x="110" y="465.4" width="8" height="1.8"/>
<rect x="113" y="65.0" width="5" height="1.6"/>
<rect x="113" y="75.3" width="5" height="1.6"/>
<rect x="113" y="90.5" width="5" height="1.6"/>
<rect x="113" y="118.9" width="5" height="1.6"/>
<rect x="113" y="122.2" width="5" height="1.6"/>
<rect x="113" y="127.2" width="5" height="1.6"/>
<rect x="113" y="132.4" width="5" height="1.6"/>
<rect x="113" y="147.5" width="5" height="1.6"/>
<rect x="113" y="157.5" width="5" height="1.6"/>
<rect x="113" y="172.5" width="5" height="1.6"/>
<rect x="113" y="200.9" width="5" height="1.6"/>
<rect x="113" y="205.9" width="5" height="1.6"/>
<rect x="113" y="211.1" width="5" height="1.6"/>
<rect x="113" y="216.2" width="5" height="1.6"/>
<rect x="113" y="231.3" width="5" height="1.6"/>
<rect x="113" y="241.4" width="5" height="1.6"/>
<rect x="113" y="257.5" width="5" height="1.6"/>
<rect x="113" y="289.7" width="5" height="1.6"/>
<rect x="113" y="294.7" width="5" height="1.6"/>
<rect x="113" y="300.0" width="5" height="1.6"/>
<rect x="113" y="306.4" width="5" height="1.6"/>
<rect x="113" y="323.2" width="5" height="1.6"/>
<rect x="113" y="335.2" width="5" height="1.6"/>
<rect x="113" y="350.2" width="5" height="1.6"/>
<rect x="113" y="429.2" width="5" height="1.6"/>
<rect x="113" y="444.2" width="5" height="1.6"/>
<rect x="113" y="455.9" width="5" height="1.6"/>
<rect x="113" y="472.7" width="5" height="1.6"/>
<rect x="113" y="479.4" width="5" height="1.6"/>
<rect x="113" y="370" width="5" height="41"/>
<rect x="112" y="375" width="4" height="1.2" fill="#fff"/>
<rect x="112" y="382" width="4" height="1.2" fill="#fff"/>
<rect x="112" y="398" width="4" height="1.2" fill="#fff"/>
<rect x="112" y="405" width="4" height="1.2" fill="#fff"/>
<rect x="110" y="378.8" width="7" height="1.8"/>
<rect x="110" y="400.4" width="7" height="1.8"/>
<rect x="105.5" y="385.5" width="12" height="10" rx="4"/>
<text x="79" y="123.5" font-family="'Liberation Sans', Arial, sans-serif" font-weight="bold" font-size="13" textLength="13.5">10</text>
<text x="92.5" y="113.5" font-family="'Liberation Sans', Arial, sans-serif" font-weight="bold" font-size="13">5</text>
<text x="79" y="207.5" font-family="'Liberation Sans', Arial, sans-serif" font-weight="bold" font-size="13" textLength="13.5">10</text>
<text x="92.5" y="197.5" font-family="'Liberation Sans', Arial, sans-serif" font-weight="bold" font-size="13">4</text>
<text x="79" y="294.8" font-family="'Liberation Sans', Arial, sans-serif" font-weight="bold" font-size="13" textLength="13.5">10</text>
<text x="92.5" y="284.8" font-family="'Liberation Sans', Arial, sans-serif" font-weight="bold" font-size="13">3</text>
<text x="305.3" y="522.5" font-family="'Liberation Sans', Arial, sans-serif" font-weight="bold" font-size="13" textLength="13.5">10</text>
<text x="318.6" y="512.5" font-family="'Liberation Sans', Arial, sans-serif" font-weight="bold" font-size="13">3</text>
<text x="422.6" y="522.5" font-family="'Liberation Sans', Arial, sans-serif" font-weight="bold" font-size="13" textLength="13.5">10</text>
<text x="435.9" y="512.5" font-family="'Liberation Sans', Arial, sans-serif" font-weight="bold" font-size="13">4</text>
<text x="526.3" y="522.5" font-family="'Liberation Sans', Arial, sans-serif" font-weight="bold" font-size="13" textLength="13.5">10</text>
<text x="539.6" y="512.5" font-family="'Liberation Sans', Arial, sans-serif" font-weight="bold" font-size="13">5</text>
<text x="211" y="523" font-family="'Liberation Sans', Arial, sans-serif" font-size="14">0</text>
<text x="85" y="395.5" font-family="'Liberation Sans', Arial, sans-serif" font-size="14">0</text>
<text x="125" y="92" font-family="'Liberation Sans', Arial, sans-serif" font-size="17" stroke="#000" stroke-width="0.35">Q1</text>
<text x="125" y="118.5" font-family="'Liberation Sans', Arial, sans-serif" font-size="17" stroke="#000" stroke-width="0.35">60.1</text>
<text x="511" y="92" font-family="'Liberation Sans', Arial, sans-serif" font-size="17" stroke="#000" stroke-width="0.35" text-anchor="end">Q2</text>
<text x="511" y="118.5" font-family="'Liberation Sans', Arial, sans-serif" font-size="17" stroke="#000" stroke-width="0.35" text-anchor="end">0.46</text>
<text x="125" y="437" font-family="'Liberation Sans', Arial, sans-serif" font-size="17" stroke="#000" stroke-width="0.35">Q4</text>
<text x="125" y="464" font-family="'Liberation Sans', Arial, sans-serif" font-size="17" stroke="#000" stroke-width="0.35">39.4</text>
<text x="511" y="437" font-family="'Liberation Sans', Arial, sans-serif" font-size="17" stroke="#000" stroke-width="0.35" text-anchor="end">Q3</text>
<text x="511" y="464" font-family="'Liberation Sans', Arial, sans-serif" font-size="17" stroke="#000" stroke-width="0.35" text-anchor="end">0.031</text>
<text x="333.5" y="572.5" font-family="'Liberation Sans', Arial, sans-serif" font-weight="bold" font-size="24" letter-spacing="0.13" text-anchor="middle">Isotype - Alexa Fluor®488 (530/30 BP)</text>
<text transform="translate(27,274.5) rotate(-90)" font-family="'Liberation Sans', Arial, sans-serif" font-weight="bold" font-size="24" letter-spacing="0.1" text-anchor="middle">CD11c - Alexa Fluor®647 (660/20 BP)</text>
<text transform="translate(568.3,489.5) rotate(-90)" font-family="'Liberation Sans', Arial, sans-serif" font-size="16" letter-spacing="1" stroke="#000" stroke-width="0.3">Copyright (c) 2021 Abcam Plc</text>
<rect x="732" y="57" width="431" height="2"/>
<rect x="732" y="486" width="431" height="2"/>
<rect x="732" y="57" width="2" height="431"/>
<rect x="1161" y="57" width="2" height="431"/>
<rect x="945" y="57" width="3" height="431"/>
<rect x="732" y="285" width="431" height="3"/>
<rect x="803.3" y="487" width="2.4" height="10.5"/>
<rect x="817.5" y="487" width="2.4" height="10.5"/>
<rect x="831.8" y="487" width="2.4" height="10.5"/>
<rect x="917.3" y="487" width="2.4" height="10.5"/>
<rect x="1034.6" y="487" width="2.4" height="10.5"/>
<rect x="1138.3" y="487" width="2.4" height="10.5"/>
<rect x="757.5" y="487" width="1.8" height="7.5"/>
<rect x="881.3" y="487" width="1.8" height="7.5"/>
<rect x="1002.0" y="487" width="1.8" height="7.5"/>
<rect x="1107.7" y="487" width="1.8" height="7.5"/>
<rect x="738.9" y="487" width="1.6" height="5.5"/>
<rect x="747.2" y="487" width="1.6" height="5.5"/>
<rect x="767.3" y="487" width="1.6" height="5.5"/>
<rect x="779.1" y="487" width="1.6" height="5.5"/>
<rect x="790.9" y="487" width="1.6" height="5.5"/>
<rect x="846.0" y="487" width="1.6" height="5.5"/>
<rect x="857.9" y="487" width="1.6" height="5.5"/>
<rect x="869.7" y="487" width="1.6" height="5.5"/>
<rect x="889.8" y="487" width="1.6" height="5.5"/>
<rect x="898.1" y="487" width="1.6" height="5.5"/>
<rect x="904.8" y="487" width="1.6" height="5.5"/>
<rect x="911.5" y="487" width="1.6" height="5.5"/>
<rect x="955.2" y="487" width="1.6" height="5.5"/>
<rect x="976.8" y="487" width="1.6" height="5.5"/>
<rect x="992.0" y="487" width="1.6" height="5.5"/>
<rect x="1010.4" y="487" width="1.6" height="5.5"/>
<rect x="1018.7" y="487" width="1.6" height="5.5"/>
<rect x="1024.0" y="487" width="1.6" height="5.5"/>
<rect x="1030.3" y="487" width="1.6" height="5.5"/>
<rect x="1067.4" y="487" width="1.6" height="5.5"/>
<rect x="1086.0" y="487" width="1.6" height="5.5"/>
<rect x="1097.6" y="487" width="1.6" height="5.5"/>
<rect x="1116.0" y="487" width="1.6" height="5.5"/>
<rect x="1122.8" y="487" width="1.6" height="5.5"/>
<rect x="1129.3" y="487" width="1.6" height="5.5"/>
<rect x="1134.2" y="487" width="1.6" height="5.5"/>
<rect x="803" y="487" width="31" height="5.5"/>
<rect x="816" y="487" width="4" height="10.5" rx="1"/>
<rect x="810.6" y="487" width="2" height="7.5"/>
<rect x="825.8" y="487" width="2.5" height="7.5"/>
<rect x="722" y="113.3" width="11" height="2.4"/>
<rect x="722" y="197.3" width="11" height="2.4"/>
<rect x="722" y="284.6" width="11" height="2.4"/>
<rect x="722" y="368.1" width="11" height="2.4"/>
<rect x="722" y="389.2" width="11" height="2.4"/>
<rect x="722" y="410.3" width="11" height="2.4"/>
<rect x="725" y="139.0" width="8" height="1.8"/>
<rect x="725" y="222.8" width="8" height="1.8"/>
<rect x="725" y="314.6" width="8" height="1.8"/>
<rect x="725" y="465.4" width="8" height="1.8"/>
<rect x="728" y="65.0" width="5" height="1.6"/>
<rect x="728" y="75.3" width="5" height="1.6"/>
<rect x="728" y="90.5" width="5" height="1.6"/>
<rect x="728" y="118.9" width="5" height="1.6"/>
<rect x="728" y="122.2" width="5" height="1.6"/>
<rect x="728" y="127.2" width="5" height="1.6"/>
<rect x="728" y="132.4" width="5" height="1.6"/>
<rect x="728" y="147.5" width="5" height="1.6"/>
<rect x="728" y="157.5" width="5" height="1.6"/>
<rect x="728" y="172.5" width="5" height="1.6"/>
<rect x="728" y="200.9" width="5" height="1.6"/>
<rect x="728" y="205.9" width="5" height="1.6"/>
<rect x="728" y="211.1" width="5" height="1.6"/>
<rect x="728" y="216.2" width="5" height="1.6"/>
<rect x="728" y="231.3" width="5" height="1.6"/>
<rect x="728" y="241.4" width="5" height="1.6"/>
<rect x="728" y="257.5" width="5" height="1.6"/>
<rect x="728" y="289.7" width="5" height="1.6"/>
<rect x="728" y="294.7" width="5" height="1.6"/>
<rect x="728" y="300.0" width="5" height="1.6"/>
<rect x="728" y="306.4" width="5" height="1.6"/>
<rect x="728" y="323.2" width="5" height="1.6"/>
<rect x="728" y="335.2" width="5" height="1.6"/>
<rect x="728" y="350.2" width="5" height="1.6"/>
<rect x="728" y="429.2" width="5" height="1.6"/>
<rect x="728" y="444.2" width="5" height="1.6"/>
<rect x="728" y="455.9" width="5" height="1.6"/>
<rect x="728" y="472.7" width="5" height="1.6"/>
<rect x="728" y="479.4" width="5" height="1.6"/>
<rect x="728" y="370" width="5" height="41"/>
<rect x="727" y="375" width="4" height="1.2" fill="#fff"/>
<rect x="727" y="382" width="4" height="1.2" fill="#fff"/>
<rect x="727" y="398" width="4" height="1.2" fill="#fff"/>
<rect x="727" y="405" width="4" height="1.2" fill="#fff"/>
<rect x="725" y="378.8" width="7" height="1.8"/>
<rect x="725" y="400.4" width="7" height="1.8"/>
<rect x="720.5" y="385.5" width="12" height="10" rx="4"/>
<text x="694" y="123.5" font-family="'Liberation Sans', Arial, sans-serif" font-weight="bold" font-size="13" textLength="13.5">10</text>
<text x="707.5" y="113.5" font-family="'Liberation Sans', Arial, sans-serif" font-weight="bold" font-size="13">5</text>
<text x="694" y="207.5" font-family="'Liberation Sans', Arial, sans-serif" font-weight="bold" font-size="13" textLength="13.5">10</text>
<text x="707.5" y="197.5" font-family="'Liberation Sans', Arial, sans-serif" font-weight="bold" font-size="13">4</text>
<text x="694" y="294.8" font-family="'Liberation Sans', Arial, sans-serif" font-weight="bold" font-size="13" textLength="13.5">10</text>
<text x="707.5" y="284.8" font-family="'Liberation Sans', Arial, sans-serif" font-weight="bold" font-size="13">3</text>
<text x="920.3" y="522.5" font-family="'Liberation Sans', Arial, sans-serif" font-weight="bold" font-size="13" textLength="13.5">10</text>
<text x="933.6" y="512.5" font-family="'Liberation Sans', Arial, sans-serif" font-weight="bold" font-size="13">3</text>
<text x="1037.6" y="522.5" font-family="'Liberation Sans', Arial, sans-serif" font-weight="bold" font-size="13" textLength="13.5">10</text>
<text x="1050.9" y="512.5" font-family="'Liberation Sans', Arial, sans-serif" font-weight="bold" font-size="13">4</text>
<text x="1141.3" y="522.5" font-family="'Liberation Sans', Arial, sans-serif" font-weight="bold" font-size="13" textLength="13.5">10</text>
<text x="1154.6" y="512.5" font-family="'Liberation Sans', Arial, sans-serif" font-weight="bold" font-size="13">5</text>
<text x="826" y="523" font-family="'Liberation Sans', Arial, sans-serif" font-size="14">0</text>
<text x="700" y="395.5" font-family="'Liberation Sans', Arial, sans-serif" font-size="14">0</text>
<text x="740" y="92" font-family="'Liberation Sans', Arial, sans-serif" font-size="17" stroke="#000" stroke-width="0.35">Q1</text>
<text x="740" y="118.5" font-family="'Liberation Sans', Arial, sans-serif" font-size="17" stroke="#000" stroke-width="0.35">38.3</text>
<text x="1126" y="92" font-family="'Liberation Sans', Arial, sans-serif" font-size="17" stroke="#000" stroke-width="0.35" text-anchor="end">Q2</text>
<text x="1126" y="118.5" font-family="'Liberation Sans', Arial, sans-serif" font-size="17" stroke="#000" stroke-width="0.35" text-anchor="end">22.5</text>
<text x="740" y="437" font-family="'Liberation Sans', Arial, sans-serif" font-size="17" stroke="#000" stroke-width="0.35">Q4</text>
<text x="740" y="464" font-family="'Liberation Sans', Arial, sans-serif" font-size="17" stroke="#000" stroke-width="0.35">39.1</text>
<text x="1126" y="437" font-family="'Liberation Sans', Arial, sans-serif" font-size="17" stroke="#000" stroke-width="0.35" text-anchor="end">Q3</text>
<text x="1126" y="464" font-family="'Liberation Sans', Arial, sans-serif" font-size="17" stroke="#000" stroke-width="0.35" text-anchor="end">0.089</text>
<text x="946.5" y="572.5" font-family="'Liberation Sans', Arial, sans-serif" font-weight="bold" font-size="24" text-anchor="middle">TLR3 - Alexa Fluor®488 (530/30 BP)</text>
<text transform="translate(642,274.5) rotate(-90)" font-family="'Liberation Sans', Arial, sans-serif" font-weight="bold" font-size="24" letter-spacing="0.1" text-anchor="middle">CD11c - Alexa Fluor®647 (660/20 BP)</text>
<text transform="translate(1183.3,489.5) rotate(-90)" font-family="'Liberation Sans', Arial, sans-serif" font-size="16" letter-spacing="1" stroke="#000" stroke-width="0.3">Copyright (c) 2021 Abcam Plc</text>
</g>
</svg></body></html>
